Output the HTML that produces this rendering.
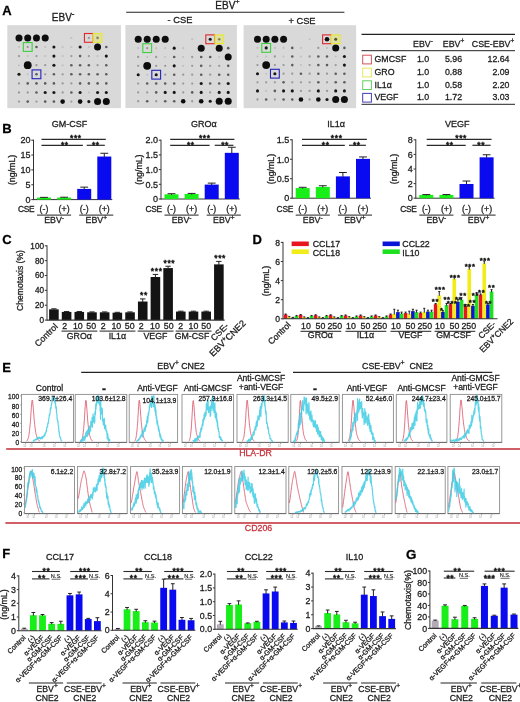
<!DOCTYPE html>
<html><head><meta charset="utf-8"><title>Figure</title>
<style>html,body{margin:0;padding:0;background:#fff;width:520px;height:702px;overflow:hidden}svg{display:block}</style>
</head><body>
<svg width="520" height="702" viewBox="0 0 520 702" style="font-family:'Liberation Sans', Arial, sans-serif" font-size="9" fill="#1c1c1c"><style>text{stroke:#1c1c1c;stroke-width:0.28px}</style><rect width="520" height="702" fill="#ffffff"/><text x="2.3" y="15" font-weight="bold" fill="#000" style="stroke:#000" font-size="13">A</text>
<text x="63.2" y="20.9" text-anchor="middle" font-size="10">EBV<tspan dy="-4.5" font-size="8" font-weight="bold">-</tspan></text>
<text x="227.5" y="8.6" text-anchor="middle" font-size="10">EBV<tspan dy="-4.5" font-size="7.5">+</tspan></text>
<line x1="126.2" y1="12.3" x2="344.4" y2="12.3" stroke="#222" stroke-width="1.1"/>
<text x="180" y="23.2" text-anchor="middle" font-size="9.3">- CSE</text>
<text x="302" y="23.6" text-anchor="middle" font-size="9.3">+ CSE</text>
<defs><filter id="bl" x="-20%" y="-20%" width="140%" height="140%"><feGaussianBlur stdDeviation="0.4"/></filter><filter id="bl2" x="-20%" y="-20%" width="140%" height="140%"><feGaussianBlur stdDeviation="0.35"/></filter></defs>
<rect x="7.3" y="25.2" width="113.6" height="83" fill="#d9d9d9"/>
<g filter="url(#bl)">
<circle cx="19" cy="37.9" r="3.5" fill="#0a0a0a"/>
<circle cx="27.73" cy="37.9" r="3.5" fill="#0a0a0a"/>
<circle cx="36.46" cy="37.9" r="3.5" fill="#0a0a0a"/>
<circle cx="45.19" cy="37.9" r="3.5" fill="#0a0a0a"/>
<circle cx="71.38" cy="37.9" r="1.05" fill="#c0c0c0"/>
<circle cx="88.84" cy="37.9" r="1.15" fill="#999999"/>
<circle cx="97.57" cy="37.9" r="1.3" fill="#5c5c5c"/>
<circle cx="19" cy="47" r="1.05" fill="#c0c0c0"/>
<circle cx="27.73" cy="47" r="1.15" fill="#999999"/>
<circle cx="36.46" cy="47" r="1.3" fill="#5c5c5c"/>
<circle cx="45.19" cy="47" r="1.05" fill="#c0c0c0"/>
<circle cx="53.92" cy="47" r="1.55" fill="#181818"/>
<circle cx="62.65" cy="47" r="1.05" fill="#c0c0c0"/>
<circle cx="71.38" cy="47" r="1.05" fill="#c0c0c0"/>
<circle cx="80.11" cy="47" r="1.55" fill="#181818"/>
<circle cx="88.84" cy="47" r="1.05" fill="#c0c0c0"/>
<circle cx="97.57" cy="47" r="3.5" fill="#0a0a0a"/>
<circle cx="106.3" cy="47" r="1.3" fill="#5c5c5c"/>
<circle cx="19" cy="56.1" r="1.15" fill="#999999"/>
<circle cx="27.73" cy="56.1" r="1.05" fill="#c0c0c0"/>
<circle cx="36.46" cy="56.1" r="1.15" fill="#999999"/>
<circle cx="45.19" cy="56.1" r="1.05" fill="#c0c0c0"/>
<circle cx="53.92" cy="56.1" r="1.55" fill="#181818"/>
<circle cx="62.65" cy="56.1" r="1.05" fill="#c0c0c0"/>
<circle cx="71.38" cy="56.1" r="1.15" fill="#999999"/>
<circle cx="80.11" cy="56.1" r="1.3" fill="#5c5c5c"/>
<circle cx="88.84" cy="56.1" r="1.15" fill="#999999"/>
<circle cx="97.57" cy="56.1" r="1.05" fill="#c0c0c0"/>
<circle cx="106.3" cy="56.1" r="1.55" fill="#181818"/>
<circle cx="19" cy="65.2" r="1.05" fill="#c0c0c0"/>
<circle cx="27.73" cy="65.2" r="3.9" fill="#0a0a0a"/>
<circle cx="36.46" cy="65.2" r="1.15" fill="#999999"/>
<circle cx="45.19" cy="65.2" r="1.15" fill="#999999"/>
<circle cx="53.92" cy="65.2" r="1.55" fill="#181818"/>
<circle cx="62.65" cy="65.2" r="1.05" fill="#c0c0c0"/>
<circle cx="71.38" cy="65.2" r="1.3" fill="#5c5c5c"/>
<circle cx="80.11" cy="65.2" r="1.3" fill="#5c5c5c"/>
<circle cx="88.84" cy="65.2" r="1.3" fill="#5c5c5c"/>
<circle cx="97.57" cy="65.2" r="1.15" fill="#999999"/>
<circle cx="106.3" cy="65.2" r="1.3" fill="#5c5c5c"/>
<circle cx="19" cy="74.3" r="1.55" fill="#181818"/>
<circle cx="27.73" cy="74.3" r="1.05" fill="#c0c0c0"/>
<circle cx="36.46" cy="74.3" r="1.3" fill="#5c5c5c"/>
<circle cx="45.19" cy="74.3" r="1.15" fill="#999999"/>
<circle cx="53.92" cy="74.3" r="1.3" fill="#5c5c5c"/>
<circle cx="62.65" cy="74.3" r="1.15" fill="#999999"/>
<circle cx="71.38" cy="74.3" r="1.3" fill="#5c5c5c"/>
<circle cx="80.11" cy="74.3" r="1.3" fill="#5c5c5c"/>
<circle cx="88.84" cy="74.3" r="1.3" fill="#5c5c5c"/>
<circle cx="97.57" cy="74.3" r="1.3" fill="#5c5c5c"/>
<circle cx="106.3" cy="74.3" r="1.3" fill="#5c5c5c"/>
<circle cx="19" cy="83.4" r="1.15" fill="#999999"/>
<circle cx="27.73" cy="83.4" r="1.3" fill="#5c5c5c"/>
<circle cx="36.46" cy="83.4" r="1.3" fill="#5c5c5c"/>
<circle cx="45.19" cy="83.4" r="1.3" fill="#5c5c5c"/>
<circle cx="53.92" cy="83.4" r="1.3" fill="#5c5c5c"/>
<circle cx="62.65" cy="83.4" r="1.15" fill="#999999"/>
<circle cx="71.38" cy="83.4" r="1.15" fill="#999999"/>
<circle cx="80.11" cy="83.4" r="1.3" fill="#5c5c5c"/>
<circle cx="88.84" cy="83.4" r="1.3" fill="#5c5c5c"/>
<circle cx="97.57" cy="83.4" r="1.3" fill="#5c5c5c"/>
<circle cx="106.3" cy="83.4" r="1.3" fill="#5c5c5c"/>
<circle cx="19" cy="92.5" r="1.15" fill="#999999"/>
<circle cx="27.73" cy="92.5" r="1.15" fill="#999999"/>
<circle cx="36.46" cy="92.5" r="1.3" fill="#5c5c5c"/>
<circle cx="45.19" cy="92.5" r="1.55" fill="#181818"/>
<circle cx="53.92" cy="92.5" r="1.55" fill="#181818"/>
<circle cx="62.65" cy="92.5" r="1.15" fill="#999999"/>
<circle cx="71.38" cy="92.5" r="1.3" fill="#5c5c5c"/>
<circle cx="80.11" cy="92.5" r="1.55" fill="#181818"/>
<circle cx="88.84" cy="92.5" r="1.05" fill="#c0c0c0"/>
<circle cx="97.57" cy="92.5" r="1.55" fill="#181818"/>
<circle cx="106.3" cy="92.5" r="1.55" fill="#181818"/>
<circle cx="19" cy="101.6" r="1.15" fill="#999999"/>
<circle cx="27.73" cy="101.6" r="1.3" fill="#5c5c5c"/>
<circle cx="36.46" cy="101.6" r="1.15" fill="#999999"/>
<circle cx="45.19" cy="101.6" r="1.3" fill="#5c5c5c"/>
<circle cx="53.92" cy="101.6" r="1.3" fill="#5c5c5c"/>
<circle cx="62.65" cy="101.6" r="2.3" fill="#111111"/>
<circle cx="71.38" cy="101.6" r="1.15" fill="#999999"/>
<circle cx="80.11" cy="101.6" r="2.3" fill="#111111"/>
<circle cx="88.84" cy="101.6" r="1.55" fill="#181818"/>
<circle cx="97.57" cy="101.6" r="3.5" fill="#0a0a0a"/>
<circle cx="106.3" cy="101.6" r="3.5" fill="#0a0a0a"/>
</g>
<rect x="84.44" y="33.5" width="8.8" height="8.8" fill="none" stroke="#e0262a" stroke-width="1.1"/>
<rect x="93.27" y="33.6" width="8.6" height="8.6" fill="none" stroke="#e8e830" stroke-width="1.2" fill-opacity="0"/>
<rect x="93.27" y="33.6" width="8.6" height="8.6" fill="#f0f040" opacity="0.3"/>
<rect x="23.33" y="42.6" width="8.8" height="8.8" fill="none" stroke="#3cd03c" stroke-width="1.1"/>
<rect x="32.06" y="69.9" width="8.8" height="8.8" fill="none" stroke="#2222bb" stroke-width="1.1"/>
<rect x="125.4" y="25" width="111.5" height="83" fill="#d9d9d9"/>
<g filter="url(#bl)">
<circle cx="138.2" cy="39.3" r="3.5" fill="#0a0a0a"/>
<circle cx="147.2" cy="39.3" r="3.5" fill="#0a0a0a"/>
<circle cx="156.2" cy="39.3" r="3.5" fill="#0a0a0a"/>
<circle cx="165.2" cy="39.3" r="3.5" fill="#0a0a0a"/>
<circle cx="192.2" cy="39.3" r="1.05" fill="#c0c0c0"/>
<circle cx="210.2" cy="39.3" r="1.55" fill="#181818"/>
<circle cx="219.2" cy="39.3" r="1.3" fill="#5c5c5c"/>
<circle cx="138.2" cy="48.15" r="1.05" fill="#c0c0c0"/>
<circle cx="147.2" cy="48.15" r="1.15" fill="#999999"/>
<circle cx="156.2" cy="48.15" r="1.05" fill="#c0c0c0"/>
<circle cx="165.2" cy="48.15" r="1.05" fill="#c0c0c0"/>
<circle cx="174.2" cy="48.15" r="1.55" fill="#181818"/>
<circle cx="183.2" cy="48.15" r="1.05" fill="#c0c0c0"/>
<circle cx="201.2" cy="48.15" r="3.5" fill="#0a0a0a"/>
<circle cx="219.2" cy="48.15" r="3.5" fill="#0a0a0a"/>
<circle cx="228.2" cy="48.15" r="1.3" fill="#5c5c5c"/>
<circle cx="138.2" cy="57" r="1.15" fill="#999999"/>
<circle cx="147.2" cy="57" r="1.05" fill="#c0c0c0"/>
<circle cx="156.2" cy="57" r="1.15" fill="#999999"/>
<circle cx="165.2" cy="57" r="1.05" fill="#c0c0c0"/>
<circle cx="174.2" cy="57" r="1.3" fill="#5c5c5c"/>
<circle cx="183.2" cy="57" r="1.05" fill="#c0c0c0"/>
<circle cx="192.2" cy="57" r="1.15" fill="#999999"/>
<circle cx="201.2" cy="57" r="1.3" fill="#5c5c5c"/>
<circle cx="210.2" cy="57" r="1.3" fill="#5c5c5c"/>
<circle cx="219.2" cy="57" r="1.05" fill="#c0c0c0"/>
<circle cx="228.2" cy="57" r="3.5" fill="#0a0a0a"/>
<circle cx="138.2" cy="65.85" r="1.15" fill="#999999"/>
<circle cx="147.2" cy="65.85" r="3.9" fill="#0a0a0a"/>
<circle cx="156.2" cy="65.85" r="1.15" fill="#999999"/>
<circle cx="165.2" cy="65.85" r="1.15" fill="#999999"/>
<circle cx="174.2" cy="65.85" r="1.55" fill="#181818"/>
<circle cx="183.2" cy="65.85" r="1.05" fill="#c0c0c0"/>
<circle cx="192.2" cy="65.85" r="1.15" fill="#999999"/>
<circle cx="201.2" cy="65.85" r="1.3" fill="#5c5c5c"/>
<circle cx="210.2" cy="65.85" r="1.15" fill="#999999"/>
<circle cx="219.2" cy="65.85" r="1.15" fill="#999999"/>
<circle cx="228.2" cy="65.85" r="1.3" fill="#5c5c5c"/>
<circle cx="138.2" cy="74.7" r="1.55" fill="#181818"/>
<circle cx="147.2" cy="74.7" r="1.05" fill="#c0c0c0"/>
<circle cx="156.2" cy="74.7" r="1.55" fill="#181818"/>
<circle cx="165.2" cy="74.7" r="1.15" fill="#999999"/>
<circle cx="174.2" cy="74.7" r="1.3" fill="#5c5c5c"/>
<circle cx="183.2" cy="74.7" r="1.15" fill="#999999"/>
<circle cx="192.2" cy="74.7" r="1.15" fill="#999999"/>
<circle cx="201.2" cy="74.7" r="1.3" fill="#5c5c5c"/>
<circle cx="210.2" cy="74.7" r="1.15" fill="#999999"/>
<circle cx="219.2" cy="74.7" r="1.3" fill="#5c5c5c"/>
<circle cx="228.2" cy="74.7" r="1.3" fill="#5c5c5c"/>
<circle cx="138.2" cy="83.55" r="1.15" fill="#999999"/>
<circle cx="147.2" cy="83.55" r="1.3" fill="#5c5c5c"/>
<circle cx="156.2" cy="83.55" r="1.3" fill="#5c5c5c"/>
<circle cx="165.2" cy="83.55" r="1.3" fill="#5c5c5c"/>
<circle cx="174.2" cy="83.55" r="1.3" fill="#5c5c5c"/>
<circle cx="183.2" cy="83.55" r="1.15" fill="#999999"/>
<circle cx="192.2" cy="83.55" r="1.15" fill="#999999"/>
<circle cx="201.2" cy="83.55" r="1.55" fill="#181818"/>
<circle cx="210.2" cy="83.55" r="1.3" fill="#5c5c5c"/>
<circle cx="219.2" cy="83.55" r="1.3" fill="#5c5c5c"/>
<circle cx="228.2" cy="83.55" r="1.55" fill="#181818"/>
<circle cx="138.2" cy="92.4" r="1.15" fill="#999999"/>
<circle cx="147.2" cy="92.4" r="1.15" fill="#999999"/>
<circle cx="156.2" cy="92.4" r="1.3" fill="#5c5c5c"/>
<circle cx="165.2" cy="92.4" r="1.55" fill="#181818"/>
<circle cx="174.2" cy="92.4" r="1.55" fill="#181818"/>
<circle cx="183.2" cy="92.4" r="1.15" fill="#999999"/>
<circle cx="192.2" cy="92.4" r="1.3" fill="#5c5c5c"/>
<circle cx="201.2" cy="92.4" r="1.55" fill="#181818"/>
<circle cx="210.2" cy="92.4" r="1.15" fill="#999999"/>
<circle cx="219.2" cy="92.4" r="1.55" fill="#181818"/>
<circle cx="228.2" cy="92.4" r="1.55" fill="#181818"/>
<circle cx="138.2" cy="101.25" r="1.15" fill="#999999"/>
<circle cx="147.2" cy="101.25" r="1.3" fill="#5c5c5c"/>
<circle cx="156.2" cy="101.25" r="1.15" fill="#999999"/>
<circle cx="165.2" cy="101.25" r="1.3" fill="#5c5c5c"/>
<circle cx="174.2" cy="101.25" r="1.3" fill="#5c5c5c"/>
<circle cx="183.2" cy="101.25" r="2.3" fill="#111111"/>
<circle cx="192.2" cy="101.25" r="1.15" fill="#999999"/>
<circle cx="201.2" cy="101.25" r="2.3" fill="#111111"/>
<circle cx="210.2" cy="101.25" r="1.55" fill="#181818"/>
<circle cx="219.2" cy="101.25" r="3.5" fill="#0a0a0a"/>
<circle cx="228.2" cy="101.25" r="3.5" fill="#0a0a0a"/>
</g>
<rect x="205.8" y="34.9" width="8.8" height="8.8" fill="none" stroke="#e0262a" stroke-width="1.1"/>
<rect x="214.9" y="35" width="8.6" height="8.6" fill="none" stroke="#e8e830" stroke-width="1.2" fill-opacity="0"/>
<rect x="214.9" y="35" width="8.6" height="8.6" fill="#f0f040" opacity="0.3"/>
<rect x="142.8" y="43.75" width="8.8" height="8.8" fill="none" stroke="#3cd03c" stroke-width="1.1"/>
<rect x="151.8" y="70.3" width="8.8" height="8.8" fill="none" stroke="#2222bb" stroke-width="1.1"/>
<rect x="243.6" y="25.2" width="112.5" height="83" fill="#d9d9d9"/>
<g filter="url(#bl)">
<circle cx="257.5" cy="39.3" r="3.5" fill="#0a0a0a"/>
<circle cx="266.19" cy="39.3" r="3.5" fill="#0a0a0a"/>
<circle cx="274.88" cy="39.3" r="3.5" fill="#0a0a0a"/>
<circle cx="283.57" cy="39.3" r="3.5" fill="#0a0a0a"/>
<circle cx="309.64" cy="39.3" r="1.05" fill="#c0c0c0"/>
<circle cx="327.02" cy="39.3" r="2.3" fill="#111111"/>
<circle cx="335.71" cy="39.3" r="1.55" fill="#181818"/>
<circle cx="257.5" cy="47.9" r="1.05" fill="#c0c0c0"/>
<circle cx="266.19" cy="47.9" r="1.55" fill="#181818"/>
<circle cx="274.88" cy="47.9" r="1.05" fill="#c0c0c0"/>
<circle cx="283.57" cy="47.9" r="1.05" fill="#c0c0c0"/>
<circle cx="292.26" cy="47.9" r="1.3" fill="#5c5c5c"/>
<circle cx="300.95" cy="47.9" r="1.05" fill="#c0c0c0"/>
<circle cx="318.33" cy="47.9" r="1.15" fill="#999999"/>
<circle cx="327.02" cy="47.9" r="1.05" fill="#c0c0c0"/>
<circle cx="335.71" cy="47.9" r="3.5" fill="#0a0a0a"/>
<circle cx="344.4" cy="47.9" r="1.3" fill="#5c5c5c"/>
<circle cx="257.5" cy="56.5" r="1.05" fill="#c0c0c0"/>
<circle cx="266.19" cy="56.5" r="1.05" fill="#c0c0c0"/>
<circle cx="274.88" cy="56.5" r="1.15" fill="#999999"/>
<circle cx="283.57" cy="56.5" r="1.05" fill="#c0c0c0"/>
<circle cx="292.26" cy="56.5" r="1.3" fill="#5c5c5c"/>
<circle cx="300.95" cy="56.5" r="1.05" fill="#c0c0c0"/>
<circle cx="309.64" cy="56.5" r="1.15" fill="#999999"/>
<circle cx="318.33" cy="56.5" r="1.3" fill="#5c5c5c"/>
<circle cx="327.02" cy="56.5" r="1.3" fill="#5c5c5c"/>
<circle cx="335.71" cy="56.5" r="1.05" fill="#c0c0c0"/>
<circle cx="344.4" cy="56.5" r="1.55" fill="#181818"/>
<circle cx="257.5" cy="65.1" r="1.15" fill="#999999"/>
<circle cx="266.19" cy="65.1" r="3.9" fill="#0a0a0a"/>
<circle cx="274.88" cy="65.1" r="1.15" fill="#999999"/>
<circle cx="283.57" cy="65.1" r="1.15" fill="#999999"/>
<circle cx="292.26" cy="65.1" r="1.3" fill="#5c5c5c"/>
<circle cx="300.95" cy="65.1" r="1.05" fill="#c0c0c0"/>
<circle cx="309.64" cy="65.1" r="1.15" fill="#999999"/>
<circle cx="318.33" cy="65.1" r="1.3" fill="#5c5c5c"/>
<circle cx="327.02" cy="65.1" r="1.3" fill="#5c5c5c"/>
<circle cx="335.71" cy="65.1" r="1.15" fill="#999999"/>
<circle cx="344.4" cy="65.1" r="1.55" fill="#181818"/>
<circle cx="257.5" cy="73.7" r="1.55" fill="#181818"/>
<circle cx="266.19" cy="73.7" r="1.05" fill="#c0c0c0"/>
<circle cx="274.88" cy="73.7" r="1.55" fill="#181818"/>
<circle cx="283.57" cy="73.7" r="1.15" fill="#999999"/>
<circle cx="292.26" cy="73.7" r="1.15" fill="#999999"/>
<circle cx="300.95" cy="73.7" r="1.3" fill="#5c5c5c"/>
<circle cx="309.64" cy="73.7" r="1.15" fill="#999999"/>
<circle cx="318.33" cy="73.7" r="1.3" fill="#5c5c5c"/>
<circle cx="327.02" cy="73.7" r="1.15" fill="#999999"/>
<circle cx="335.71" cy="73.7" r="1.3" fill="#5c5c5c"/>
<circle cx="344.4" cy="73.7" r="1.3" fill="#5c5c5c"/>
<circle cx="257.5" cy="82.3" r="1.15" fill="#999999"/>
<circle cx="266.19" cy="82.3" r="1.15" fill="#999999"/>
<circle cx="274.88" cy="82.3" r="1.15" fill="#999999"/>
<circle cx="283.57" cy="82.3" r="1.3" fill="#5c5c5c"/>
<circle cx="292.26" cy="82.3" r="1.15" fill="#999999"/>
<circle cx="300.95" cy="82.3" r="1.15" fill="#999999"/>
<circle cx="309.64" cy="82.3" r="1.15" fill="#999999"/>
<circle cx="318.33" cy="82.3" r="1.3" fill="#5c5c5c"/>
<circle cx="327.02" cy="82.3" r="1.15" fill="#999999"/>
<circle cx="335.71" cy="82.3" r="1.3" fill="#5c5c5c"/>
<circle cx="344.4" cy="82.3" r="1.3" fill="#5c5c5c"/>
<circle cx="257.5" cy="90.9" r="1.55" fill="#181818"/>
<circle cx="266.19" cy="90.9" r="1.05" fill="#c0c0c0"/>
<circle cx="274.88" cy="90.9" r="1.3" fill="#5c5c5c"/>
<circle cx="283.57" cy="90.9" r="1.55" fill="#181818"/>
<circle cx="292.26" cy="90.9" r="1.55" fill="#181818"/>
<circle cx="300.95" cy="90.9" r="1.15" fill="#999999"/>
<circle cx="309.64" cy="90.9" r="1.15" fill="#999999"/>
<circle cx="318.33" cy="90.9" r="1.55" fill="#181818"/>
<circle cx="327.02" cy="90.9" r="1.15" fill="#999999"/>
<circle cx="335.71" cy="90.9" r="1.55" fill="#181818"/>
<circle cx="344.4" cy="90.9" r="1.55" fill="#181818"/>
<circle cx="257.5" cy="99.5" r="1.15" fill="#999999"/>
<circle cx="266.19" cy="99.5" r="1.3" fill="#5c5c5c"/>
<circle cx="274.88" cy="99.5" r="1.15" fill="#999999"/>
<circle cx="283.57" cy="99.5" r="1.3" fill="#5c5c5c"/>
<circle cx="292.26" cy="99.5" r="1.3" fill="#5c5c5c"/>
<circle cx="300.95" cy="99.5" r="2.3" fill="#111111"/>
<circle cx="309.64" cy="99.5" r="1.15" fill="#999999"/>
<circle cx="318.33" cy="99.5" r="2.3" fill="#111111"/>
<circle cx="327.02" cy="99.5" r="1.55" fill="#181818"/>
<circle cx="335.71" cy="99.5" r="3.5" fill="#0a0a0a"/>
<circle cx="344.4" cy="99.5" r="3.5" fill="#0a0a0a"/>
</g>
<rect x="322.62" y="34.9" width="8.8" height="8.8" fill="none" stroke="#e0262a" stroke-width="1.1"/>
<rect x="331.41" y="35" width="8.6" height="8.6" fill="none" stroke="#e8e830" stroke-width="1.2" fill-opacity="0"/>
<rect x="331.41" y="35" width="8.6" height="8.6" fill="#f0f040" opacity="0.3"/>
<rect x="261.79" y="43.5" width="8.8" height="8.8" fill="none" stroke="#3cd03c" stroke-width="1.1"/>
<rect x="270.48" y="69.3" width="8.8" height="8.8" fill="none" stroke="#2222bb" stroke-width="1.1"/>
<line x1="361.5" y1="34.4" x2="515" y2="34.4" stroke="#222" stroke-width="1.1"/>
<line x1="361.5" y1="50.7" x2="515" y2="50.7" stroke="#222" stroke-width="1"/>
<line x1="361.5" y1="104.3" x2="515" y2="104.3" stroke="#222" stroke-width="1"/>
<text x="423" y="46.6" text-anchor="middle" font-size="8.8">EBV<tspan dy="-3.5" font-size="6.5">-</tspan></text>
<text x="453.5" y="46.6" text-anchor="middle" font-size="8.8">EBV<tspan dy="-3.5" font-size="6.5">+</tspan></text>
<text x="493" y="46.6" text-anchor="middle" font-size="8.8">CSE-EBV<tspan dy="-3.5" font-size="6.5">+</tspan></text>
<rect x="362.7" y="55.2" width="8.7" height="8.7" fill="none" stroke="#d8505a" stroke-width="1"/>
<text x="374.5" y="62.2" font-size="8.8">GMCSF</text>
<text x="423" y="62.2" text-anchor="middle" font-size="8.8">1.0</text>
<text x="453.5" y="62.2" text-anchor="middle" font-size="8.8">5.96</text>
<text x="509.5" y="62.2" text-anchor="end" font-size="8.8">12.64</text>
<rect x="362.7" y="68.2" width="8.7" height="8.7" fill="none" stroke="#e8e860" stroke-width="1"/>
<text x="374.5" y="75.2" font-size="8.8">GRO</text>
<text x="423" y="75.2" text-anchor="middle" font-size="8.8">1.0</text>
<text x="453.5" y="75.2" text-anchor="middle" font-size="8.8">0.88</text>
<text x="509.5" y="75.2" text-anchor="end" font-size="8.8">2.09</text>
<rect x="362.7" y="80.8" width="8.7" height="8.7" fill="none" stroke="#60d060" stroke-width="1"/>
<text x="374.5" y="87.8" font-size="8.8">IL1&#945;</text>
<text x="423" y="87.8" text-anchor="middle" font-size="8.8">1.0</text>
<text x="453.5" y="87.8" text-anchor="middle" font-size="8.8">0.58</text>
<text x="509.5" y="87.8" text-anchor="end" font-size="8.8">2.20</text>
<rect x="362.7" y="93.4" width="8.7" height="8.7" fill="none" stroke="#4040b0" stroke-width="1"/>
<text x="374.5" y="100.4" font-size="8.8">VEGF</text>
<text x="423" y="100.4" text-anchor="middle" font-size="8.8">1.0</text>
<text x="453.5" y="100.4" text-anchor="middle" font-size="8.8">1.72</text>
<text x="509.5" y="100.4" text-anchor="end" font-size="8.8">3.03</text>
<text x="2.3" y="132.5" font-weight="bold" fill="#000" style="stroke:#000" font-size="13">B</text>
<line x1="33.5" y1="200.1" x2="33.5" y2="139.7" stroke="#333333" stroke-width="1"/>
<line x1="31.3" y1="199.6" x2="33.5" y2="199.6" stroke="#333333" stroke-width="1"/>
<text x="30.5" y="202.84" text-anchor="end">0</text>
<line x1="31.3" y1="184.75" x2="33.5" y2="184.75" stroke="#333333" stroke-width="1"/>
<text x="30.5" y="187.99" text-anchor="end">5</text>
<line x1="31.3" y1="169.9" x2="33.5" y2="169.9" stroke="#333333" stroke-width="1"/>
<text x="30.5" y="173.14" text-anchor="end">10</text>
<line x1="31.3" y1="155.05" x2="33.5" y2="155.05" stroke="#333333" stroke-width="1"/>
<text x="30.5" y="158.29" text-anchor="end">15</text>
<line x1="31.3" y1="140.2" x2="33.5" y2="140.2" stroke="#333333" stroke-width="1"/>
<text x="30.5" y="143.44" text-anchor="end">20</text>
<line x1="33.5" y1="199.6" x2="112.3" y2="199.6" stroke="#333333" stroke-width="1"/>
<rect x="37" y="197.52" width="14" height="2.08" fill="#18ee18"/>
<line x1="44" y1="197.37" x2="44" y2="198.02" stroke="#222" stroke-width="1"/>
<line x1="40.08" y1="197.37" x2="47.92" y2="197.37" stroke="#222" stroke-width="1"/>
<rect x="57.1" y="197.52" width="14" height="2.08" fill="#18ee18"/>
<line x1="64.1" y1="197.22" x2="64.1" y2="198.02" stroke="#222" stroke-width="1"/>
<line x1="60.18" y1="197.22" x2="68.02" y2="197.22" stroke="#222" stroke-width="1"/>
<rect x="77.2" y="188.91" width="14" height="10.69" fill="#0a0af0"/>
<line x1="84.2" y1="187.13" x2="84.2" y2="189.41" stroke="#222" stroke-width="1"/>
<line x1="80.28" y1="187.13" x2="88.12" y2="187.13" stroke="#222" stroke-width="1"/>
<rect x="97.3" y="156.53" width="14" height="43.06" fill="#0a0af0"/>
<line x1="104.3" y1="153.27" x2="104.3" y2="157.03" stroke="#222" stroke-width="1"/>
<line x1="100.38" y1="153.27" x2="108.22" y2="153.27" stroke="#222" stroke-width="1"/>
<text x="69.6" y="127.4" text-anchor="middle">GM-CSF</text>
<line x1="41.5" y1="139.4" x2="105.8" y2="139.4" stroke="#2a2a2a" stroke-width="1.2"/>
<line x1="41.5" y1="145.3" x2="82.9" y2="145.3" stroke="#2a2a2a" stroke-width="1.2"/>
<line x1="86.7" y1="145.3" x2="104.8" y2="145.3" stroke="#2a2a2a" stroke-width="1.2"/>
<text x="75.9" y="141.4" text-anchor="middle" font-size="8.5" letter-spacing="0.6" style="stroke-width:0.5px">***</text>
<text x="64.8" y="147.7" text-anchor="middle" font-size="8.5" letter-spacing="0.6" style="stroke-width:0.5px">**</text>
<text x="95.8" y="147.7" text-anchor="middle" font-size="8.5" letter-spacing="0.6" style="stroke-width:0.5px">**</text>
<text x="17.9" y="211.5" font-size="8.4" letter-spacing="-0.25">CSE</text>
<text x="44" y="211.8" text-anchor="middle" font-size="8.8">(-)</text>
<text x="64.1" y="211.8" text-anchor="middle" font-size="8.8">(+)</text>
<text x="84.2" y="211.8" text-anchor="middle" font-size="8.8">(-)</text>
<text x="104.3" y="211.8" text-anchor="middle" font-size="8.8">(+)</text>
<line x1="37" y1="215.1" x2="71.1" y2="215.1" stroke="#222" stroke-width="1"/>
<line x1="79.2" y1="215.1" x2="113.3" y2="215.1" stroke="#222" stroke-width="1"/>
<text x="54.05" y="222.8" text-anchor="middle" font-size="8.8">EBV<tspan dy="-3.2" font-size="6.5">-</tspan></text>
<text x="96.25" y="222.8" text-anchor="middle" font-size="8.8">EBV<tspan dy="-3.2" font-size="6.5">+</tspan></text>
<text x="15" y="169.9" text-anchor="middle" font-size="8.8" transform="rotate(-90 15 169.9)">(ng/mL)</text>
<line x1="161" y1="199.5" x2="161" y2="139.7" stroke="#333333" stroke-width="1"/>
<line x1="158.8" y1="199" x2="161" y2="199" stroke="#333333" stroke-width="1"/>
<text x="158" y="202.24" text-anchor="end">0</text>
<line x1="158.8" y1="184.3" x2="161" y2="184.3" stroke="#333333" stroke-width="1"/>
<text x="158" y="187.54" text-anchor="end">0.5</text>
<line x1="158.8" y1="169.6" x2="161" y2="169.6" stroke="#333333" stroke-width="1"/>
<text x="158" y="172.84" text-anchor="end">1.0</text>
<line x1="158.8" y1="154.9" x2="161" y2="154.9" stroke="#333333" stroke-width="1"/>
<text x="158" y="158.14" text-anchor="end">1.5</text>
<line x1="158.8" y1="140.2" x2="161" y2="140.2" stroke="#333333" stroke-width="1"/>
<text x="158" y="143.44" text-anchor="end">2.0</text>
<line x1="161" y1="199" x2="239.8" y2="199" stroke="#333333" stroke-width="1"/>
<rect x="164.5" y="194.3" width="14" height="4.7" fill="#18ee18"/>
<line x1="171.5" y1="193.71" x2="171.5" y2="194.8" stroke="#222" stroke-width="1"/>
<line x1="167.58" y1="193.71" x2="175.42" y2="193.71" stroke="#222" stroke-width="1"/>
<rect x="184.6" y="194" width="14" height="5" fill="#18ee18"/>
<line x1="191.6" y1="193.41" x2="191.6" y2="194.5" stroke="#222" stroke-width="1"/>
<line x1="187.68" y1="193.41" x2="195.52" y2="193.41" stroke="#222" stroke-width="1"/>
<rect x="204.7" y="184.59" width="14" height="14.41" fill="#0a0af0"/>
<line x1="211.7" y1="183.12" x2="211.7" y2="185.09" stroke="#222" stroke-width="1"/>
<line x1="207.78" y1="183.12" x2="215.62" y2="183.12" stroke="#222" stroke-width="1"/>
<rect x="224.8" y="152.84" width="14" height="46.16" fill="#0a0af0"/>
<line x1="231.8" y1="147.26" x2="231.8" y2="153.34" stroke="#222" stroke-width="1"/>
<line x1="227.88" y1="147.26" x2="235.72" y2="147.26" stroke="#222" stroke-width="1"/>
<text x="203.9" y="127.4" text-anchor="middle">GRO&#945;</text>
<line x1="170.2" y1="139.4" x2="234.4" y2="139.4" stroke="#2a2a2a" stroke-width="1.2"/>
<line x1="170.2" y1="145.3" x2="209.6" y2="145.3" stroke="#2a2a2a" stroke-width="1.2"/>
<line x1="214.7" y1="145.3" x2="233.4" y2="145.3" stroke="#2a2a2a" stroke-width="1.2"/>
<text x="204.8" y="141.4" text-anchor="middle" font-size="8.5" letter-spacing="0.6" style="stroke-width:0.5px">***</text>
<text x="190.8" y="147.7" text-anchor="middle" font-size="8.5" letter-spacing="0.6" style="stroke-width:0.5px">**</text>
<text x="225.1" y="147.7" text-anchor="middle" font-size="8.5" letter-spacing="0.6" style="stroke-width:0.5px">**</text>
<text x="145.4" y="211.5" font-size="8.4" letter-spacing="-0.25">CSE</text>
<text x="171.5" y="211.8" text-anchor="middle" font-size="8.8">(-)</text>
<text x="191.6" y="211.8" text-anchor="middle" font-size="8.8">(+)</text>
<text x="211.7" y="211.8" text-anchor="middle" font-size="8.8">(-)</text>
<text x="231.8" y="211.8" text-anchor="middle" font-size="8.8">(+)</text>
<line x1="164.5" y1="215.1" x2="198.6" y2="215.1" stroke="#222" stroke-width="1"/>
<line x1="206.7" y1="215.1" x2="240.8" y2="215.1" stroke="#222" stroke-width="1"/>
<text x="181.55" y="222.8" text-anchor="middle" font-size="8.8">EBV<tspan dy="-3.2" font-size="6.5">-</tspan></text>
<text x="223.75" y="222.8" text-anchor="middle" font-size="8.8">EBV<tspan dy="-3.2" font-size="6.5">+</tspan></text>
<text x="142.5" y="169.6" text-anchor="middle" font-size="8.8" transform="rotate(-90 142.5 169.6)">(ng/mL)</text>
<line x1="292.2" y1="198.7" x2="292.2" y2="139.3" stroke="#333333" stroke-width="1"/>
<line x1="290" y1="198.2" x2="292.2" y2="198.2" stroke="#333333" stroke-width="1"/>
<text x="289.2" y="201.44" text-anchor="end">0</text>
<line x1="290" y1="178.73" x2="292.2" y2="178.73" stroke="#333333" stroke-width="1"/>
<text x="289.2" y="181.97" text-anchor="end">0.5</text>
<line x1="290" y1="159.27" x2="292.2" y2="159.27" stroke="#333333" stroke-width="1"/>
<text x="289.2" y="162.51" text-anchor="end">1.0</text>
<line x1="290" y1="139.8" x2="292.2" y2="139.8" stroke="#333333" stroke-width="1"/>
<text x="289.2" y="143.04" text-anchor="end">1.5</text>
<line x1="292.2" y1="198.2" x2="371" y2="198.2" stroke="#333333" stroke-width="1"/>
<rect x="295.7" y="188.08" width="14" height="10.12" fill="#18ee18"/>
<line x1="302.7" y1="187.3" x2="302.7" y2="188.58" stroke="#222" stroke-width="1"/>
<line x1="298.78" y1="187.3" x2="306.62" y2="187.3" stroke="#222" stroke-width="1"/>
<rect x="315.8" y="186.91" width="14" height="11.29" fill="#18ee18"/>
<line x1="322.8" y1="185.74" x2="322.8" y2="187.41" stroke="#222" stroke-width="1"/>
<line x1="318.88" y1="185.74" x2="326.72" y2="185.74" stroke="#222" stroke-width="1"/>
<rect x="335.9" y="176.4" width="14" height="21.8" fill="#0a0af0"/>
<line x1="342.9" y1="172.5" x2="342.9" y2="176.9" stroke="#222" stroke-width="1"/>
<line x1="338.98" y1="172.5" x2="346.82" y2="172.5" stroke="#222" stroke-width="1"/>
<rect x="356" y="158.88" width="14" height="39.32" fill="#0a0af0"/>
<line x1="363" y1="156.93" x2="363" y2="159.38" stroke="#222" stroke-width="1"/>
<line x1="359.08" y1="156.93" x2="366.92" y2="156.93" stroke="#222" stroke-width="1"/>
<text x="336" y="127.4" text-anchor="middle">IL1&#945;</text>
<line x1="302" y1="139.4" x2="366.9" y2="139.4" stroke="#2a2a2a" stroke-width="1.2"/>
<line x1="302" y1="145.3" x2="344.8" y2="145.3" stroke="#2a2a2a" stroke-width="1.2"/>
<line x1="349" y1="145.3" x2="365.9" y2="145.3" stroke="#2a2a2a" stroke-width="1.2"/>
<text x="336.7" y="141.4" text-anchor="middle" font-size="8.5" letter-spacing="0.6" style="stroke-width:0.5px">***</text>
<text x="325.7" y="147.7" text-anchor="middle" font-size="8.5" letter-spacing="0.6" style="stroke-width:0.5px">**</text>
<text x="356.8" y="147.7" text-anchor="middle" font-size="8.5" letter-spacing="0.6" style="stroke-width:0.5px">**</text>
<text x="276.6" y="211.5" font-size="8.4" letter-spacing="-0.25">CSE</text>
<text x="302.7" y="211.8" text-anchor="middle" font-size="8.8">(-)</text>
<text x="322.8" y="211.8" text-anchor="middle" font-size="8.8">(+)</text>
<text x="342.9" y="211.8" text-anchor="middle" font-size="8.8">(-)</text>
<text x="363" y="211.8" text-anchor="middle" font-size="8.8">(+)</text>
<line x1="295.7" y1="215.1" x2="329.8" y2="215.1" stroke="#222" stroke-width="1"/>
<line x1="337.9" y1="215.1" x2="372" y2="215.1" stroke="#222" stroke-width="1"/>
<text x="312.75" y="222.8" text-anchor="middle" font-size="8.8">EBV<tspan dy="-3.2" font-size="6.5">-</tspan></text>
<text x="354.95" y="222.8" text-anchor="middle" font-size="8.8">EBV<tspan dy="-3.2" font-size="6.5">+</tspan></text>
<text x="273.7" y="169" text-anchor="middle" font-size="8.8" transform="rotate(-90 273.7 169)">(ng/mL)</text>
<line x1="415.8" y1="198.7" x2="415.8" y2="139.3" stroke="#333333" stroke-width="1"/>
<line x1="413.6" y1="198.2" x2="415.8" y2="198.2" stroke="#333333" stroke-width="1"/>
<text x="412.8" y="201.44" text-anchor="end">0</text>
<line x1="413.6" y1="183.6" x2="415.8" y2="183.6" stroke="#333333" stroke-width="1"/>
<text x="412.8" y="186.84" text-anchor="end">2</text>
<line x1="413.6" y1="169" x2="415.8" y2="169" stroke="#333333" stroke-width="1"/>
<text x="412.8" y="172.24" text-anchor="end">4</text>
<line x1="413.6" y1="154.4" x2="415.8" y2="154.4" stroke="#333333" stroke-width="1"/>
<text x="412.8" y="157.64" text-anchor="end">6</text>
<line x1="413.6" y1="139.8" x2="415.8" y2="139.8" stroke="#333333" stroke-width="1"/>
<text x="412.8" y="143.04" text-anchor="end">8</text>
<line x1="415.8" y1="198.2" x2="494.6" y2="198.2" stroke="#333333" stroke-width="1"/>
<rect x="419.3" y="194.91" width="14" height="3.28" fill="#18ee18"/>
<line x1="426.3" y1="194.55" x2="426.3" y2="195.41" stroke="#222" stroke-width="1"/>
<line x1="422.38" y1="194.55" x2="430.22" y2="194.55" stroke="#222" stroke-width="1"/>
<rect x="439.4" y="194.91" width="14" height="3.28" fill="#18ee18"/>
<line x1="446.4" y1="194.55" x2="446.4" y2="195.41" stroke="#222" stroke-width="1"/>
<line x1="442.48" y1="194.55" x2="450.32" y2="194.55" stroke="#222" stroke-width="1"/>
<rect x="459.5" y="183.97" width="14" height="14.23" fill="#0a0af0"/>
<line x1="466.5" y1="181.04" x2="466.5" y2="184.47" stroke="#222" stroke-width="1"/>
<line x1="462.58" y1="181.04" x2="470.42" y2="181.04" stroke="#222" stroke-width="1"/>
<rect x="479.6" y="157.32" width="14" height="40.88" fill="#0a0af0"/>
<line x1="486.6" y1="154.77" x2="486.6" y2="157.82" stroke="#222" stroke-width="1"/>
<line x1="482.68" y1="154.77" x2="490.52" y2="154.77" stroke="#222" stroke-width="1"/>
<text x="457.2" y="127.4" text-anchor="middle">VEGF</text>
<line x1="426.7" y1="139.4" x2="491.6" y2="139.4" stroke="#2a2a2a" stroke-width="1.2"/>
<line x1="426.7" y1="145.3" x2="465.7" y2="145.3" stroke="#2a2a2a" stroke-width="1.2"/>
<line x1="472.4" y1="145.3" x2="490.6" y2="145.3" stroke="#2a2a2a" stroke-width="1.2"/>
<text x="461.1" y="141.4" text-anchor="middle" font-size="8.5" letter-spacing="0.6" style="stroke-width:0.5px">***</text>
<text x="449.8" y="147.7" text-anchor="middle" font-size="8.5" letter-spacing="0.6" style="stroke-width:0.5px">**</text>
<text x="481.2" y="147.7" text-anchor="middle" font-size="8.5" letter-spacing="0.6" style="stroke-width:0.5px">**</text>
<text x="400.2" y="211.5" font-size="8.4" letter-spacing="-0.25">CSE</text>
<text x="426.3" y="211.8" text-anchor="middle" font-size="8.8">(-)</text>
<text x="446.4" y="211.8" text-anchor="middle" font-size="8.8">(+)</text>
<text x="466.5" y="211.8" text-anchor="middle" font-size="8.8">(-)</text>
<text x="486.6" y="211.8" text-anchor="middle" font-size="8.8">(+)</text>
<line x1="419.3" y1="215.1" x2="453.4" y2="215.1" stroke="#222" stroke-width="1"/>
<line x1="461.5" y1="215.1" x2="495.6" y2="215.1" stroke="#222" stroke-width="1"/>
<text x="436.35" y="222.8" text-anchor="middle" font-size="8.8">EBV<tspan dy="-3.2" font-size="6.5">-</tspan></text>
<text x="478.55" y="222.8" text-anchor="middle" font-size="8.8">EBV<tspan dy="-3.2" font-size="6.5">+</tspan></text>
<text x="397.3" y="169" text-anchor="middle" font-size="8.8" transform="rotate(-90 397.3 169)">(ng/mL)</text>
<text x="2.3" y="244" font-weight="bold" fill="#000" style="stroke:#000" font-size="13">C</text>
<line x1="47" y1="320.6" x2="47" y2="245.3" stroke="#333333" stroke-width="1"/>
<line x1="44.8" y1="320.1" x2="47" y2="320.1" stroke="#333333" stroke-width="1"/>
<text x="44" y="323.05" text-anchor="end" font-size="8.2">0</text>
<line x1="44.8" y1="305.24" x2="47" y2="305.24" stroke="#333333" stroke-width="1"/>
<text x="44" y="308.19" text-anchor="end" font-size="8.2">20</text>
<line x1="44.8" y1="290.38" x2="47" y2="290.38" stroke="#333333" stroke-width="1"/>
<text x="44" y="293.33" text-anchor="end" font-size="8.2">40</text>
<line x1="44.8" y1="275.52" x2="47" y2="275.52" stroke="#333333" stroke-width="1"/>
<text x="44" y="278.47" text-anchor="end" font-size="8.2">60</text>
<line x1="44.8" y1="260.66" x2="47" y2="260.66" stroke="#333333" stroke-width="1"/>
<text x="44" y="263.61" text-anchor="end" font-size="8.2">80</text>
<line x1="44.8" y1="245.8" x2="47" y2="245.8" stroke="#333333" stroke-width="1"/>
<text x="44" y="248.75" text-anchor="end" font-size="8.2">100</text>
<rect x="49.1" y="309.33" width="9.6" height="10.77" fill="#141414"/>
<line x1="53.9" y1="308.81" x2="53.9" y2="309.83" stroke="#222" stroke-width="1"/>
<line x1="51.21" y1="308.81" x2="56.59" y2="308.81" stroke="#222" stroke-width="1"/>
<rect x="61.79" y="311.93" width="9.6" height="8.17" fill="#141414"/>
<line x1="66.59" y1="311.56" x2="66.59" y2="312.43" stroke="#222" stroke-width="1"/>
<line x1="63.9" y1="311.56" x2="69.28" y2="311.56" stroke="#222" stroke-width="1"/>
<rect x="74.48" y="311.93" width="9.6" height="8.17" fill="#141414"/>
<line x1="79.28" y1="311.56" x2="79.28" y2="312.43" stroke="#222" stroke-width="1"/>
<line x1="76.59" y1="311.56" x2="81.97" y2="311.56" stroke="#222" stroke-width="1"/>
<rect x="87.17" y="312.3" width="9.6" height="7.8" fill="#141414"/>
<line x1="91.97" y1="311.93" x2="91.97" y2="312.8" stroke="#222" stroke-width="1"/>
<line x1="89.28" y1="311.93" x2="94.66" y2="311.93" stroke="#222" stroke-width="1"/>
<rect x="99.86" y="312.3" width="9.6" height="7.8" fill="#141414"/>
<line x1="104.66" y1="311.93" x2="104.66" y2="312.8" stroke="#222" stroke-width="1"/>
<line x1="101.97" y1="311.93" x2="107.35" y2="311.93" stroke="#222" stroke-width="1"/>
<rect x="112.55" y="312.67" width="9.6" height="7.43" fill="#141414"/>
<line x1="117.35" y1="312.3" x2="117.35" y2="313.17" stroke="#222" stroke-width="1"/>
<line x1="114.66" y1="312.3" x2="120.04" y2="312.3" stroke="#222" stroke-width="1"/>
<rect x="125.24" y="312.3" width="9.6" height="7.8" fill="#141414"/>
<line x1="130.04" y1="311.93" x2="130.04" y2="312.8" stroke="#222" stroke-width="1"/>
<line x1="127.35" y1="311.93" x2="132.73" y2="311.93" stroke="#222" stroke-width="1"/>
<rect x="137.93" y="301.53" width="9.6" height="18.57" fill="#141414"/>
<line x1="142.73" y1="298.92" x2="142.73" y2="302.03" stroke="#222" stroke-width="1"/>
<line x1="140.04" y1="298.92" x2="145.42" y2="298.92" stroke="#222" stroke-width="1"/>
<rect x="150.62" y="277.01" width="9.6" height="43.09" fill="#141414"/>
<line x1="155.42" y1="274.41" x2="155.42" y2="277.51" stroke="#222" stroke-width="1"/>
<line x1="152.73" y1="274.41" x2="158.11" y2="274.41" stroke="#222" stroke-width="1"/>
<rect x="163.31" y="268.09" width="9.6" height="52.01" fill="#141414"/>
<line x1="168.11" y1="266.23" x2="168.11" y2="268.59" stroke="#222" stroke-width="1"/>
<line x1="165.42" y1="266.23" x2="170.8" y2="266.23" stroke="#222" stroke-width="1"/>
<rect x="176" y="311.56" width="9.6" height="8.54" fill="#141414"/>
<line x1="180.8" y1="311.18" x2="180.8" y2="312.06" stroke="#222" stroke-width="1"/>
<line x1="178.11" y1="311.18" x2="183.49" y2="311.18" stroke="#222" stroke-width="1"/>
<rect x="188.69" y="311.56" width="9.6" height="8.54" fill="#141414"/>
<line x1="193.49" y1="311.18" x2="193.49" y2="312.06" stroke="#222" stroke-width="1"/>
<line x1="190.8" y1="311.18" x2="196.18" y2="311.18" stroke="#222" stroke-width="1"/>
<rect x="201.38" y="311.56" width="9.6" height="8.54" fill="#141414"/>
<line x1="206.18" y1="311.18" x2="206.18" y2="312.06" stroke="#222" stroke-width="1"/>
<line x1="203.49" y1="311.18" x2="208.87" y2="311.18" stroke="#222" stroke-width="1"/>
<rect x="214.07" y="264.38" width="9.6" height="55.73" fill="#141414"/>
<line x1="218.87" y1="261.4" x2="218.87" y2="264.88" stroke="#222" stroke-width="1"/>
<line x1="216.18" y1="261.4" x2="221.56" y2="261.4" stroke="#222" stroke-width="1"/>
<line x1="47" y1="320.1" x2="224.6" y2="320.1" stroke="#333333" stroke-width="1.1"/>
<text x="144.03" y="298.32" text-anchor="middle" font-size="8.5" letter-spacing="0.6" style="stroke-width:0.5px">**</text>
<text x="156.72" y="273.81" text-anchor="middle" font-size="8.5" letter-spacing="0.6" style="stroke-width:0.5px">***</text>
<text x="169.41" y="265.63" text-anchor="middle" font-size="8.5" letter-spacing="0.6" style="stroke-width:0.5px">***</text>
<text x="220.17" y="260.8" text-anchor="middle" font-size="8.5" letter-spacing="0.6" style="stroke-width:0.5px">***</text>
<text x="22.7" y="280.5" text-anchor="middle" font-size="8.55" transform="rotate(-90 22.7 280.5)">Chemotaxis (%)</text>
<text x="64.59" y="328.9" text-anchor="middle" font-size="8.8">2</text>
<text x="77.78" y="328.9" text-anchor="middle" font-size="8.8">10</text>
<text x="91.17" y="328.9" text-anchor="middle" font-size="8.8">50</text>
<line x1="61.49" y1="331.1" x2="97.37" y2="331.1" stroke="#222" stroke-width="1"/>
<text x="79.28" y="338.6" text-anchor="middle" font-size="8.8">GRO&#945;</text>
<text x="103.16" y="328.9" text-anchor="middle" font-size="8.8">2</text>
<text x="116.35" y="328.9" text-anchor="middle" font-size="8.8">10</text>
<text x="129.74" y="328.9" text-anchor="middle" font-size="8.8">50</text>
<line x1="99.56" y1="331.1" x2="135.44" y2="331.1" stroke="#222" stroke-width="1"/>
<text x="117.35" y="338.6" text-anchor="middle" font-size="8.8">IL1&#945;</text>
<text x="141.23" y="328.9" text-anchor="middle" font-size="8.8">2</text>
<text x="155.02" y="328.9" text-anchor="middle" font-size="8.8">10</text>
<text x="168.71" y="328.9" text-anchor="middle" font-size="8.8">50</text>
<line x1="137.63" y1="331.1" x2="173.51" y2="331.1" stroke="#222" stroke-width="1"/>
<text x="155.42" y="338.6" text-anchor="middle" font-size="8.8">VEGF</text>
<text x="180.8" y="328.9" text-anchor="middle" font-size="8.8">2</text>
<text x="193.49" y="328.9" text-anchor="middle" font-size="8.8">10</text>
<text x="206.18" y="328.9" text-anchor="middle" font-size="8.8">50</text>
<line x1="175.7" y1="331.1" x2="211.58" y2="331.1" stroke="#222" stroke-width="1"/>
<text x="191.99" y="338.6" text-anchor="middle" font-size="8.8">GM-CSF</text>
<text x="58.3" y="327.2" text-anchor="end" font-size="8.8" transform="rotate(-45 58.3 327.2)">Control</text>
<text x="229.2" y="326.6" text-anchor="end" font-size="8.8" transform="rotate(-45 229.2 326.6)">CSE-</text>
<text x="246.3" y="323.8" text-anchor="end" font-size="9.2" transform="rotate(-45 246.3 323.8)">EBV<tspan dy="-3" font-size="7">+</tspan><tspan dy="3">CNE2</tspan></text>
<text x="252.6" y="244" font-weight="bold" fill="#000" style="stroke:#000" font-size="13">D</text>
<line x1="283" y1="319.3" x2="283" y2="241.9" stroke="#333333" stroke-width="1"/>
<line x1="280.8" y1="318.8" x2="283" y2="318.8" stroke="#333333" stroke-width="1"/>
<text x="280" y="321.9" text-anchor="end" font-size="8.6">0</text>
<line x1="280.8" y1="299.7" x2="283" y2="299.7" stroke="#333333" stroke-width="1"/>
<text x="280" y="302.8" text-anchor="end" font-size="8.6">2</text>
<line x1="280.8" y1="280.6" x2="283" y2="280.6" stroke="#333333" stroke-width="1"/>
<text x="280" y="283.7" text-anchor="end" font-size="8.6">4</text>
<line x1="280.8" y1="261.5" x2="283" y2="261.5" stroke="#333333" stroke-width="1"/>
<text x="280" y="264.6" text-anchor="end" font-size="8.6">6</text>
<line x1="280.8" y1="242.4" x2="283" y2="242.4" stroke="#333333" stroke-width="1"/>
<text x="280" y="245.5" text-anchor="end" font-size="8.6">8</text>
<text x="269" y="281" text-anchor="middle" font-size="8.8" transform="rotate(-90 269 281)">(ng/mL)</text>
<rect x="283.8" y="314.5" width="3.65" height="4.3" fill="#e8141e"/>
<line x1="285.62" y1="314.03" x2="285.62" y2="315" stroke="#222" stroke-width="1"/>
<line x1="284.6" y1="314.03" x2="286.65" y2="314.03" stroke="#222" stroke-width="1"/>
<rect x="287.45" y="316.89" width="3.65" height="1.91" fill="#f2ec1a"/>
<line x1="289.27" y1="316.41" x2="289.27" y2="317.39" stroke="#222" stroke-width="1"/>
<line x1="288.25" y1="316.41" x2="290.3" y2="316.41" stroke="#222" stroke-width="1"/>
<rect x="291.1" y="317.65" width="3.65" height="1.15" fill="#0a14d8"/>
<line x1="292.93" y1="317.37" x2="292.93" y2="318.15" stroke="#222" stroke-width="1"/>
<line x1="291.9" y1="317.37" x2="293.95" y2="317.37" stroke="#222" stroke-width="1"/>
<rect x="294.75" y="315.94" width="3.65" height="2.87" fill="#1fe01f"/>
<line x1="296.57" y1="315.46" x2="296.57" y2="316.44" stroke="#222" stroke-width="1"/>
<line x1="295.55" y1="315.46" x2="297.6" y2="315.46" stroke="#222" stroke-width="1"/>
<rect x="298.8" y="314.98" width="3.65" height="3.82" fill="#e8141e"/>
<line x1="300.62" y1="314.5" x2="300.62" y2="315.48" stroke="#222" stroke-width="1"/>
<line x1="299.6" y1="314.5" x2="301.65" y2="314.5" stroke="#222" stroke-width="1"/>
<rect x="302.45" y="317.08" width="3.65" height="1.72" fill="#f2ec1a"/>
<line x1="304.27" y1="316.89" x2="304.27" y2="317.58" stroke="#222" stroke-width="1"/>
<line x1="303.25" y1="316.89" x2="305.3" y2="316.89" stroke="#222" stroke-width="1"/>
<rect x="306.1" y="317.85" width="3.65" height="0.95" fill="#0a14d8"/>
<line x1="307.93" y1="317.65" x2="307.93" y2="318.35" stroke="#222" stroke-width="1"/>
<line x1="306.9" y1="317.65" x2="308.95" y2="317.65" stroke="#222" stroke-width="1"/>
<rect x="309.75" y="315.94" width="3.65" height="2.87" fill="#1fe01f"/>
<line x1="311.57" y1="315.46" x2="311.57" y2="316.44" stroke="#222" stroke-width="1"/>
<line x1="310.55" y1="315.46" x2="312.6" y2="315.46" stroke="#222" stroke-width="1"/>
<rect x="313.8" y="315.17" width="3.65" height="3.63" fill="#e8141e"/>
<line x1="315.62" y1="314.79" x2="315.62" y2="315.67" stroke="#222" stroke-width="1"/>
<line x1="314.6" y1="314.79" x2="316.65" y2="314.79" stroke="#222" stroke-width="1"/>
<rect x="317.45" y="317.08" width="3.65" height="1.72" fill="#f2ec1a"/>
<line x1="319.27" y1="316.89" x2="319.27" y2="317.58" stroke="#222" stroke-width="1"/>
<line x1="318.25" y1="316.89" x2="320.3" y2="316.89" stroke="#222" stroke-width="1"/>
<rect x="321.1" y="317.85" width="3.65" height="0.95" fill="#0a14d8"/>
<line x1="322.93" y1="317.65" x2="322.93" y2="318.35" stroke="#222" stroke-width="1"/>
<line x1="321.9" y1="317.65" x2="323.95" y2="317.65" stroke="#222" stroke-width="1"/>
<rect x="324.75" y="315.94" width="3.65" height="2.87" fill="#1fe01f"/>
<line x1="326.57" y1="315.46" x2="326.57" y2="316.44" stroke="#222" stroke-width="1"/>
<line x1="325.55" y1="315.46" x2="327.6" y2="315.46" stroke="#222" stroke-width="1"/>
<rect x="328.8" y="315.17" width="3.65" height="3.63" fill="#e8141e"/>
<line x1="330.62" y1="314.79" x2="330.62" y2="315.67" stroke="#222" stroke-width="1"/>
<line x1="329.6" y1="314.79" x2="331.65" y2="314.79" stroke="#222" stroke-width="1"/>
<rect x="332.45" y="317.08" width="3.65" height="1.72" fill="#f2ec1a"/>
<line x1="334.27" y1="316.89" x2="334.27" y2="317.58" stroke="#222" stroke-width="1"/>
<line x1="333.25" y1="316.89" x2="335.3" y2="316.89" stroke="#222" stroke-width="1"/>
<rect x="336.1" y="317.85" width="3.65" height="0.95" fill="#0a14d8"/>
<line x1="337.93" y1="317.65" x2="337.93" y2="318.35" stroke="#222" stroke-width="1"/>
<line x1="336.9" y1="317.65" x2="338.95" y2="317.65" stroke="#222" stroke-width="1"/>
<rect x="339.75" y="315.94" width="3.65" height="2.87" fill="#1fe01f"/>
<line x1="341.57" y1="315.46" x2="341.57" y2="316.44" stroke="#222" stroke-width="1"/>
<line x1="340.55" y1="315.46" x2="342.6" y2="315.46" stroke="#222" stroke-width="1"/>
<rect x="343.8" y="315.46" width="3.65" height="3.34" fill="#e8141e"/>
<line x1="345.62" y1="314.98" x2="345.62" y2="315.96" stroke="#222" stroke-width="1"/>
<line x1="344.6" y1="314.98" x2="346.65" y2="314.98" stroke="#222" stroke-width="1"/>
<rect x="347.45" y="316.89" width="3.65" height="1.91" fill="#f2ec1a"/>
<line x1="349.27" y1="316.7" x2="349.27" y2="317.39" stroke="#222" stroke-width="1"/>
<line x1="348.25" y1="316.7" x2="350.3" y2="316.7" stroke="#222" stroke-width="1"/>
<rect x="351.1" y="317.85" width="3.65" height="0.95" fill="#0a14d8"/>
<line x1="352.93" y1="317.65" x2="352.93" y2="318.35" stroke="#222" stroke-width="1"/>
<line x1="351.9" y1="317.65" x2="353.95" y2="317.65" stroke="#222" stroke-width="1"/>
<rect x="354.75" y="316.41" width="3.65" height="2.39" fill="#1fe01f"/>
<line x1="356.57" y1="315.94" x2="356.57" y2="316.91" stroke="#222" stroke-width="1"/>
<line x1="355.55" y1="315.94" x2="357.6" y2="315.94" stroke="#222" stroke-width="1"/>
<rect x="358.8" y="315.46" width="3.65" height="3.34" fill="#e8141e"/>
<line x1="360.62" y1="314.98" x2="360.62" y2="315.96" stroke="#222" stroke-width="1"/>
<line x1="359.6" y1="314.98" x2="361.65" y2="314.98" stroke="#222" stroke-width="1"/>
<rect x="362.45" y="316.89" width="3.65" height="1.91" fill="#f2ec1a"/>
<line x1="364.27" y1="316.7" x2="364.27" y2="317.39" stroke="#222" stroke-width="1"/>
<line x1="363.25" y1="316.7" x2="365.3" y2="316.7" stroke="#222" stroke-width="1"/>
<rect x="366.1" y="317.85" width="3.65" height="0.95" fill="#0a14d8"/>
<line x1="367.93" y1="317.65" x2="367.93" y2="318.35" stroke="#222" stroke-width="1"/>
<line x1="366.9" y1="317.65" x2="368.95" y2="317.65" stroke="#222" stroke-width="1"/>
<rect x="369.75" y="316.41" width="3.65" height="2.39" fill="#1fe01f"/>
<line x1="371.57" y1="315.94" x2="371.57" y2="316.91" stroke="#222" stroke-width="1"/>
<line x1="370.55" y1="315.94" x2="372.6" y2="315.94" stroke="#222" stroke-width="1"/>
<rect x="373.8" y="315.46" width="3.65" height="3.34" fill="#e8141e"/>
<line x1="375.62" y1="314.98" x2="375.62" y2="315.96" stroke="#222" stroke-width="1"/>
<line x1="374.6" y1="314.98" x2="376.65" y2="314.98" stroke="#222" stroke-width="1"/>
<rect x="377.45" y="316.89" width="3.65" height="1.91" fill="#f2ec1a"/>
<line x1="379.27" y1="316.7" x2="379.27" y2="317.39" stroke="#222" stroke-width="1"/>
<line x1="378.25" y1="316.7" x2="380.3" y2="316.7" stroke="#222" stroke-width="1"/>
<rect x="381.1" y="317.85" width="3.65" height="0.95" fill="#0a14d8"/>
<line x1="382.93" y1="317.65" x2="382.93" y2="318.35" stroke="#222" stroke-width="1"/>
<line x1="381.9" y1="317.65" x2="383.95" y2="317.65" stroke="#222" stroke-width="1"/>
<rect x="384.75" y="316.41" width="3.65" height="2.39" fill="#1fe01f"/>
<line x1="386.57" y1="315.94" x2="386.57" y2="316.91" stroke="#222" stroke-width="1"/>
<line x1="385.55" y1="315.94" x2="387.6" y2="315.94" stroke="#222" stroke-width="1"/>
<rect x="388.8" y="314.5" width="3.65" height="4.3" fill="#e8141e"/>
<line x1="390.62" y1="314.03" x2="390.62" y2="315" stroke="#222" stroke-width="1"/>
<line x1="389.6" y1="314.03" x2="391.65" y2="314.03" stroke="#222" stroke-width="1"/>
<rect x="392.45" y="314.03" width="3.65" height="4.77" fill="#f2ec1a"/>
<line x1="394.27" y1="309.25" x2="394.27" y2="314.53" stroke="#222" stroke-width="1"/>
<line x1="393.25" y1="309.25" x2="395.3" y2="309.25" stroke="#222" stroke-width="1"/>
<rect x="396.1" y="312.12" width="3.65" height="6.69" fill="#0a14d8"/>
<line x1="397.93" y1="310.2" x2="397.93" y2="312.62" stroke="#222" stroke-width="1"/>
<line x1="396.9" y1="310.2" x2="398.95" y2="310.2" stroke="#222" stroke-width="1"/>
<rect x="399.75" y="313.55" width="3.65" height="5.25" fill="#1fe01f"/>
<line x1="401.57" y1="312.12" x2="401.57" y2="314.05" stroke="#222" stroke-width="1"/>
<line x1="400.55" y1="312.12" x2="402.6" y2="312.12" stroke="#222" stroke-width="1"/>
<rect x="403.8" y="313.07" width="3.65" height="5.73" fill="#e8141e"/>
<line x1="405.62" y1="312.12" x2="405.62" y2="313.57" stroke="#222" stroke-width="1"/>
<line x1="404.6" y1="312.12" x2="406.65" y2="312.12" stroke="#222" stroke-width="1"/>
<rect x="407.45" y="314.03" width="3.65" height="4.77" fill="#f2ec1a"/>
<line x1="409.27" y1="311.16" x2="409.27" y2="314.53" stroke="#222" stroke-width="1"/>
<line x1="408.25" y1="311.16" x2="410.3" y2="311.16" stroke="#222" stroke-width="1"/>
<rect x="411.1" y="311.16" width="3.65" height="7.64" fill="#0a14d8"/>
<line x1="412.93" y1="309.25" x2="412.93" y2="311.66" stroke="#222" stroke-width="1"/>
<line x1="411.9" y1="309.25" x2="413.95" y2="309.25" stroke="#222" stroke-width="1"/>
<rect x="414.75" y="312.12" width="3.65" height="6.69" fill="#1fe01f"/>
<line x1="416.57" y1="310.2" x2="416.57" y2="312.62" stroke="#222" stroke-width="1"/>
<line x1="415.55" y1="310.2" x2="417.6" y2="310.2" stroke="#222" stroke-width="1"/>
<rect x="418.8" y="313.07" width="3.65" height="5.73" fill="#e8141e"/>
<line x1="420.62" y1="312.12" x2="420.62" y2="313.57" stroke="#222" stroke-width="1"/>
<line x1="419.6" y1="312.12" x2="421.65" y2="312.12" stroke="#222" stroke-width="1"/>
<rect x="422.45" y="312.12" width="3.65" height="6.69" fill="#f2ec1a"/>
<line x1="424.27" y1="308.3" x2="424.27" y2="312.62" stroke="#222" stroke-width="1"/>
<line x1="423.25" y1="308.3" x2="425.3" y2="308.3" stroke="#222" stroke-width="1"/>
<rect x="426.1" y="311.64" width="3.65" height="7.16" fill="#0a14d8"/>
<line x1="427.93" y1="310.2" x2="427.93" y2="312.14" stroke="#222" stroke-width="1"/>
<line x1="426.9" y1="310.2" x2="428.95" y2="310.2" stroke="#222" stroke-width="1"/>
<rect x="429.75" y="311.64" width="3.65" height="7.16" fill="#1fe01f"/>
<line x1="431.57" y1="310.2" x2="431.57" y2="312.14" stroke="#222" stroke-width="1"/>
<line x1="430.55" y1="310.2" x2="432.6" y2="310.2" stroke="#222" stroke-width="1"/>
<rect x="433.8" y="304.19" width="3.65" height="14.61" fill="#e8141e"/>
<line x1="435.62" y1="303.52" x2="435.62" y2="304.69" stroke="#222" stroke-width="1"/>
<line x1="434.6" y1="303.52" x2="436.65" y2="303.52" stroke="#222" stroke-width="1"/>
<rect x="437.45" y="295.31" width="3.65" height="23.49" fill="#f2ec1a"/>
<line x1="439.27" y1="291.58" x2="439.27" y2="295.81" stroke="#222" stroke-width="1"/>
<line x1="438.25" y1="291.58" x2="440.3" y2="291.58" stroke="#222" stroke-width="1"/>
<rect x="441.1" y="311.92" width="3.65" height="6.88" fill="#0a14d8"/>
<line x1="442.93" y1="310.68" x2="442.93" y2="312.42" stroke="#222" stroke-width="1"/>
<line x1="441.9" y1="310.68" x2="443.95" y2="310.68" stroke="#222" stroke-width="1"/>
<rect x="444.75" y="305.05" width="3.65" height="13.75" fill="#1fe01f"/>
<line x1="446.57" y1="303.52" x2="446.57" y2="305.55" stroke="#222" stroke-width="1"/>
<line x1="445.55" y1="303.52" x2="447.6" y2="303.52" stroke="#222" stroke-width="1"/>
<rect x="448.8" y="304.19" width="3.65" height="14.61" fill="#e8141e"/>
<line x1="450.62" y1="303.52" x2="450.62" y2="304.69" stroke="#222" stroke-width="1"/>
<line x1="449.6" y1="303.52" x2="451.65" y2="303.52" stroke="#222" stroke-width="1"/>
<rect x="452.45" y="278.79" width="3.65" height="40.01" fill="#f2ec1a"/>
<line x1="454.27" y1="276.78" x2="454.27" y2="279.29" stroke="#222" stroke-width="1"/>
<line x1="453.25" y1="276.78" x2="455.3" y2="276.78" stroke="#222" stroke-width="1"/>
<rect x="456.1" y="301.9" width="3.65" height="16.9" fill="#0a14d8"/>
<line x1="457.93" y1="299.7" x2="457.93" y2="302.4" stroke="#222" stroke-width="1"/>
<line x1="456.9" y1="299.7" x2="458.95" y2="299.7" stroke="#222" stroke-width="1"/>
<rect x="459.75" y="299.7" width="3.65" height="19.1" fill="#1fe01f"/>
<line x1="461.57" y1="297.79" x2="461.57" y2="300.2" stroke="#222" stroke-width="1"/>
<line x1="460.55" y1="297.79" x2="462.6" y2="297.79" stroke="#222" stroke-width="1"/>
<rect x="463.8" y="305.81" width="3.65" height="12.99" fill="#e8141e"/>
<line x1="465.62" y1="304.48" x2="465.62" y2="306.31" stroke="#222" stroke-width="1"/>
<line x1="464.6" y1="304.48" x2="466.65" y2="304.48" stroke="#222" stroke-width="1"/>
<rect x="467.45" y="269.14" width="3.65" height="49.66" fill="#f2ec1a"/>
<line x1="469.27" y1="266.75" x2="469.27" y2="269.64" stroke="#222" stroke-width="1"/>
<line x1="468.25" y1="266.75" x2="470.3" y2="266.75" stroke="#222" stroke-width="1"/>
<rect x="471.1" y="305.81" width="3.65" height="12.99" fill="#0a14d8"/>
<line x1="472.93" y1="304.48" x2="472.93" y2="306.31" stroke="#222" stroke-width="1"/>
<line x1="471.9" y1="304.48" x2="473.95" y2="304.48" stroke="#222" stroke-width="1"/>
<rect x="474.75" y="294.93" width="3.65" height="23.88" fill="#1fe01f"/>
<line x1="476.57" y1="292.54" x2="476.57" y2="295.43" stroke="#222" stroke-width="1"/>
<line x1="475.55" y1="292.54" x2="477.6" y2="292.54" stroke="#222" stroke-width="1"/>
<rect x="478.8" y="294.73" width="3.65" height="24.07" fill="#e8141e"/>
<line x1="480.62" y1="293.97" x2="480.62" y2="295.23" stroke="#222" stroke-width="1"/>
<line x1="479.6" y1="293.97" x2="481.65" y2="293.97" stroke="#222" stroke-width="1"/>
<rect x="482.45" y="263.41" width="3.65" height="55.39" fill="#f2ec1a"/>
<line x1="484.27" y1="261.02" x2="484.27" y2="263.91" stroke="#222" stroke-width="1"/>
<line x1="483.25" y1="261.02" x2="485.3" y2="261.02" stroke="#222" stroke-width="1"/>
<rect x="486.1" y="304.48" width="3.65" height="14.32" fill="#0a14d8"/>
<line x1="487.93" y1="303.52" x2="487.93" y2="304.98" stroke="#222" stroke-width="1"/>
<line x1="486.9" y1="303.52" x2="488.95" y2="303.52" stroke="#222" stroke-width="1"/>
<rect x="489.75" y="291.58" width="3.65" height="27.22" fill="#1fe01f"/>
<line x1="491.57" y1="289.67" x2="491.57" y2="292.08" stroke="#222" stroke-width="1"/>
<line x1="490.55" y1="289.67" x2="492.6" y2="289.67" stroke="#222" stroke-width="1"/>
<line x1="283" y1="318.8" x2="497.5" y2="318.8" stroke="#333333" stroke-width="1.1"/>
<text x="435.5" y="303.6" text-anchor="middle" font-size="7.8" letter-spacing="0.6" style="stroke-width:0.5px">**</text>
<text x="440.1" y="292.4" text-anchor="middle" font-size="7.8" letter-spacing="0.6" style="stroke-width:0.5px">***</text>
<text x="441.7" y="313" text-anchor="middle" font-size="7.8" letter-spacing="0.6" style="stroke-width:0.5px">*</text>
<text x="447.1" y="301.5" text-anchor="middle" font-size="7.8" letter-spacing="0.6" style="stroke-width:0.5px">**</text>
<text x="452.3" y="306" text-anchor="middle" font-size="7.8" letter-spacing="0.6" style="stroke-width:0.5px">***</text>
<text x="455.2" y="279.5" text-anchor="middle" font-size="7.8" letter-spacing="0.6" style="stroke-width:0.5px">***</text>
<text x="458.6" y="301.5" text-anchor="middle" font-size="7.8" letter-spacing="0.6" style="stroke-width:0.5px">**</text>
<text x="463.2" y="297.5" text-anchor="middle" font-size="7.8" letter-spacing="0.6" style="stroke-width:0.5px">**</text>
<text x="467.1" y="308.5" text-anchor="middle" font-size="7.8" letter-spacing="0.6" style="stroke-width:0.5px">**</text>
<text x="470.1" y="269.3" text-anchor="middle" font-size="7.8" letter-spacing="0.6" style="stroke-width:0.5px">***</text>
<text x="472.5" y="305" text-anchor="middle" font-size="7.8" letter-spacing="0.6" style="stroke-width:0.5px">**</text>
<text x="475.5" y="297.5" text-anchor="middle" font-size="7.8" letter-spacing="0.6" style="stroke-width:0.5px">**</text>
<text x="481.7" y="294.8" text-anchor="middle" font-size="7.8" letter-spacing="0.6" style="stroke-width:0.5px">**</text>
<text x="485.2" y="262.6" text-anchor="middle" font-size="7.8" letter-spacing="0.6" style="stroke-width:0.5px">***</text>
<text x="488.6" y="306" text-anchor="middle" font-size="7.8" letter-spacing="0.6" style="stroke-width:0.5px">**</text>
<text x="491.7" y="290.3" text-anchor="middle" font-size="7.8" letter-spacing="0.6" style="stroke-width:0.5px">**</text>
<rect x="291.6" y="241.5" width="17.2" height="4.6" fill="#e8141e"/>
<rect x="291.6" y="249.4" width="17.2" height="4.6" fill="#f2ec1a"/>
<rect x="382.6" y="241.5" width="17.2" height="4.6" fill="#0a14d8"/>
<rect x="382.6" y="249.4" width="17.2" height="4.6" fill="#1fe01f"/>
<text x="312.7" y="246.6" font-size="8.8">CCL17</text>
<text x="312.7" y="255.8" font-size="8.8">CCL18</text>
<text x="402.3" y="246.6" font-size="8.8">CCL22</text>
<text x="402.3" y="255.8" font-size="8.8">IL10</text>
<text x="306" y="328.8" text-anchor="middle" font-size="8.8">10</text>
<text x="320.4" y="328.8" text-anchor="middle" font-size="8.8">50</text>
<text x="334.8" y="328.8" text-anchor="middle" font-size="8.8">250</text>
<line x1="300.5" y1="331.3" x2="341.3" y2="331.3" stroke="#222" stroke-width="1"/>
<text x="320.4" y="338.3" text-anchor="middle" font-size="8.8">GRO&#945;</text>
<text x="351" y="328.8" text-anchor="middle" font-size="8.8">10</text>
<text x="365.4" y="328.8" text-anchor="middle" font-size="8.8">50</text>
<text x="379.8" y="328.8" text-anchor="middle" font-size="8.8">250</text>
<line x1="345.5" y1="331.3" x2="386.3" y2="331.3" stroke="#222" stroke-width="1"/>
<text x="365.4" y="338.3" text-anchor="middle" font-size="8.8">IL1&#945;</text>
<text x="396" y="328.8" text-anchor="middle" font-size="8.8">10</text>
<text x="410.4" y="328.8" text-anchor="middle" font-size="8.8">50</text>
<text x="424.8" y="328.8" text-anchor="middle" font-size="8.8">250</text>
<line x1="390.5" y1="331.3" x2="431.3" y2="331.3" stroke="#222" stroke-width="1"/>
<text x="410.4" y="338.3" text-anchor="middle" font-size="8.8">VEGF</text>
<text x="440" y="328.8" text-anchor="middle" font-size="8.8">10</text>
<text x="454.4" y="328.8" text-anchor="middle" font-size="8.8">50</text>
<text x="468.8" y="328.8" text-anchor="middle" font-size="8.8">250</text>
<line x1="434.5" y1="331.3" x2="475.3" y2="331.3" stroke="#222" stroke-width="1"/>
<text x="453.6" y="338.3" text-anchor="middle" font-size="8.8">GM-CSF</text>
<text x="291.2" y="325.5" text-anchor="end" font-size="8.6" transform="rotate(-45 291.2 325.5)">Control</text>
<text x="496.3" y="324.6" text-anchor="end" font-size="8.6" transform="rotate(-45 496.3 324.6)">CSE-</text>
<text x="514" y="322" text-anchor="end" font-size="8.6" transform="rotate(-45 514 322)">EBV<tspan dy="-3" font-size="6.5">+</tspan><tspan dy="3">CNE2</tspan></text>
<text x="2.3" y="372" font-weight="bold" fill="#000" style="stroke:#000" font-size="13">E</text>
<line x1="81.2" y1="372.4" x2="280.8" y2="372.4" stroke="#222" stroke-width="1.1"/>
<line x1="293" y1="372.4" x2="492.3" y2="372.4" stroke="#222" stroke-width="1.1"/>
<text x="181" y="368.5" text-anchor="middle" font-size="8.8">EBV<tspan dy="-3.5" font-size="6.5">+</tspan><tspan dy="3.5"> CNE2</tspan></text>
<text x="397.5" y="368.5" text-anchor="middle" font-size="8.8" xml:space="preserve">CSE-EBV<tspan dy="-3.5" font-size="6.5">+</tspan><tspan dy="3.5">  CNE2</tspan></text>
<text x="49.5" y="391.2" text-anchor="middle" font-size="8.5">Control</text>
<text x="103.9" y="393" text-anchor="middle" font-weight="bold" font-size="12">-</text>
<text x="157.5" y="391.2" text-anchor="middle" font-size="8.5">Anti-VEGF</text>
<text x="207.8" y="391.2" text-anchor="middle" font-size="8.5">Anti-GMCSF</text>
<text x="261" y="380.6" text-anchor="middle" font-size="8.5">Anti-GMCSF</text>
<text x="261" y="389.8" text-anchor="middle" font-size="8.5">+anti-VEGF</text>
<text x="315" y="393" text-anchor="middle" font-weight="bold" font-size="12">-</text>
<text x="367" y="391.2" text-anchor="middle" font-size="8.5">Anti-VEGF</text>
<text x="421.5" y="391.2" text-anchor="middle" font-size="8.5">Anti-GMCSF</text>
<text x="475.5" y="380.6" text-anchor="middle" font-size="8.5">Anti-GMCSF</text>
<text x="475.5" y="389.8" text-anchor="middle" font-size="8.5">+anti-VEGF</text>
<rect x="21.5" y="394.4" width="52" height="48" fill="#fff" stroke="#8c8c8c" stroke-width="0.9"/>
<line x1="21.5" y1="442.4" x2="73.5" y2="442.4" stroke="#6a6a6a" stroke-width="1"/>
<line x1="25.66" y1="442.4" x2="25.66" y2="444" stroke="#888" stroke-width="0.7"/>
<text x="24.66" y="447" font-size="2.6" fill="#999" style="stroke:none" text-anchor="middle">10</text>
<line x1="31.9" y1="442.4" x2="31.9" y2="444" stroke="#888" stroke-width="0.7"/>
<text x="30.9" y="447" font-size="2.6" fill="#999" style="stroke:none" text-anchor="middle">10</text>
<line x1="44.9" y1="442.4" x2="44.9" y2="444" stroke="#888" stroke-width="0.7"/>
<text x="43.9" y="447" font-size="2.6" fill="#999" style="stroke:none" text-anchor="middle">10</text>
<line x1="55.3" y1="442.4" x2="55.3" y2="444" stroke="#888" stroke-width="0.7"/>
<text x="54.3" y="447" font-size="2.6" fill="#999" style="stroke:none" text-anchor="middle">10</text>
<line x1="65.7" y1="442.4" x2="65.7" y2="444" stroke="#888" stroke-width="0.7"/>
<text x="64.7" y="447" font-size="2.6" fill="#999" style="stroke:none" text-anchor="middle">10</text>
<path d="M26.8 441.2L27.0 440.9L27.2 440.5L27.4 440.1L27.6 439.7L27.7 439.3L27.9 438.9L28.1 438.5L28.3 438.0L28.5 437.4L28.7 436.6L28.8 435.6L29.0 434.4L29.2 433.0L29.4 431.6L29.6 430.1L29.7 428.5L29.9 426.8L30.1 424.9L30.3 422.8L30.5 420.5L30.7 417.9L30.8 415.2L31.0 412.5L31.2 409.9L31.4 407.4L31.6 405.1L31.8 403.1L31.9 401.4L32.1 400.3L32.3 400.0L32.5 400.4L32.7 401.6L32.8 403.2L33.0 405.1L33.2 407.2L33.4 409.5L33.6 411.9L33.8 414.2L33.9 416.5L34.1 418.8L34.3 420.8L34.5 422.6L34.7 424.3L34.8 425.9L35.0 427.3L35.2 428.8L35.4 430.1L35.6 431.4L35.8 432.5L35.9 433.5L36.1 434.3L36.3 434.9L36.5 435.5L36.7 436.1L36.8 436.6L37.0 437.1L37.2 437.6L37.4 438.1L37.6 438.6L37.8 439.0L37.9 439.3L38.1 439.6L38.3 439.8L38.5 440.0L38.7 440.2L38.9 440.3L39.0 440.5L39.2 440.7L39.4 440.8L39.6 441.0L39.8 441.1L39.9 441.3" fill="none" stroke="#d8445c" stroke-width="0.9" opacity="0.85"/>
<path d="M33.0 441.5L33.2 440.8L33.4 441.2L33.6 440.9L33.8 440.2L33.9 440.9L34.1 440.7L34.3 440.0L34.5 440.7L34.7 440.4L34.8 440.0L35.0 439.9L35.2 439.7L35.4 439.6L35.6 439.1L35.8 439.1L35.9 439.1L36.1 439.6L36.3 439.4L36.5 439.9L36.7 438.5L36.8 439.6L37.0 438.1L37.2 437.5L37.4 438.9L37.6 438.5L37.8 438.3L37.9 437.5L38.1 438.4L38.3 437.9L38.5 438.1L38.7 437.9L38.9 437.1L39.0 438.4L39.2 437.8L39.4 437.7L39.6 437.5L39.8 438.7L39.9 437.4L40.1 437.9L40.3 437.7L40.5 438.2L40.7 439.1L40.9 438.6L41.0 437.8L41.2 438.2L41.4 438.2L41.6 437.2L41.8 436.8L41.9 437.9L42.1 436.6L42.3 438.7L42.5 438.6L42.7 436.7L42.9 437.2L43.0 436.5L43.2 436.3L43.4 436.5L43.6 435.8L43.8 436.0L43.9 437.0L44.1 435.6L44.3 435.4L44.5 434.0L44.7 435.9L44.9 434.9L45.0 434.9L45.2 434.3L45.4 432.5L45.6 433.0L45.8 433.1L46.0 431.9L46.1 430.7L46.3 431.6L46.5 430.1L46.7 427.5L46.9 427.4L47.0 427.5L47.2 427.2L47.4 426.1L47.6 426.9L47.8 423.2L48.0 423.1L48.1 422.4L48.3 423.4L48.5 421.7L48.7 419.2L48.9 418.5L49.0 418.5L49.2 416.0L49.4 414.3L49.6 415.6L49.8 414.3L50.0 413.8L50.1 413.1L50.3 409.0L50.5 408.3L50.7 407.5L50.9 409.0L51.1 407.8L51.2 405.1L51.4 404.8L51.6 403.0L51.8 403.7L52.0 400.6L52.1 397.8L52.3 397.6L52.5 396.9L52.7 399.2L52.9 397.1L53.1 399.1L53.2 396.3L53.4 398.5L53.6 398.6L53.8 399.0L54.0 396.7L54.1 397.9L54.3 398.5L54.5 401.4L54.7 399.6L54.9 403.1L55.1 398.5L55.2 402.2L55.4 402.5L55.6 404.1L55.8 407.8L56.0 408.7L56.1 407.8L56.3 406.8L56.5 412.6L56.7 413.5L56.9 414.1L57.1 418.1L57.2 419.6L57.4 419.3L57.6 420.4L57.8 422.3L58.0 421.4L58.2 424.9L58.3 425.6L58.5 425.7L58.7 427.0L58.9 431.6L59.1 431.7L59.2 431.6L59.4 434.8L59.6 435.4L59.8 436.6L60.0 437.3L60.2 437.9L60.3 437.7L60.5 437.7L60.7 438.2L60.9 439.4L61.1 440.6L61.2 440.3L61.4 440.7L61.6 440.9L61.8 441.2" fill="none" stroke="#40cce4" stroke-width="1.2" opacity="0.85" stroke-linejoin="round"/>
<text x="72.3" y="401.4" text-anchor="end" font-size="6.8">369.7&#177;26.4</text>
<text x="19.1" y="445.2" text-anchor="end" font-size="6.6">0</text>
<line x1="20.1" y1="441.7" x2="21.5" y2="441.7" stroke="#888" stroke-width="0.7"/>
<text x="19.1" y="436.04" text-anchor="end" font-size="6.6">20</text>
<line x1="20.1" y1="432.54" x2="21.5" y2="432.54" stroke="#888" stroke-width="0.7"/>
<text x="19.1" y="426.88" text-anchor="end" font-size="6.6">40</text>
<line x1="20.1" y1="423.38" x2="21.5" y2="423.38" stroke="#888" stroke-width="0.7"/>
<text x="19.1" y="417.72" text-anchor="end" font-size="6.6">60</text>
<line x1="20.1" y1="414.22" x2="21.5" y2="414.22" stroke="#888" stroke-width="0.7"/>
<text x="19.1" y="408.56" text-anchor="end" font-size="6.6">80</text>
<line x1="20.1" y1="405.06" x2="21.5" y2="405.06" stroke="#888" stroke-width="0.7"/>
<text x="19.1" y="399.4" text-anchor="end" font-size="6.6">100</text>
<line x1="20.1" y1="395.9" x2="21.5" y2="395.9" stroke="#888" stroke-width="0.7"/>
<rect x="75.2" y="394.4" width="51.6" height="48" fill="#fff" stroke="#8c8c8c" stroke-width="0.9"/>
<line x1="75.2" y1="442.4" x2="126.8" y2="442.4" stroke="#6a6a6a" stroke-width="1"/>
<line x1="79.33" y1="442.4" x2="79.33" y2="444" stroke="#888" stroke-width="0.7"/>
<text x="78.33" y="447" font-size="2.6" fill="#999" style="stroke:none" text-anchor="middle">10</text>
<line x1="85.52" y1="442.4" x2="85.52" y2="444" stroke="#888" stroke-width="0.7"/>
<text x="84.52" y="447" font-size="2.6" fill="#999" style="stroke:none" text-anchor="middle">10</text>
<line x1="98.42" y1="442.4" x2="98.42" y2="444" stroke="#888" stroke-width="0.7"/>
<text x="97.42" y="447" font-size="2.6" fill="#999" style="stroke:none" text-anchor="middle">10</text>
<line x1="108.74" y1="442.4" x2="108.74" y2="444" stroke="#888" stroke-width="0.7"/>
<text x="107.74" y="447" font-size="2.6" fill="#999" style="stroke:none" text-anchor="middle">10</text>
<line x1="119.06" y1="442.4" x2="119.06" y2="444" stroke="#888" stroke-width="0.7"/>
<text x="118.06" y="447" font-size="2.6" fill="#999" style="stroke:none" text-anchor="middle">10</text>
<path d="M81.0 441.2L81.2 440.9L81.4 440.5L81.6 440.1L81.8 439.7L81.9 439.2L82.1 438.7L82.3 438.2L82.5 437.5L82.7 436.7L82.8 435.6L83.0 434.3L83.2 432.8L83.4 431.1L83.6 429.4L83.7 427.6L83.9 425.5L84.1 423.2L84.3 420.6L84.5 417.8L84.7 414.8L84.8 411.9L85.0 409.0L85.2 406.3L85.4 403.9L85.6 402.0L85.7 400.7L85.9 400.3L86.1 400.8L86.3 402.0L86.5 403.8L86.6 406.0L86.8 408.3L87.0 410.8L87.2 413.4L87.4 415.9L87.5 418.3L87.7 420.6L87.9 422.6L88.1 424.4L88.3 426.1L88.4 427.7L88.6 429.3L88.8 430.7L89.0 432.0L89.2 433.1L89.3 434.0L89.5 434.8L89.7 435.5L89.9 436.1L90.1 436.6L90.3 437.2L90.4 437.8L90.6 438.3L90.8 438.8L91.0 439.2L91.2 439.5L91.3 439.8L91.5 440.0L91.7 440.2L91.9 440.3L92.1 440.5L92.2 440.7L92.4 440.9L92.6 441.0L92.8 441.2" fill="none" stroke="#d8445c" stroke-width="0.9" opacity="0.85"/>
<path d="M80.1 441.7L80.3 440.8L80.5 441.5L80.7 440.8L80.9 440.4L81.0 439.8L81.2 440.6L81.4 440.5L81.6 440.3L81.8 441.6L81.9 440.5L82.1 440.6L82.3 440.6L82.5 439.1L82.7 439.5L82.8 437.2L83.0 437.1L83.2 440.8L83.4 438.3L83.6 439.5L83.7 437.4L83.9 437.7L84.1 436.4L84.3 437.0L84.5 436.1L84.7 437.4L84.8 440.4L85.0 438.3L85.2 437.6L85.4 436.8L85.6 437.4L85.7 432.8L85.9 435.5L86.1 432.8L86.3 435.3L86.5 431.6L86.6 436.4L86.8 432.9L87.0 436.2L87.2 432.7L87.4 430.2L87.5 436.2L87.7 434.4L87.9 431.9L88.1 432.5L88.3 434.7L88.4 429.1L88.6 431.1L88.8 428.1L89.0 429.8L89.2 432.8L89.3 431.0L89.5 426.4L89.7 432.5L89.9 430.0L90.1 427.1L90.3 425.7L90.4 425.7L90.6 431.0L90.8 421.4L91.0 426.5L91.2 425.4L91.3 424.6L91.5 424.5L91.7 425.7L91.9 423.0L92.1 417.3L92.2 424.6L92.4 427.3L92.6 417.6L92.8 418.0L93.0 416.7L93.1 413.8L93.3 421.8L93.5 419.4L93.7 418.7L93.9 416.5L94.0 417.0L94.2 422.2L94.4 423.2L94.6 418.7L94.8 422.0L94.9 411.5L95.1 415.3L95.3 413.9L95.5 414.5L95.7 404.2L95.9 407.5L96.0 409.0L96.2 403.8L96.4 405.5L96.6 401.7L96.8 397.6L96.9 403.2L97.1 399.0L97.3 398.3L97.5 395.9L97.7 396.3L97.8 398.3L98.0 401.0L98.2 396.8L98.4 402.8L98.6 395.9L98.7 398.7L98.9 397.1L99.1 402.2L99.3 404.0L99.5 405.0L99.6 397.1L99.8 403.3L100.0 404.1L100.2 411.1L100.4 404.8L100.5 419.2L100.7 400.8L100.9 407.9L101.1 407.7L101.3 414.0L101.5 413.5L101.6 408.0L101.8 411.8L102.0 410.3L102.2 408.1L102.4 411.2L102.5 420.9L102.7 418.5L102.9 419.8L103.1 419.8L103.3 424.4L103.4 425.0L103.6 421.6L103.8 421.9L104.0 419.3L104.2 422.7L104.3 418.4L104.5 428.5L104.7 428.0L104.9 424.3L105.1 426.5L105.2 429.2L105.4 425.5L105.6 425.6L105.8 425.9L106.0 430.7L106.1 430.5L106.3 430.7L106.5 431.8L106.7 430.5L106.9 434.2L107.1 433.2L107.2 438.5L107.4 434.0L107.6 433.3L107.8 436.6L108.0 435.7L108.1 439.9L108.3 438.7L108.5 440.5L108.7 438.9L108.9 439.2L109.0 441.2L109.2 441.0L109.4 441.0L109.6 439.4L109.8 441.1L109.9 441.2" fill="none" stroke="#40cce4" stroke-width="1.2" opacity="0.85" stroke-linejoin="round"/>
<text x="125.6" y="401.4" text-anchor="end" font-size="6.8">103.6&#177;12.8</text>
<rect x="129.2" y="394.4" width="48.4" height="48" fill="#fff" stroke="#8c8c8c" stroke-width="0.9"/>
<line x1="129.2" y1="442.4" x2="177.6" y2="442.4" stroke="#6a6a6a" stroke-width="1"/>
<line x1="133.07" y1="442.4" x2="133.07" y2="444" stroke="#888" stroke-width="0.7"/>
<text x="132.07" y="447" font-size="2.6" fill="#999" style="stroke:none" text-anchor="middle">10</text>
<line x1="138.88" y1="442.4" x2="138.88" y2="444" stroke="#888" stroke-width="0.7"/>
<text x="137.88" y="447" font-size="2.6" fill="#999" style="stroke:none" text-anchor="middle">10</text>
<line x1="150.98" y1="442.4" x2="150.98" y2="444" stroke="#888" stroke-width="0.7"/>
<text x="149.98" y="447" font-size="2.6" fill="#999" style="stroke:none" text-anchor="middle">10</text>
<line x1="160.66" y1="442.4" x2="160.66" y2="444" stroke="#888" stroke-width="0.7"/>
<text x="159.66" y="447" font-size="2.6" fill="#999" style="stroke:none" text-anchor="middle">10</text>
<line x1="170.34" y1="442.4" x2="170.34" y2="444" stroke="#888" stroke-width="0.7"/>
<text x="169.34" y="447" font-size="2.6" fill="#999" style="stroke:none" text-anchor="middle">10</text>
<path d="M134.7 441.2L134.9 440.9L135.0 440.5L135.2 440.1L135.4 439.7L135.6 439.2L135.7 438.7L135.9 438.2L136.1 437.5L136.2 436.7L136.4 435.6L136.6 434.3L136.7 432.8L136.9 431.1L137.1 429.4L137.2 427.6L137.4 425.5L137.6 423.2L137.8 420.6L137.9 417.8L138.1 414.8L138.3 411.9L138.4 409.0L138.6 406.3L138.8 403.9L138.9 402.0L139.1 400.7L139.3 400.2L139.4 400.5L139.6 401.6L139.8 403.2L140.0 405.1L140.1 407.2L140.3 409.5L140.5 411.9L140.6 414.2L140.8 416.5L141.0 418.8L141.1 420.8L141.3 422.6L141.5 424.3L141.6 425.9L141.8 427.3L142.0 428.8L142.1 430.1L142.3 431.4L142.5 432.5L142.7 433.5L142.8 434.3L143.0 434.9L143.2 435.5L143.3 436.1L143.5 436.6L143.7 437.1L143.8 437.6L144.0 438.1L144.2 438.6L144.3 439.0L144.5 439.3L144.7 439.6L144.9 439.8L145.0 440.0L145.2 440.2L145.4 440.3L145.5 440.5L145.7 440.7L145.9 440.8L146.0 441.0L146.2 441.1L146.4 441.3" fill="none" stroke="#d8445c" stroke-width="0.9" opacity="0.85"/>
<path d="M136.6 441.4L136.7 441.0L136.9 441.4L137.1 440.9L137.2 440.6L137.4 440.8L137.6 440.6L137.8 440.0L137.9 439.9L138.1 440.1L138.3 439.8L138.4 440.0L138.6 439.1L138.8 439.4L138.9 440.3L139.1 439.2L139.3 438.3L139.4 438.4L139.6 439.2L139.8 437.7L140.0 437.5L140.1 437.3L140.3 436.2L140.5 437.7L140.6 436.4L140.8 437.0L141.0 435.4L141.1 434.8L141.3 435.2L141.5 434.6L141.6 436.1L141.8 434.0L142.0 436.0L142.1 431.3L142.3 432.3L142.5 435.6L142.7 436.8L142.8 431.0L143.0 433.7L143.2 431.4L143.3 433.8L143.5 431.4L143.7 432.2L143.8 430.0L144.0 431.1L144.2 427.9L144.3 431.1L144.5 427.5L144.7 429.3L144.9 428.0L145.0 431.2L145.2 431.1L145.4 425.7L145.5 429.2L145.7 427.1L145.9 426.4L146.0 426.9L146.2 424.1L146.4 426.7L146.5 425.6L146.7 420.6L146.9 423.5L147.1 419.6L147.2 419.0L147.4 416.4L147.6 418.0L147.7 422.5L147.9 419.1L148.1 417.8L148.2 413.0L148.4 414.3L148.6 415.4L148.7 412.2L148.9 413.3L149.1 410.0L149.3 410.0L149.4 406.4L149.6 407.5L149.8 404.7L149.9 406.6L150.1 403.6L150.3 405.2L150.4 402.1L150.6 402.6L150.8 402.9L150.9 403.2L151.1 402.2L151.3 399.5L151.5 407.4L151.6 396.2L151.8 406.9L152.0 399.9L152.1 400.0L152.3 396.6L152.5 398.1L152.6 399.0L152.8 398.8L153.0 396.4L153.1 395.9L153.3 398.9L153.5 406.8L153.7 402.3L153.8 400.3L154.0 395.9L154.2 405.0L154.3 404.6L154.5 402.8L154.7 404.4L154.8 410.0L155.0 404.7L155.2 412.1L155.3 410.3L155.5 407.2L155.7 415.3L155.9 413.9L156.0 410.0L156.2 415.9L156.4 418.9L156.5 418.8L156.7 416.5L156.9 422.9L157.0 421.8L157.2 424.5L157.4 424.7L157.5 420.5L157.7 424.2L157.9 425.8L158.1 425.0L158.2 428.0L158.4 429.7L158.6 426.4L158.7 427.8L158.9 431.5L159.1 429.8L159.2 429.5L159.4 431.8L159.6 432.5L159.7 435.5L159.9 434.6L160.1 437.3L160.3 434.2L160.4 436.2L160.6 435.1L160.8 437.8L160.9 436.6L161.1 439.4L161.3 438.8L161.4 438.4L161.6 439.0L161.8 439.7L161.9 441.0L162.1 439.5L162.3 440.1L162.5 440.1L162.6 440.3L162.8 441.1L163.0 440.9L163.1 440.3L163.3 441.6" fill="none" stroke="#40cce4" stroke-width="1.2" opacity="0.85" stroke-linejoin="round"/>
<text x="176.4" y="403.4" text-anchor="end" font-size="6.8">104.1&#177;13.9</text>
<rect x="182" y="394.4" width="51.6" height="48" fill="#fff" stroke="#8c8c8c" stroke-width="0.9"/>
<line x1="182" y1="442.4" x2="233.6" y2="442.4" stroke="#6a6a6a" stroke-width="1"/>
<line x1="186.13" y1="442.4" x2="186.13" y2="444" stroke="#888" stroke-width="0.7"/>
<text x="185.13" y="447" font-size="2.6" fill="#999" style="stroke:none" text-anchor="middle">10</text>
<line x1="192.32" y1="442.4" x2="192.32" y2="444" stroke="#888" stroke-width="0.7"/>
<text x="191.32" y="447" font-size="2.6" fill="#999" style="stroke:none" text-anchor="middle">10</text>
<line x1="205.22" y1="442.4" x2="205.22" y2="444" stroke="#888" stroke-width="0.7"/>
<text x="204.22" y="447" font-size="2.6" fill="#999" style="stroke:none" text-anchor="middle">10</text>
<line x1="215.54" y1="442.4" x2="215.54" y2="444" stroke="#888" stroke-width="0.7"/>
<text x="214.54" y="447" font-size="2.6" fill="#999" style="stroke:none" text-anchor="middle">10</text>
<line x1="225.86" y1="442.4" x2="225.86" y2="444" stroke="#888" stroke-width="0.7"/>
<text x="224.86" y="447" font-size="2.6" fill="#999" style="stroke:none" text-anchor="middle">10</text>
<path d="M188.9 441.2L189.1 440.9L189.3 440.5L189.5 440.0L189.6 439.5L189.8 438.9L190.0 438.3L190.2 437.5L190.4 436.5L190.5 435.3L190.7 433.8L190.9 432.0L191.1 430.1L191.3 428.0L191.5 425.7L191.6 423.1L191.8 420.1L192.0 416.9L192.2 413.6L192.4 410.3L192.5 407.2L192.7 404.5L192.9 402.4L193.1 401.0L193.3 400.6L193.4 401.1L193.6 402.4L193.8 404.3L194.0 406.5L194.2 408.9L194.3 411.4L194.5 413.9L194.7 416.4L194.9 418.8L195.1 421.0L195.2 423.0L195.4 424.8L195.6 426.5L195.8 428.1L196.0 429.6L196.1 431.0L196.3 432.3L196.5 433.3L196.7 434.2L196.9 434.9L197.1 435.6L197.2 436.2L197.4 436.8L197.6 437.3L197.8 437.9L198.0 438.4L198.1 438.9L198.3 439.2L198.5 439.6L198.7 439.8L198.9 440.0L199.0 440.2L199.2 440.4L199.4 440.6L199.6 440.7L199.8 440.9L199.9 441.1L200.1 441.2" fill="none" stroke="#d8445c" stroke-width="0.9" opacity="0.85"/>
<path d="M192.9 441.2L193.1 440.5L193.3 441.2L193.4 441.0L193.6 440.6L193.8 441.2L194.0 440.9L194.2 440.0L194.3 440.4L194.5 441.2L194.7 441.6L194.9 438.7L195.1 439.9L195.2 441.3L195.4 439.9L195.6 439.4L195.8 439.7L196.0 441.2L196.1 438.0L196.3 438.9L196.5 439.4L196.7 438.5L196.9 439.2L197.1 439.2L197.2 437.8L197.4 440.6L197.6 437.4L197.8 437.8L198.0 437.3L198.1 437.0L198.3 436.0L198.5 436.0L198.7 436.4L198.9 437.7L199.0 436.0L199.2 437.1L199.4 437.4L199.6 434.9L199.8 434.4L199.9 432.5L200.1 437.2L200.3 432.0L200.5 431.2L200.7 431.4L200.8 428.2L201.0 432.0L201.2 428.9L201.4 429.7L201.6 428.2L201.7 429.6L201.9 427.2L202.1 424.6L202.3 425.2L202.5 424.0L202.7 426.0L202.8 419.6L203.0 424.6L203.2 422.1L203.4 420.0L203.6 421.3L203.7 418.2L203.9 419.0L204.1 414.2L204.3 416.6L204.5 416.3L204.6 419.1L204.8 414.7L205.0 412.3L205.2 413.2L205.4 416.5L205.5 414.6L205.7 412.9L205.9 411.3L206.1 415.1L206.3 403.9L206.4 409.7L206.6 408.4L206.8 409.7L207.0 407.8L207.2 400.7L207.3 409.9L207.5 408.1L207.7 409.5L207.9 407.6L208.1 400.3L208.3 407.9L208.4 407.5L208.6 412.5L208.8 408.2L209.0 406.9L209.2 410.0L209.3 410.5L209.5 407.4L209.7 409.0L209.9 411.5L210.1 414.0L210.2 416.3L210.4 406.0L210.6 415.8L210.8 408.0L211.0 409.8L211.1 410.5L211.3 403.9L211.5 408.2L211.7 400.2L211.9 407.2L212.0 401.0L212.2 397.5L212.4 405.3L212.6 395.9L212.8 398.8L212.9 410.2L213.1 397.8L213.3 396.6L213.5 404.9L213.7 405.3L213.9 404.1L214.0 412.6L214.2 406.3L214.4 404.5L214.6 410.2L214.8 405.5L214.9 402.9L215.1 417.0L215.3 417.3L215.5 414.6L215.7 411.3L215.8 413.0L216.0 417.8L216.2 419.3L216.4 419.1L216.6 413.4L216.7 421.8L216.9 421.9L217.1 419.1L217.3 423.4L217.5 426.3L217.6 421.8L217.8 425.6L218.0 429.0L218.2 429.4L218.4 427.9L218.5 431.5L218.7 431.4L218.9 431.3L219.1 432.1L219.3 437.4L219.5 436.1L219.6 436.6L219.8 436.7L220.0 436.5L220.2 436.6L220.4 438.8L220.5 439.7L220.7 438.7L220.9 439.7L221.1 437.9L221.3 439.4L221.4 439.8L221.6 439.4L221.8 440.7L222.0 440.7L222.2 440.8L222.3 440.6L222.5 440.5L222.7 441.0L222.9 441.2" fill="none" stroke="#40cce4" stroke-width="1.2" opacity="0.85" stroke-linejoin="round"/>
<text x="232.4" y="401.4" text-anchor="end" font-size="6.8">257.3&#177;16.8</text>
<rect x="237" y="394.4" width="51.2" height="48" fill="#fff" stroke="#8c8c8c" stroke-width="0.9"/>
<line x1="237" y1="442.4" x2="288.2" y2="442.4" stroke="#6a6a6a" stroke-width="1"/>
<line x1="241.1" y1="442.4" x2="241.1" y2="444" stroke="#888" stroke-width="0.7"/>
<text x="240.1" y="447" font-size="2.6" fill="#999" style="stroke:none" text-anchor="middle">10</text>
<line x1="247.24" y1="442.4" x2="247.24" y2="444" stroke="#888" stroke-width="0.7"/>
<text x="246.24" y="447" font-size="2.6" fill="#999" style="stroke:none" text-anchor="middle">10</text>
<line x1="260.04" y1="442.4" x2="260.04" y2="444" stroke="#888" stroke-width="0.7"/>
<text x="259.04" y="447" font-size="2.6" fill="#999" style="stroke:none" text-anchor="middle">10</text>
<line x1="270.28" y1="442.4" x2="270.28" y2="444" stroke="#888" stroke-width="0.7"/>
<text x="269.28" y="447" font-size="2.6" fill="#999" style="stroke:none" text-anchor="middle">10</text>
<line x1="280.52" y1="442.4" x2="280.52" y2="444" stroke="#888" stroke-width="0.7"/>
<text x="279.52" y="447" font-size="2.6" fill="#999" style="stroke:none" text-anchor="middle">10</text>
<path d="M242.3 441.3L242.4 441.0L242.6 440.6L242.8 440.2L243.0 439.8L243.2 439.3L243.3 438.8L243.5 438.3L243.7 437.7L243.9 436.9L244.1 435.8L244.2 434.6L244.4 433.1L244.6 431.5L244.8 429.8L244.9 428.0L245.1 426.0L245.3 423.7L245.5 421.2L245.7 418.4L245.8 415.5L246.0 412.5L246.2 409.6L246.4 406.8L246.6 404.3L246.7 402.3L246.9 400.8L247.1 400.1L247.3 400.3L247.5 401.3L247.6 402.8L247.8 404.7L248.0 406.8L248.2 409.0L248.4 411.4L248.5 413.7L248.7 416.1L248.9 418.3L249.1 420.4L249.2 422.3L249.4 424.0L249.6 425.5L249.8 427.0L250.0 428.5L250.1 429.9L250.3 431.2L250.5 432.3L250.7 433.3L250.9 434.1L251.0 434.8L251.2 435.4L251.4 435.9L251.6 436.5L251.8 437.0L251.9 437.5L252.1 438.0L252.3 438.5L252.5 438.9L252.7 439.3L252.8 439.6L253.0 439.8L253.2 440.0L253.4 440.1L253.5 440.3L253.7 440.5L253.9 440.6L254.1 440.8L254.3 441.0L254.4 441.1L254.6 441.3" fill="none" stroke="#d8445c" stroke-width="0.9" opacity="0.85"/>
<path d="M246.9 441.5L247.1 441.1L247.3 441.6L247.5 441.0L247.6 440.9L247.8 440.8L248.0 440.8L248.2 440.2L248.4 440.2L248.5 441.2L248.7 439.4L248.9 439.9L249.1 439.9L249.2 440.2L249.4 440.0L249.6 441.4L249.8 439.7L250.0 439.0L250.1 438.8L250.3 439.6L250.5 440.8L250.7 439.6L250.9 438.7L251.0 437.0L251.2 439.4L251.4 437.6L251.6 436.7L251.8 436.3L251.9 436.7L252.1 439.4L252.3 435.3L252.5 435.5L252.7 434.7L252.8 436.2L253.0 435.3L253.2 432.4L253.4 434.1L253.5 433.6L253.7 434.2L253.9 431.0L254.1 434.8L254.3 432.7L254.4 430.7L254.6 430.9L254.8 428.8L255.0 428.9L255.2 426.5L255.3 428.8L255.5 428.0L255.7 426.7L255.9 429.9L256.1 423.2L256.2 427.1L256.4 422.4L256.6 421.2L256.8 421.4L257.0 422.4L257.1 423.6L257.3 426.2L257.5 419.7L257.7 420.9L257.9 415.9L258.0 419.8L258.2 417.0L258.4 418.8L258.6 416.2L258.7 417.5L258.9 416.4L259.1 420.0L259.3 416.6L259.5 414.5L259.6 410.2L259.8 412.0L260.0 415.2L260.2 406.9L260.4 409.3L260.5 406.3L260.7 410.9L260.9 416.7L261.1 408.7L261.3 408.4L261.4 403.7L261.6 408.1L261.8 405.2L262.0 405.8L262.2 400.4L262.3 403.0L262.5 395.9L262.7 396.7L262.9 396.3L263.0 399.5L263.2 398.1L263.4 396.3L263.6 401.9L263.8 395.9L263.9 400.1L264.1 396.4L264.3 395.9L264.5 396.8L264.7 405.8L264.8 400.0L265.0 405.8L265.2 407.5L265.4 408.4L265.6 412.5L265.7 410.3L265.9 414.4L266.1 411.3L266.3 414.8L266.5 423.3L266.6 420.8L266.8 422.3L267.0 422.8L267.2 424.0L267.3 423.5L267.5 425.5L267.7 428.4L267.9 426.8L268.1 427.2L268.2 429.8L268.4 429.0L268.6 431.2L268.8 433.5L269.0 434.1L269.1 434.3L269.3 434.3L269.5 435.4L269.7 435.1L269.9 435.6L270.0 438.4L270.2 439.0L270.4 438.5L270.6 438.5L270.8 438.6L270.9 439.2L271.1 439.5L271.3 440.7L271.5 440.2L271.7 440.9L271.8 440.6L272.0 440.6L272.2 441.4L272.4 441.4L272.5 440.8L272.7 441.7" fill="none" stroke="#40cce4" stroke-width="1.2" opacity="0.85" stroke-linejoin="round"/>
<text x="287" y="401.4" text-anchor="end" font-size="6.8">263.3&#177;14.5</text>
<rect x="290.8" y="394.4" width="48.4" height="48" fill="#fff" stroke="#8c8c8c" stroke-width="0.9"/>
<line x1="290.8" y1="442.4" x2="339.2" y2="442.4" stroke="#6a6a6a" stroke-width="1"/>
<line x1="294.67" y1="442.4" x2="294.67" y2="444" stroke="#888" stroke-width="0.7"/>
<text x="293.67" y="447" font-size="2.6" fill="#999" style="stroke:none" text-anchor="middle">10</text>
<line x1="300.48" y1="442.4" x2="300.48" y2="444" stroke="#888" stroke-width="0.7"/>
<text x="299.48" y="447" font-size="2.6" fill="#999" style="stroke:none" text-anchor="middle">10</text>
<line x1="312.58" y1="442.4" x2="312.58" y2="444" stroke="#888" stroke-width="0.7"/>
<text x="311.58" y="447" font-size="2.6" fill="#999" style="stroke:none" text-anchor="middle">10</text>
<line x1="322.26" y1="442.4" x2="322.26" y2="444" stroke="#888" stroke-width="0.7"/>
<text x="321.26" y="447" font-size="2.6" fill="#999" style="stroke:none" text-anchor="middle">10</text>
<line x1="331.94" y1="442.4" x2="331.94" y2="444" stroke="#888" stroke-width="0.7"/>
<text x="330.94" y="447" font-size="2.6" fill="#999" style="stroke:none" text-anchor="middle">10</text>
<path d="M296.3 441.3L296.5 441.0L296.6 440.6L296.8 440.2L297.0 439.7L297.2 439.2L297.3 438.6L297.5 437.9L297.7 437.0L297.8 435.9L298.0 434.5L298.2 432.8L298.3 430.9L298.5 428.9L298.7 426.7L298.8 424.2L299.0 421.4L299.2 418.3L299.4 415.0L299.5 411.7L299.7 408.5L299.9 405.6L300.0 403.1L300.2 401.4L300.4 400.5L300.5 400.7L300.7 401.7L300.9 403.4L301.0 405.5L301.2 407.8L301.4 410.3L301.6 412.9L301.7 415.4L301.9 417.8L302.1 420.1L302.2 422.2L302.4 424.1L302.6 425.8L302.7 427.4L302.9 429.0L303.1 430.4L303.2 431.8L303.4 432.9L303.6 433.9L303.7 434.7L303.9 435.3L304.1 435.9L304.3 436.5L304.4 437.1L304.6 437.6L304.8 438.2L304.9 438.7L305.1 439.1L305.3 439.4L305.4 439.7L305.6 439.9L305.8 440.1L305.9 440.3L306.1 440.5L306.3 440.7L306.5 440.8L306.6 441.0L306.8 441.2" fill="none" stroke="#d8445c" stroke-width="0.9" opacity="0.85"/>
<path d="M293.4 441.4L293.6 441.0L293.8 441.1L293.9 441.7L294.1 441.7L294.3 441.6L294.4 440.8L294.6 439.9L294.8 441.5L295.0 440.8L295.1 437.9L295.3 440.1L295.5 439.9L295.6 440.0L295.8 436.0L296.0 436.7L296.1 436.0L296.3 434.2L296.5 434.6L296.6 433.2L296.8 434.3L297.0 432.5L297.2 432.3L297.3 431.3L297.5 435.0L297.7 432.0L297.8 431.6L298.0 431.7L298.2 429.3L298.3 423.3L298.5 424.8L298.7 426.4L298.8 424.7L299.0 420.4L299.2 427.8L299.4 421.6L299.5 416.3L299.7 414.7L299.9 416.8L300.0 417.0L300.2 424.8L300.4 419.8L300.5 416.3L300.7 413.7L300.9 412.6L301.0 422.6L301.2 414.6L301.4 410.3L301.6 413.8L301.7 410.6L301.9 406.5L302.1 406.6L302.2 406.3L302.4 403.0L302.6 400.6L302.7 406.5L302.9 409.6L303.1 407.6L303.2 406.4L303.4 404.1L303.6 410.8L303.7 407.2L303.9 404.7L304.1 397.0L304.3 400.8L304.4 403.9L304.6 398.9L304.8 402.1L304.9 401.8L305.1 397.8L305.3 401.3L305.4 402.3L305.6 399.8L305.8 406.0L305.9 403.6L306.1 414.0L306.3 406.6L306.5 398.1L306.6 407.3L306.8 406.2L307.0 408.6L307.1 411.8L307.3 405.6L307.5 408.3L307.6 404.0L307.8 413.1L308.0 409.6L308.1 411.7L308.3 413.2L308.5 406.7L308.7 414.7L308.8 415.1L309.0 402.3L309.2 413.4L309.3 414.4L309.5 412.2L309.7 418.5L309.8 413.6L310.0 420.0L310.2 417.7L310.3 418.5L310.5 411.7L310.7 414.9L310.9 410.8L311.0 411.9L311.2 421.0L311.4 417.0L311.5 420.8L311.7 421.8L311.9 415.6L312.0 415.1L312.2 420.0L312.4 419.6L312.5 420.0L312.7 420.2L312.9 420.4L313.1 425.3L313.2 420.1L313.4 424.8L313.6 426.7L313.7 423.5L313.9 422.5L314.1 420.9L314.2 422.7L314.4 423.3L314.6 426.6L314.7 423.5L314.9 424.4L315.1 424.4L315.3 427.8L315.4 420.7L315.6 423.8L315.8 424.3L315.9 426.3L316.1 427.7L316.3 424.5L316.4 431.2L316.6 429.0L316.8 428.7L316.9 426.6L317.1 429.3L317.3 424.8L317.5 433.7L317.6 425.0L317.8 428.7L318.0 427.3L318.1 431.4L318.3 427.7L318.5 431.5L318.6 430.4L318.8 435.0L319.0 430.4L319.1 431.7L319.3 436.7L319.5 433.0L319.7 433.8L319.8 431.6L320.0 435.2L320.2 433.7L320.3 431.8L320.5 436.6L320.7 431.5L320.8 435.1L321.0 436.3L321.2 438.6L321.3 439.6L321.5 435.3L321.7 437.9L321.9 438.5L322.0 436.2L322.2 437.1L322.4 438.2L322.5 440.6L322.7 441.4L322.9 438.0L323.0 439.5L323.2 440.0L323.4 438.1L323.5 440.6L323.7 440.2L323.9 439.1L324.1 440.6L324.2 441.5L324.4 441.7L324.6 441.0L324.7 441.7" fill="none" stroke="#40cce4" stroke-width="1.2" opacity="0.85" stroke-linejoin="round"/>
<text x="338" y="401.4" text-anchor="end" font-size="6.8">49.5&#177;2.9</text>
<rect x="342.4" y="394.4" width="51" height="48" fill="#fff" stroke="#8c8c8c" stroke-width="0.9"/>
<line x1="342.4" y1="442.4" x2="393.4" y2="442.4" stroke="#6a6a6a" stroke-width="1"/>
<line x1="346.48" y1="442.4" x2="346.48" y2="444" stroke="#888" stroke-width="0.7"/>
<text x="345.48" y="447" font-size="2.6" fill="#999" style="stroke:none" text-anchor="middle">10</text>
<line x1="352.6" y1="442.4" x2="352.6" y2="444" stroke="#888" stroke-width="0.7"/>
<text x="351.6" y="447" font-size="2.6" fill="#999" style="stroke:none" text-anchor="middle">10</text>
<line x1="365.35" y1="442.4" x2="365.35" y2="444" stroke="#888" stroke-width="0.7"/>
<text x="364.35" y="447" font-size="2.6" fill="#999" style="stroke:none" text-anchor="middle">10</text>
<line x1="375.55" y1="442.4" x2="375.55" y2="444" stroke="#888" stroke-width="0.7"/>
<text x="374.55" y="447" font-size="2.6" fill="#999" style="stroke:none" text-anchor="middle">10</text>
<line x1="385.75" y1="442.4" x2="385.75" y2="444" stroke="#888" stroke-width="0.7"/>
<text x="384.75" y="447" font-size="2.6" fill="#999" style="stroke:none" text-anchor="middle">10</text>
<path d="M348.2 441.2L348.4 440.9L348.5 440.5L348.7 440.1L348.9 439.7L349.1 439.2L349.2 438.7L349.4 438.2L349.6 437.5L349.8 436.7L350.0 435.6L350.1 434.3L350.3 432.8L350.5 431.1L350.7 429.4L350.9 427.6L351.0 425.5L351.2 423.2L351.4 420.6L351.6 417.8L351.7 414.8L351.9 411.9L352.1 409.0L352.3 406.3L352.5 403.9L352.6 402.0L352.8 400.7L353.0 400.2L353.2 400.5L353.4 401.6L353.5 403.2L353.7 405.1L353.9 407.2L354.1 409.5L354.2 411.9L354.4 414.2L354.6 416.5L354.8 418.8L355.0 420.8L355.1 422.6L355.3 424.3L355.5 425.9L355.7 427.3L355.9 428.8L356.0 430.1L356.2 431.4L356.4 432.5L356.6 433.5L356.7 434.3L356.9 434.9L357.1 435.5L357.3 436.1L357.5 436.6L357.6 437.1L357.8 437.6L358.0 438.1L358.2 438.6L358.4 439.0L358.5 439.3L358.7 439.6L358.9 439.8L359.1 440.0L359.2 440.2L359.4 440.3L359.6 440.5L359.8 440.7L360.0 440.8L360.1 441.0L360.3 441.1L360.5 441.3" fill="none" stroke="#d8445c" stroke-width="0.9" opacity="0.85"/>
<path d="M349.6 441.7L349.8 439.2L350.0 440.1L350.1 438.7L350.3 437.4L350.5 436.2L350.7 438.6L350.9 432.7L351.0 434.0L351.2 433.8L351.4 436.2L351.6 429.3L351.7 431.4L351.9 429.5L352.1 432.1L352.3 425.7L352.5 425.8L352.6 429.1L352.8 422.4L353.0 430.2L353.2 423.6L353.4 423.4L353.5 422.3L353.7 425.9L353.9 423.9L354.1 418.6L354.2 417.3L354.4 420.4L354.6 420.3L354.8 420.4L355.0 412.8L355.1 417.6L355.3 418.3L355.5 423.0L355.7 421.9L355.9 418.6L356.0 421.7L356.2 414.4L356.4 413.3L356.6 415.6L356.7 412.5L356.9 410.4L357.1 417.0L357.3 405.5L357.5 420.3L357.6 398.6L357.8 413.5L358.0 406.2L358.2 407.5L358.4 403.8L358.5 408.6L358.7 402.3L358.9 411.9L359.1 400.7L359.2 405.4L359.4 402.1L359.6 399.0L359.8 409.5L360.0 406.9L360.1 407.9L360.3 405.3L360.5 404.6L360.7 402.7L360.8 405.7L361.0 408.2L361.2 405.8L361.4 404.4L361.6 405.5L361.7 401.4L361.9 413.7L362.1 410.7L362.3 417.9L362.5 415.6L362.6 410.7L362.8 408.5L363.0 416.0L363.2 412.4L363.3 414.2L363.5 412.8L363.7 414.2L363.9 417.2L364.1 424.4L364.2 421.7L364.4 414.6L364.6 416.6L364.8 408.5L365.0 416.6L365.1 413.6L365.3 421.7L365.5 422.8L365.7 417.0L365.8 411.8L366.0 416.8L366.2 419.7L366.4 417.3L366.6 416.8L366.7 417.7L366.9 419.5L367.1 423.6L367.3 424.2L367.5 422.2L367.6 421.1L367.8 425.5L368.0 415.7L368.2 419.4L368.3 423.6L368.5 419.5L368.7 414.2L368.9 421.9L369.1 422.3L369.2 420.1L369.4 428.3L369.6 426.2L369.8 427.4L370.0 423.2L370.1 431.3L370.3 425.9L370.5 428.9L370.7 429.0L370.8 430.4L371.0 425.7L371.2 432.5L371.4 434.0L371.6 430.9L371.7 433.7L371.9 431.8L372.1 433.7L372.3 434.2L372.5 434.7L372.6 438.6L372.8 439.6L373.0 433.0L373.2 438.9L373.3 436.7L373.5 439.6L373.7 438.6L373.9 439.3L374.1 437.7L374.2 440.1L374.4 441.7L374.6 441.7L374.8 440.8L375.0 440.8L375.1 440.6L375.3 440.9L375.5 441.7" fill="none" stroke="#40cce4" stroke-width="1.2" opacity="0.85" stroke-linejoin="round"/>
<text x="392.2" y="401.4" text-anchor="end" font-size="6.8">52.4&#177;6.0</text>
<rect x="396.3" y="394.4" width="50.6" height="48" fill="#fff" stroke="#8c8c8c" stroke-width="0.9"/>
<line x1="396.3" y1="442.4" x2="446.9" y2="442.4" stroke="#6a6a6a" stroke-width="1"/>
<line x1="400.35" y1="442.4" x2="400.35" y2="444" stroke="#888" stroke-width="0.7"/>
<text x="399.35" y="447" font-size="2.6" fill="#999" style="stroke:none" text-anchor="middle">10</text>
<line x1="406.42" y1="442.4" x2="406.42" y2="444" stroke="#888" stroke-width="0.7"/>
<text x="405.42" y="447" font-size="2.6" fill="#999" style="stroke:none" text-anchor="middle">10</text>
<line x1="419.07" y1="442.4" x2="419.07" y2="444" stroke="#888" stroke-width="0.7"/>
<text x="418.07" y="447" font-size="2.6" fill="#999" style="stroke:none" text-anchor="middle">10</text>
<line x1="429.19" y1="442.4" x2="429.19" y2="444" stroke="#888" stroke-width="0.7"/>
<text x="428.19" y="447" font-size="2.6" fill="#999" style="stroke:none" text-anchor="middle">10</text>
<line x1="439.31" y1="442.4" x2="439.31" y2="444" stroke="#888" stroke-width="0.7"/>
<text x="438.31" y="447" font-size="2.6" fill="#999" style="stroke:none" text-anchor="middle">10</text>
<path d="M402.0 441.3L402.2 441.0L402.4 440.6L402.6 440.2L402.7 439.7L402.9 439.2L403.1 438.6L403.3 437.9L403.5 437.0L403.6 435.9L403.8 434.5L404.0 432.8L404.2 430.9L404.3 428.9L404.5 426.7L404.7 424.2L404.9 421.4L405.0 418.3L405.2 415.0L405.4 411.7L405.6 408.5L405.8 405.6L405.9 403.1L406.1 401.4L406.3 400.5L406.5 400.7L406.6 401.7L406.8 403.4L407.0 405.5L407.2 407.8L407.3 410.3L407.5 412.9L407.7 415.4L407.9 417.8L408.1 420.1L408.2 422.2L408.4 424.1L408.6 425.8L408.8 427.4L408.9 429.0L409.1 430.4L409.3 431.8L409.5 432.9L409.6 433.9L409.8 434.7L410.0 435.3L410.2 435.9L410.4 436.5L410.5 437.1L410.7 437.6L410.9 438.2L411.1 438.7L411.2 439.1L411.4 439.4L411.6 439.7L411.8 439.9L412.0 440.1L412.1 440.3L412.3 440.5L412.5 440.7L412.7 440.8L412.8 441.0L413.0 441.2" fill="none" stroke="#d8445c" stroke-width="0.9" opacity="0.85"/>
<path d="M404.0 441.7L404.2 440.8L404.3 440.2L404.5 440.2L404.7 441.2L404.9 441.1L405.0 440.4L405.2 440.3L405.4 439.5L405.6 440.1L405.8 438.9L405.9 440.0L406.1 438.6L406.3 440.5L406.5 439.6L406.6 438.8L406.8 437.8L407.0 437.9L407.2 439.0L407.3 439.3L407.5 437.5L407.7 437.3L407.9 437.4L408.1 436.6L408.2 438.0L408.4 435.2L408.6 434.2L408.8 436.5L408.9 436.2L409.1 432.7L409.3 432.6L409.5 435.1L409.6 434.7L409.8 436.1L410.0 432.0L410.2 432.1L410.4 432.0L410.5 427.6L410.7 431.6L410.9 431.0L411.1 429.8L411.2 430.2L411.4 427.2L411.6 429.3L411.8 428.2L412.0 423.3L412.1 428.8L412.3 429.7L412.5 426.3L412.7 427.6L412.8 427.2L413.0 424.8L413.2 422.9L413.4 428.0L413.5 424.4L413.7 428.5L413.9 420.8L414.1 425.1L414.3 420.5L414.4 417.0L414.6 417.6L414.8 419.4L415.0 425.2L415.1 414.4L415.3 420.0L415.5 416.0L415.7 419.0L415.8 417.7L416.0 411.8L416.2 420.6L416.4 418.8L416.6 415.4L416.7 410.8L416.9 420.9L417.1 408.9L417.3 413.4L417.4 409.3L417.6 402.6L417.8 408.6L418.0 406.1L418.1 404.6L418.3 409.4L418.5 407.4L418.7 407.8L418.9 405.9L419.0 407.1L419.2 407.2L419.4 407.0L419.6 401.7L419.7 408.4L419.9 402.8L420.1 397.7L420.3 407.0L420.4 407.8L420.6 398.5L420.8 403.3L421.0 402.6L421.2 397.1L421.3 398.0L421.5 401.5L421.7 400.1L421.9 404.4L422.0 401.3L422.2 399.6L422.4 397.6L422.6 397.9L422.8 395.9L422.9 401.2L423.1 397.8L423.3 401.0L423.5 406.1L423.6 402.2L423.8 402.9L424.0 402.7L424.2 404.3L424.3 406.6L424.5 411.0L424.7 410.1L424.9 409.3L425.1 409.3L425.2 409.9L425.4 412.4L425.6 412.6L425.8 411.4L425.9 416.1L426.1 419.2L426.3 422.7L426.5 419.8L426.6 419.3L426.8 422.9L427.0 419.2L427.2 425.9L427.4 425.6L427.5 425.7L427.7 429.2L427.9 425.2L428.1 429.7L428.2 431.4L428.4 433.4L428.6 428.9L428.8 429.1L428.9 434.1L429.1 435.5L429.3 434.6L429.5 434.7L429.7 436.1L429.8 435.4L430.0 438.0L430.2 434.6L430.4 437.2L430.5 436.9L430.7 438.8L430.9 437.8L431.1 437.6L431.2 440.1L431.4 439.7L431.6 439.4L431.8 440.1L432.0 441.2L432.1 441.2L432.3 440.9L432.5 441.2" fill="none" stroke="#40cce4" stroke-width="1.2" opacity="0.85" stroke-linejoin="round"/>
<text x="445.7" y="401.4" text-anchor="end" font-size="6.8">244.7&#177;23.4</text>
<rect x="450.2" y="394.4" width="51.6" height="48" fill="#fff" stroke="#8c8c8c" stroke-width="0.9"/>
<line x1="450.2" y1="442.4" x2="501.8" y2="442.4" stroke="#6a6a6a" stroke-width="1"/>
<line x1="454.33" y1="442.4" x2="454.33" y2="444" stroke="#888" stroke-width="0.7"/>
<text x="453.33" y="447" font-size="2.6" fill="#999" style="stroke:none" text-anchor="middle">10</text>
<line x1="460.52" y1="442.4" x2="460.52" y2="444" stroke="#888" stroke-width="0.7"/>
<text x="459.52" y="447" font-size="2.6" fill="#999" style="stroke:none" text-anchor="middle">10</text>
<line x1="473.42" y1="442.4" x2="473.42" y2="444" stroke="#888" stroke-width="0.7"/>
<text x="472.42" y="447" font-size="2.6" fill="#999" style="stroke:none" text-anchor="middle">10</text>
<line x1="483.74" y1="442.4" x2="483.74" y2="444" stroke="#888" stroke-width="0.7"/>
<text x="482.74" y="447" font-size="2.6" fill="#999" style="stroke:none" text-anchor="middle">10</text>
<line x1="494.06" y1="442.4" x2="494.06" y2="444" stroke="#888" stroke-width="0.7"/>
<text x="493.06" y="447" font-size="2.6" fill="#999" style="stroke:none" text-anchor="middle">10</text>
<path d="M456.0 441.2L456.2 440.9L456.4 440.5L456.6 440.1L456.8 439.7L456.9 439.2L457.1 438.7L457.3 438.2L457.5 437.5L457.7 436.7L457.8 435.6L458.0 434.3L458.2 432.8L458.4 431.1L458.6 429.4L458.7 427.6L458.9 425.5L459.1 423.2L459.3 420.6L459.5 417.8L459.7 414.8L459.8 411.9L460.0 409.0L460.2 406.3L460.4 403.9L460.6 401.9L460.7 400.5L460.9 399.9L461.1 400.1L461.3 400.9L461.5 402.2L461.6 403.8L461.8 405.6L462.0 407.4L462.2 409.4L462.4 411.4L462.5 413.5L462.7 415.5L462.9 417.5L463.1 419.4L463.3 421.1L463.4 422.7L463.6 424.1L463.8 425.4L464.0 426.7L464.2 427.9L464.3 429.1L464.5 430.3L464.7 431.5L464.9 432.5L465.1 433.3L465.3 434.0L465.4 434.6L465.6 435.1L465.8 435.6L466.0 436.0L466.2 436.5L466.3 436.9L466.5 437.4L466.7 437.8L466.9 438.3L467.1 438.7L467.2 439.0L467.4 439.3L467.6 439.6L467.8 439.8L468.0 439.9L468.1 440.1L468.3 440.2L468.5 440.3L468.7 440.5L468.9 440.6L469.0 440.8L469.2 440.9L469.4 441.0L469.6 441.2" fill="none" stroke="#d8445c" stroke-width="0.9" opacity="0.85"/>
<path d="M450.8 441.7L451.0 439.9L451.2 440.7L451.3 440.9L451.5 440.5L451.7 440.8L451.9 441.0L452.1 440.3L452.2 440.6L452.4 441.0L452.6 440.3L452.8 440.4L453.0 440.4L453.1 440.7L453.3 440.0L453.5 441.0L453.7 440.1L453.9 439.7L454.1 441.0L454.2 440.3L454.4 441.4L454.6 440.4L454.8 441.3L455.0 441.1L455.1 440.3L455.3 439.8L455.5 440.1L455.7 440.4L455.9 440.7L456.0 440.2L456.2 438.8L456.4 439.3L456.6 440.9L456.8 440.5L456.9 440.9L457.1 439.6L457.3 440.1L457.5 440.9L457.7 439.9L457.8 440.1L458.0 440.4L458.2 439.9L458.4 439.0L458.6 440.2L458.7 439.8L458.9 440.5L459.1 439.7L459.3 438.4L459.5 438.9L459.7 439.8L459.8 439.7L460.0 438.2L460.2 439.2L460.4 439.5L460.6 438.1L460.7 439.3L460.9 439.4L461.1 438.4L461.3 439.7L461.5 438.9L461.6 439.1L461.8 438.2L462.0 438.3L462.2 436.5L462.4 437.4L462.5 437.9L462.7 437.2L462.9 437.9L463.1 437.3L463.3 436.8L463.4 436.8L463.6 435.7L463.8 436.4L464.0 437.5L464.2 436.3L464.3 437.6L464.5 433.9L464.7 438.0L464.9 435.8L465.1 434.8L465.3 436.3L465.4 435.5L465.6 433.4L465.8 436.0L466.0 433.0L466.2 434.3L466.3 434.2L466.5 430.8L466.7 432.2L466.9 432.4L467.1 433.1L467.2 432.2L467.4 432.5L467.6 429.3L467.8 431.4L468.0 432.6L468.1 432.0L468.3 430.3L468.5 432.4L468.7 431.5L468.9 432.6L469.0 433.4L469.2 425.3L469.4 429.0L469.6 425.0L469.8 426.6L469.9 426.5L470.1 428.5L470.3 426.0L470.5 425.1L470.7 426.6L470.9 422.9L471.0 421.3L471.2 422.2L471.4 422.1L471.6 425.6L471.8 415.4L471.9 419.0L472.1 422.6L472.3 421.8L472.5 420.0L472.7 420.0L472.8 416.8L473.0 418.2L473.2 415.0L473.4 415.6L473.6 414.3L473.7 415.8L473.9 411.5L474.1 410.4L474.3 412.5L474.5 413.9L474.6 408.4L474.8 412.7L475.0 409.1L475.2 404.7L475.4 401.5L475.5 405.1L475.7 402.4L475.9 398.7L476.1 404.9L476.3 402.2L476.5 399.4L476.6 395.9L476.8 403.1L477.0 403.0L477.2 396.4L477.4 396.0L477.5 402.3L477.7 400.9L477.9 399.1L478.1 403.7L478.3 409.8L478.4 404.9L478.6 404.3L478.8 412.0L479.0 406.7L479.2 412.8L479.3 418.3L479.5 415.2L479.7 421.2L479.9 416.4L480.1 420.3L480.2 419.6L480.4 428.5L480.6 426.8L480.8 426.4L481.0 428.8L481.1 431.4L481.3 433.3L481.5 434.3L481.7 435.0L481.9 435.2L482.1 439.5L482.2 439.3L482.4 439.4L482.6 439.3L482.8 439.6L483.0 440.4L483.1 440.6L483.3 440.5L483.5 440.7L483.7 441.6" fill="none" stroke="#40cce4" stroke-width="1.2" opacity="0.85" stroke-linejoin="round"/>
<text x="500.6" y="401.4" text-anchor="end" font-size="6.8">245.0&#177;15.7</text>
<line x1="6.2" y1="448.9" x2="520" y2="448.9" stroke="#d06068" stroke-width="2"/>
<text x="255.5" y="456.3" text-anchor="middle" fill="#c8323c" style="stroke:#c8323c" font-size="8.8">HLA-DR</text>
<rect x="24.6" y="466.5" width="49.9" height="47.1" fill="#fff" stroke="#8c8c8c" stroke-width="0.9"/>
<line x1="24.6" y1="513.6" x2="74.5" y2="513.6" stroke="#6a6a6a" stroke-width="1"/>
<line x1="28.59" y1="513.6" x2="28.59" y2="515.2" stroke="#888" stroke-width="0.7"/>
<text x="27.59" y="518.2" font-size="2.6" fill="#999" style="stroke:none" text-anchor="middle">10</text>
<line x1="34.58" y1="513.6" x2="34.58" y2="515.2" stroke="#888" stroke-width="0.7"/>
<text x="33.58" y="518.2" font-size="2.6" fill="#999" style="stroke:none" text-anchor="middle">10</text>
<line x1="47.05" y1="513.6" x2="47.05" y2="515.2" stroke="#888" stroke-width="0.7"/>
<text x="46.05" y="518.2" font-size="2.6" fill="#999" style="stroke:none" text-anchor="middle">10</text>
<line x1="57.04" y1="513.6" x2="57.04" y2="515.2" stroke="#888" stroke-width="0.7"/>
<text x="56.04" y="518.2" font-size="2.6" fill="#999" style="stroke:none" text-anchor="middle">10</text>
<line x1="67.02" y1="513.6" x2="67.02" y2="515.2" stroke="#888" stroke-width="0.7"/>
<text x="66.02" y="518.2" font-size="2.6" fill="#999" style="stroke:none" text-anchor="middle">10</text>
<path d="M25.2 505.3L25.4 504.6L25.5 503.7L25.7 502.7L25.9 501.6L26.1 500.5L26.2 499.4L26.4 498.3L26.6 497.2L26.8 496.0L26.9 494.9L27.1 493.8L27.3 492.6L27.5 491.5L27.6 490.3L27.8 489.0L28.0 487.8L28.2 486.5L28.3 485.2L28.5 483.9L28.7 482.7L28.9 481.4L29.0 480.1L29.2 478.8L29.4 477.5L29.6 476.3L29.7 475.1L29.9 474.1L30.1 473.2L30.3 472.6L30.4 472.1L30.6 471.7L30.8 471.4L31.0 471.2L31.1 471.0L31.3 471.0L31.5 471.3L31.7 471.7L31.8 472.5L32.0 473.4L32.2 474.5L32.4 475.6L32.5 476.7L32.7 477.8L32.9 479.0L33.1 480.1L33.2 481.2L33.4 482.3L33.6 483.5L33.8 484.6L33.9 485.7L34.1 486.8L34.3 487.9L34.5 488.9L34.6 490.0L34.8 491.1L35.0 492.2L35.1 493.2L35.3 494.3L35.5 495.4L35.7 496.5L35.8 497.5L36.0 498.6L36.2 499.7L36.4 500.7L36.5 501.7L36.7 502.7L36.9 503.6L37.1 504.4L37.2 505.2L37.4 505.9L37.6 506.5L37.8 507.2L37.9 507.8L38.1 508.5L38.3 509.1L38.5 509.7L38.6 510.4L38.8 511.0L39.0 511.6L39.2 512.0L39.3 512.4" fill="none" stroke="#d8445c" stroke-width="0.9" opacity="0.85"/>
<path d="M25.2 506.8L25.4 507.4L25.5 506.6L25.7 504.4L25.9 503.5L26.1 500.4L26.2 500.7L26.4 500.4L26.6 500.4L26.8 496.9L26.9 496.8L27.1 496.7L27.3 489.1L27.5 494.5L27.6 486.7L27.8 482.7L28.0 487.0L28.2 486.8L28.3 483.4L28.5 485.5L28.7 482.1L28.9 479.8L29.0 483.0L29.2 475.8L29.4 478.0L29.6 476.4L29.7 473.0L29.9 478.2L30.1 476.9L30.3 472.3L30.4 471.2L30.6 471.9L30.8 471.1L31.0 471.2L31.1 472.9L31.3 474.1L31.5 473.2L31.7 471.8L31.8 471.8L32.0 476.7L32.2 470.4L32.4 469.7L32.5 475.3L32.7 478.1L32.9 477.0L33.1 475.0L33.2 477.2L33.4 472.9L33.6 478.0L33.8 475.5L33.9 477.0L34.1 473.5L34.3 478.2L34.5 478.8L34.6 482.5L34.8 482.1L35.0 485.2L35.1 476.7L35.3 484.2L35.5 485.6L35.7 486.1L35.8 486.3L36.0 487.0L36.2 492.2L36.4 487.6L36.5 490.7L36.7 491.8L36.9 489.6L37.1 493.1L37.2 495.7L37.4 496.7L37.6 495.0L37.8 497.0L37.9 497.8L38.1 500.7L38.3 499.6L38.5 501.6L38.6 502.6L38.8 500.8L39.0 503.0L39.2 504.4L39.3 503.9L39.5 503.8L39.7 507.8L39.9 506.1L40.0 507.3L40.2 508.1L40.4 507.3L40.6 508.2L40.7 509.5L40.9 508.6L41.1 510.0L41.3 510.2L41.4 511.3L41.6 510.8L41.8 510.8L42.0 511.6L42.1 511.7L42.3 511.5L42.5 512.3L42.7 512.6L42.8 512.2L43.0 512.8" fill="none" stroke="#40cce4" stroke-width="1.2" opacity="0.85" stroke-linejoin="round"/>
<text x="73.3" y="473.5" text-anchor="end" font-size="6.8">6.1&#177;2.2</text>
<text x="22.2" y="516.4" text-anchor="end" font-size="6.6">0</text>
<line x1="23.2" y1="512.9" x2="24.6" y2="512.9" stroke="#888" stroke-width="0.7"/>
<text x="22.2" y="507.42" text-anchor="end" font-size="6.6">20</text>
<line x1="23.2" y1="503.92" x2="24.6" y2="503.92" stroke="#888" stroke-width="0.7"/>
<text x="22.2" y="498.44" text-anchor="end" font-size="6.6">40</text>
<line x1="23.2" y1="494.94" x2="24.6" y2="494.94" stroke="#888" stroke-width="0.7"/>
<text x="22.2" y="489.46" text-anchor="end" font-size="6.6">60</text>
<line x1="23.2" y1="485.96" x2="24.6" y2="485.96" stroke="#888" stroke-width="0.7"/>
<text x="22.2" y="480.48" text-anchor="end" font-size="6.6">80</text>
<line x1="23.2" y1="476.98" x2="24.6" y2="476.98" stroke="#888" stroke-width="0.7"/>
<text x="22.2" y="471.5" text-anchor="end" font-size="6.6">100</text>
<line x1="23.2" y1="468" x2="24.6" y2="468" stroke="#888" stroke-width="0.7"/>
<rect x="77.6" y="466.5" width="49.6" height="47.1" fill="#fff" stroke="#8c8c8c" stroke-width="0.9"/>
<line x1="77.6" y1="513.6" x2="127.2" y2="513.6" stroke="#6a6a6a" stroke-width="1"/>
<line x1="81.57" y1="513.6" x2="81.57" y2="515.2" stroke="#888" stroke-width="0.7"/>
<text x="80.57" y="518.2" font-size="2.6" fill="#999" style="stroke:none" text-anchor="middle">10</text>
<line x1="87.52" y1="513.6" x2="87.52" y2="515.2" stroke="#888" stroke-width="0.7"/>
<text x="86.52" y="518.2" font-size="2.6" fill="#999" style="stroke:none" text-anchor="middle">10</text>
<line x1="99.92" y1="513.6" x2="99.92" y2="515.2" stroke="#888" stroke-width="0.7"/>
<text x="98.92" y="518.2" font-size="2.6" fill="#999" style="stroke:none" text-anchor="middle">10</text>
<line x1="109.84" y1="513.6" x2="109.84" y2="515.2" stroke="#888" stroke-width="0.7"/>
<text x="108.84" y="518.2" font-size="2.6" fill="#999" style="stroke:none" text-anchor="middle">10</text>
<line x1="119.76" y1="513.6" x2="119.76" y2="515.2" stroke="#888" stroke-width="0.7"/>
<text x="118.76" y="518.2" font-size="2.6" fill="#999" style="stroke:none" text-anchor="middle">10</text>
<path d="M78.2 498.6L78.4 498.0L78.5 497.1L78.7 496.2L78.9 495.1L79.1 494.1L79.2 493.0L79.4 491.9L79.6 490.8L79.8 489.8L79.9 488.7L80.1 487.6L80.3 486.6L80.5 485.5L80.6 484.4L80.8 483.4L81.0 482.4L81.1 481.5L81.3 480.7L81.5 479.9L81.7 479.2L81.8 478.5L82.0 477.8L82.2 477.1L82.4 476.4L82.5 475.7L82.7 475.0L82.9 474.3L83.1 473.6L83.2 472.9L83.4 472.3L83.6 471.7L83.8 471.2L83.9 470.9L84.1 470.9L84.3 471.1L84.4 471.6L84.6 472.1L84.8 472.7L85.0 473.4L85.1 474.0L85.3 474.7L85.5 475.3L85.7 476.1L85.8 476.9L86.0 477.9L86.2 479.0L86.4 480.2L86.5 481.5L86.7 482.8L86.9 484.2L87.0 485.5L87.2 486.9L87.4 488.2L87.6 489.5L87.7 490.9L87.9 492.2L88.1 493.6L88.3 494.9L88.4 496.2L88.6 497.4L88.8 498.5L89.0 499.5L89.1 500.4L89.3 501.2L89.5 501.9L89.6 502.6L89.8 503.3L90.0 504.0L90.2 504.7L90.3 505.4L90.5 506.1L90.7 506.8L90.9 507.4L91.0 508.1L91.2 508.8L91.4 509.5L91.6 510.2L91.7 510.9L91.9 511.5L92.1 512.0L92.3 512.4" fill="none" stroke="#d8445c" stroke-width="0.9" opacity="0.85"/>
<path d="M78.4 512.6L78.5 511.8L78.7 511.7L78.9 511.4L79.1 511.8L79.2 511.4L79.4 511.7L79.6 510.0L79.8 511.4L79.9 511.8L80.1 510.9L80.3 509.6L80.5 510.6L80.6 509.9L80.8 511.0L81.0 510.2L81.1 510.6L81.3 510.2L81.5 509.3L81.7 508.3L81.8 506.8L82.0 507.9L82.2 509.3L82.4 509.2L82.5 509.4L82.7 507.8L82.9 508.5L83.1 507.5L83.2 508.3L83.4 505.0L83.6 507.0L83.8 505.5L83.9 506.6L84.1 503.2L84.3 507.6L84.4 504.9L84.6 503.6L84.8 505.2L85.0 503.6L85.1 504.8L85.3 502.9L85.5 504.3L85.7 501.6L85.8 506.0L86.0 502.5L86.2 504.1L86.4 503.7L86.5 502.0L86.7 503.6L86.9 503.4L87.0 501.2L87.2 503.6L87.4 502.0L87.6 499.7L87.7 502.5L87.9 498.9L88.1 502.4L88.3 500.0L88.4 500.0L88.6 502.3L88.8 498.3L89.0 501.9L89.1 496.8L89.3 496.2L89.5 499.8L89.6 498.3L89.8 498.6L90.0 500.6L90.2 499.3L90.3 497.6L90.5 497.3L90.7 494.6L90.9 497.6L91.0 497.6L91.2 494.9L91.4 494.5L91.6 496.2L91.7 495.0L91.9 496.4L92.1 495.2L92.3 498.9L92.4 498.0L92.6 492.3L92.8 495.1L92.9 495.7L93.1 492.0L93.3 488.4L93.5 490.2L93.6 491.2L93.8 491.8L94.0 487.4L94.2 487.3L94.3 490.2L94.5 491.2L94.7 489.8L94.9 488.5L95.0 489.7L95.2 490.3L95.4 490.2L95.5 491.9L95.7 488.8L95.9 487.2L96.1 490.7L96.2 489.3L96.4 484.6L96.6 488.6L96.8 485.3L96.9 488.6L97.1 490.3L97.3 484.2L97.5 483.1L97.6 483.6L97.8 483.9L98.0 479.5L98.1 483.6L98.3 484.4L98.5 481.1L98.7 478.5L98.8 479.9L99.0 477.5L99.2 475.6L99.4 481.4L99.5 479.2L99.7 479.0L99.9 476.2L100.1 481.8L100.2 474.1L100.4 480.3L100.6 474.8L100.8 476.4L100.9 476.3L101.1 473.0L101.3 477.8L101.4 472.1L101.6 474.4L101.8 477.1L102.0 469.7L102.1 476.0L102.3 470.2L102.5 472.9L102.7 472.6L102.8 468.0L103.0 470.4L103.2 472.1L103.4 469.1L103.5 473.6L103.7 468.3L103.9 475.7L104.0 473.4L104.2 477.7L104.4 475.3L104.6 480.9L104.7 480.0L104.9 479.0L105.1 485.5L105.3 483.8L105.4 483.5L105.6 486.8L105.8 487.6L106.0 486.2L106.1 486.9L106.3 493.5L106.5 493.0L106.7 497.8L106.8 493.4L107.0 493.1L107.2 497.1L107.3 498.8L107.5 496.7L107.7 499.5L107.9 496.0L108.0 498.0L108.2 504.4L108.4 501.2L108.6 502.0L108.7 502.7L108.9 504.5L109.1 507.1L109.3 505.7L109.4 507.1L109.6 505.2L109.8 507.2L109.9 507.2L110.1 510.1L110.3 509.8L110.5 510.6L110.6 511.5L110.8 511.7L111.0 512.6L111.2 512.2L111.3 512.8" fill="none" stroke="#40cce4" stroke-width="1.2" opacity="0.85" stroke-linejoin="round"/>
<text x="126" y="473.5" text-anchor="end" font-size="6.8">32.8&#177;7.2</text>
<rect x="130.6" y="466.5" width="49" height="47.1" fill="#fff" stroke="#8c8c8c" stroke-width="0.9"/>
<line x1="130.6" y1="513.6" x2="179.6" y2="513.6" stroke="#6a6a6a" stroke-width="1"/>
<line x1="134.52" y1="513.6" x2="134.52" y2="515.2" stroke="#888" stroke-width="0.7"/>
<text x="133.52" y="518.2" font-size="2.6" fill="#999" style="stroke:none" text-anchor="middle">10</text>
<line x1="140.4" y1="513.6" x2="140.4" y2="515.2" stroke="#888" stroke-width="0.7"/>
<text x="139.4" y="518.2" font-size="2.6" fill="#999" style="stroke:none" text-anchor="middle">10</text>
<line x1="152.65" y1="513.6" x2="152.65" y2="515.2" stroke="#888" stroke-width="0.7"/>
<text x="151.65" y="518.2" font-size="2.6" fill="#999" style="stroke:none" text-anchor="middle">10</text>
<line x1="162.45" y1="513.6" x2="162.45" y2="515.2" stroke="#888" stroke-width="0.7"/>
<text x="161.45" y="518.2" font-size="2.6" fill="#999" style="stroke:none" text-anchor="middle">10</text>
<line x1="172.25" y1="513.6" x2="172.25" y2="515.2" stroke="#888" stroke-width="0.7"/>
<text x="171.25" y="518.2" font-size="2.6" fill="#999" style="stroke:none" text-anchor="middle">10</text>
<path d="M131.2 503.1L131.4 502.4L131.5 501.6L131.7 500.6L131.9 499.6L132.1 498.6L132.2 497.5L132.4 496.4L132.6 495.3L132.7 494.3L132.9 493.2L133.1 492.1L133.3 491.0L133.4 490.0L133.6 488.9L133.8 487.8L133.9 486.8L134.1 485.8L134.3 484.8L134.5 483.8L134.6 482.8L134.8 481.8L135.0 480.9L135.1 479.9L135.3 478.9L135.5 478.0L135.7 477.0L135.8 476.1L136.0 475.1L136.2 474.1L136.3 473.2L136.5 472.4L136.7 471.8L136.9 471.6L137.0 471.7L137.2 472.3L137.4 473.2L137.5 474.3L137.7 475.5L137.9 476.7L138.1 477.9L138.2 479.2L138.4 480.4L138.6 481.6L138.7 482.7L138.9 483.7L139.1 484.7L139.3 485.6L139.4 486.4L139.6 487.2L139.8 488.0L139.9 488.9L140.1 489.7L140.3 490.5L140.5 491.4L140.6 492.3L140.8 493.3L141.0 494.2L141.1 495.1L141.3 496.1L141.5 497.0L141.7 498.0L141.8 498.9L142.0 499.8L142.2 500.8L142.3 501.7L142.5 502.6L142.7 503.5L142.9 504.4L143.0 505.2L143.2 505.9L143.4 506.5L143.5 507.0L143.7 507.5L143.9 507.9L144.0 508.3L144.2 508.7L144.4 509.1L144.6 509.5L144.7 509.9L144.9 510.3L145.1 510.7L145.2 511.1L145.4 511.5L145.6 511.9L145.8 512.2L145.9 512.5" fill="none" stroke="#d8445c" stroke-width="0.9" opacity="0.85"/>
<path d="M131.2 509.6L131.4 510.0L131.5 509.5L131.7 508.9L131.9 508.2L132.1 508.1L132.2 508.5L132.4 509.6L132.6 507.2L132.7 507.0L132.9 506.8L133.1 506.8L133.3 507.5L133.4 503.8L133.6 506.1L133.8 504.8L133.9 505.0L134.1 506.0L134.3 502.3L134.5 505.8L134.6 502.7L134.8 503.1L135.0 501.9L135.1 503.4L135.3 499.1L135.5 498.1L135.7 498.9L135.8 500.9L136.0 502.3L136.2 494.8L136.3 502.9L136.5 500.9L136.7 497.0L136.9 496.2L137.0 499.5L137.2 495.2L137.4 499.0L137.5 493.4L137.7 493.6L137.9 494.0L138.1 490.6L138.2 491.9L138.4 498.1L138.6 489.4L138.7 490.1L138.9 487.7L139.1 490.3L139.3 486.9L139.4 489.4L139.6 486.6L139.8 484.6L139.9 488.2L140.1 487.9L140.3 485.4L140.5 482.7L140.6 483.6L140.8 484.0L141.0 482.3L141.1 483.1L141.3 487.4L141.5 480.3L141.7 480.6L141.8 481.4L142.0 489.8L142.2 481.2L142.3 488.3L142.5 485.2L142.7 485.8L142.9 480.5L143.0 482.5L143.2 485.4L143.4 483.8L143.5 486.9L143.7 488.1L143.9 482.7L144.0 482.1L144.2 484.0L144.4 479.1L144.6 478.1L144.7 484.6L144.9 482.2L145.1 481.2L145.2 488.3L145.4 478.6L145.6 478.8L145.8 480.3L145.9 481.4L146.1 482.2L146.3 476.4L146.4 482.4L146.6 478.9L146.8 480.2L147.0 475.5L147.1 474.6L147.3 478.6L147.5 478.7L147.6 482.5L147.8 481.7L148.0 476.8L148.2 476.2L148.3 477.3L148.5 481.1L148.7 480.1L148.8 486.3L149.0 477.0L149.2 484.8L149.4 482.6L149.5 479.3L149.7 472.4L149.9 479.7L150.0 473.4L150.2 468.9L150.4 473.2L150.6 473.8L150.7 480.2L150.9 477.5L151.1 482.4L151.2 475.1L151.4 475.8L151.6 473.4L151.8 478.4L151.9 478.1L152.1 482.6L152.3 479.1L152.4 477.3L152.6 480.5L152.8 480.4L153.0 483.5L153.1 483.3L153.3 485.3L153.5 489.1L153.6 487.8L153.8 486.4L154.0 488.5L154.2 490.6L154.3 493.3L154.5 490.5L154.7 493.9L154.8 493.8L155.0 492.5L155.2 492.1L155.4 496.7L155.5 497.0L155.7 495.1L155.9 498.1L156.0 494.5L156.2 496.8L156.4 499.3L156.6 502.4L156.7 499.3L156.9 501.2L157.1 504.9L157.2 504.4L157.4 503.7L157.6 502.9L157.8 507.8L157.9 505.3L158.1 505.4L158.3 502.8L158.4 506.2L158.6 506.7L158.8 507.5L159.0 507.5L159.1 507.7L159.3 509.1L159.5 508.8L159.6 507.9L159.8 510.4L160.0 510.1L160.2 509.6L160.3 512.0L160.5 511.8L160.7 512.5L160.8 512.0L161.0 512.2L161.2 512.6" fill="none" stroke="#40cce4" stroke-width="1.2" opacity="0.85" stroke-linejoin="round"/>
<text x="178.4" y="473.5" text-anchor="end" font-size="6.8">35.2&#177;3.9</text>
<rect x="182.4" y="466.5" width="49.4" height="47.1" fill="#fff" stroke="#8c8c8c" stroke-width="0.9"/>
<line x1="182.4" y1="513.6" x2="231.8" y2="513.6" stroke="#6a6a6a" stroke-width="1"/>
<line x1="186.35" y1="513.6" x2="186.35" y2="515.2" stroke="#888" stroke-width="0.7"/>
<text x="185.35" y="518.2" font-size="2.6" fill="#999" style="stroke:none" text-anchor="middle">10</text>
<line x1="192.28" y1="513.6" x2="192.28" y2="515.2" stroke="#888" stroke-width="0.7"/>
<text x="191.28" y="518.2" font-size="2.6" fill="#999" style="stroke:none" text-anchor="middle">10</text>
<line x1="204.63" y1="513.6" x2="204.63" y2="515.2" stroke="#888" stroke-width="0.7"/>
<text x="203.63" y="518.2" font-size="2.6" fill="#999" style="stroke:none" text-anchor="middle">10</text>
<line x1="214.51" y1="513.6" x2="214.51" y2="515.2" stroke="#888" stroke-width="0.7"/>
<text x="213.51" y="518.2" font-size="2.6" fill="#999" style="stroke:none" text-anchor="middle">10</text>
<line x1="224.39" y1="513.6" x2="224.39" y2="515.2" stroke="#888" stroke-width="0.7"/>
<text x="223.39" y="518.2" font-size="2.6" fill="#999" style="stroke:none" text-anchor="middle">10</text>
<path d="M183.0 502.9L183.2 502.1L183.3 501.0L183.5 499.8L183.7 498.5L183.9 497.2L184.0 495.9L184.2 494.5L184.4 493.2L184.6 491.9L184.7 490.5L184.9 489.2L185.1 487.8L185.2 486.5L185.4 485.2L185.6 483.9L185.8 482.7L185.9 481.6L186.1 480.6L186.3 479.6L186.5 478.8L186.6 477.9L186.8 477.1L187.0 476.2L187.1 475.4L187.3 474.6L187.5 473.7L187.7 472.9L187.8 472.2L188.0 471.7L188.2 471.5L188.4 471.7L188.5 472.4L188.7 473.4L188.9 474.7L189.0 476.1L189.2 477.5L189.4 478.9L189.6 480.4L189.7 481.8L189.9 483.2L190.1 484.6L190.3 485.9L190.4 487.2L190.6 488.4L190.8 489.6L190.9 490.7L191.1 491.9L191.3 493.0L191.5 494.2L191.6 495.3L191.8 496.5L192.0 497.6L192.2 498.8L192.3 499.9L192.5 501.1L192.7 502.2L192.8 503.4L193.0 504.5L193.2 505.6L193.4 506.6L193.5 507.5L193.7 508.3L193.9 508.9L194.1 509.4L194.2 509.8L194.4 510.3L194.6 510.7L194.7 511.1L194.9 511.5L195.1 511.8L195.3 512.2L195.4 512.5" fill="none" stroke="#d8445c" stroke-width="0.9" opacity="0.85"/>
<path d="M183.0 508.1L183.2 507.6L183.3 508.0L183.5 507.1L183.7 503.3L183.9 508.7L184.0 501.7L184.2 500.2L184.4 499.5L184.6 500.3L184.7 502.2L184.9 498.5L185.1 495.8L185.2 493.0L185.4 495.4L185.6 500.2L185.8 496.0L185.9 496.3L186.1 490.3L186.3 490.3L186.5 490.3L186.6 490.7L186.8 495.0L187.0 489.5L187.1 484.4L187.3 490.6L187.5 489.5L187.7 490.6L187.8 486.7L188.0 483.4L188.2 490.4L188.4 481.8L188.5 486.1L188.7 473.6L188.9 482.4L189.0 479.0L189.2 486.4L189.4 475.5L189.6 478.2L189.7 479.6L189.9 471.8L190.1 477.6L190.3 478.4L190.4 470.8L190.6 478.1L190.8 473.5L190.9 478.4L191.1 480.1L191.3 469.6L191.5 474.5L191.6 472.3L191.8 473.3L192.0 477.6L192.2 477.1L192.3 482.0L192.5 483.3L192.7 481.5L192.8 491.5L193.0 485.8L193.2 490.3L193.4 488.3L193.5 492.9L193.7 486.6L193.9 489.6L194.1 494.5L194.2 491.5L194.4 499.8L194.6 499.2L194.7 494.4L194.9 492.3L195.1 497.6L195.3 496.4L195.4 498.6L195.6 496.0L195.8 501.9L196.0 505.0L196.1 503.9L196.3 502.9L196.5 502.7L196.6 505.9L196.8 503.5L197.0 508.8L197.2 506.7L197.3 509.3L197.5 509.0L197.7 509.8L197.9 508.3L198.0 508.3L198.2 512.7L198.4 511.1L198.5 510.6L198.7 511.9L198.9 511.3L199.1 511.4L199.2 510.8L199.4 512.1L199.6 511.0L199.8 511.9L199.9 511.8L200.1 512.3L200.3 512.1L200.4 512.1L200.6 510.8L200.8 511.8L201.0 512.2L201.1 512.4L201.3 512.9L201.5 512.3L201.7 512.9" fill="none" stroke="#40cce4" stroke-width="1.2" opacity="0.85" stroke-linejoin="round"/>
<text x="230.6" y="473.5" text-anchor="end" font-size="6.8">12.0&#177;1.9</text>
<rect x="234.8" y="466.5" width="51.2" height="47.1" fill="#fff" stroke="#8c8c8c" stroke-width="0.9"/>
<line x1="234.8" y1="513.6" x2="286" y2="513.6" stroke="#6a6a6a" stroke-width="1"/>
<line x1="238.9" y1="513.6" x2="238.9" y2="515.2" stroke="#888" stroke-width="0.7"/>
<text x="237.9" y="518.2" font-size="2.6" fill="#999" style="stroke:none" text-anchor="middle">10</text>
<line x1="245.04" y1="513.6" x2="245.04" y2="515.2" stroke="#888" stroke-width="0.7"/>
<text x="244.04" y="518.2" font-size="2.6" fill="#999" style="stroke:none" text-anchor="middle">10</text>
<line x1="257.84" y1="513.6" x2="257.84" y2="515.2" stroke="#888" stroke-width="0.7"/>
<text x="256.84" y="518.2" font-size="2.6" fill="#999" style="stroke:none" text-anchor="middle">10</text>
<line x1="268.08" y1="513.6" x2="268.08" y2="515.2" stroke="#888" stroke-width="0.7"/>
<text x="267.08" y="518.2" font-size="2.6" fill="#999" style="stroke:none" text-anchor="middle">10</text>
<line x1="278.32" y1="513.6" x2="278.32" y2="515.2" stroke="#888" stroke-width="0.7"/>
<text x="277.32" y="518.2" font-size="2.6" fill="#999" style="stroke:none" text-anchor="middle">10</text>
<path d="M235.4 502.9L235.6 502.1L235.8 501.0L235.9 499.8L236.1 498.5L236.3 497.2L236.5 495.9L236.7 494.5L236.8 493.2L237.0 491.9L237.2 490.5L237.4 489.2L237.6 487.8L237.7 486.5L237.9 485.2L238.1 483.9L238.3 482.8L238.4 481.7L238.6 480.8L238.8 480.0L239.0 479.2L239.2 478.5L239.3 477.8L239.5 477.1L239.7 476.4L239.9 475.7L240.1 475.0L240.2 474.3L240.4 473.6L240.6 472.9L240.8 472.3L241.0 471.7L241.1 471.4L241.3 471.3L241.5 471.6L241.7 472.3L241.9 473.3L242.0 474.5L242.2 475.8L242.4 477.1L242.6 478.4L242.7 479.7L242.9 481.0L243.1 482.4L243.3 483.7L243.5 485.0L243.6 486.3L243.8 487.6L244.0 488.8L244.2 490.1L244.4 491.3L244.5 492.5L244.7 493.7L244.9 494.9L245.1 496.1L245.3 497.3L245.4 498.5L245.6 499.6L245.8 500.6L246.0 501.4L246.2 502.1L246.3 502.7L246.5 503.2L246.7 503.7L246.9 504.2L247.0 504.6L247.2 505.1L247.4 505.5L247.6 506.0L247.8 506.5L247.9 506.9L248.1 507.4L248.3 507.8L248.5 508.3L248.7 508.8L248.8 509.2L249.0 509.6L249.2 510.0L249.4 510.4L249.6 510.7L249.7 511.0L249.9 511.2L250.1 511.4L250.3 511.6L250.5 511.8L250.6 512.0L250.8 512.2L251.0 512.4" fill="none" stroke="#d8445c" stroke-width="0.9" opacity="0.85"/>
<path d="M235.4 507.9L235.6 501.2L235.8 504.5L235.9 501.9L236.1 507.2L236.3 497.7L236.5 499.8L236.7 498.8L236.8 499.1L237.0 493.8L237.2 503.7L237.4 495.5L237.6 496.6L237.7 493.4L237.9 487.5L238.1 493.9L238.3 490.6L238.4 493.0L238.6 485.5L238.8 487.3L239.0 482.1L239.2 478.9L239.3 492.3L239.5 490.4L239.7 485.2L239.9 481.5L240.1 484.2L240.2 477.9L240.4 479.7L240.6 484.0L240.8 478.0L241.0 481.0L241.1 481.5L241.3 476.5L241.5 476.3L241.7 471.7L241.9 480.3L242.0 480.7L242.2 471.1L242.4 474.8L242.6 474.3L242.7 474.8L242.9 480.5L243.1 479.4L243.3 473.2L243.5 474.3L243.6 476.0L243.8 472.3L244.0 470.0L244.2 477.1L244.4 474.6L244.5 473.8L244.7 479.0L244.9 480.0L245.1 484.4L245.3 476.8L245.4 480.0L245.6 481.8L245.8 485.2L246.0 479.6L246.2 489.5L246.3 481.7L246.5 480.5L246.7 485.1L246.9 488.6L247.0 488.9L247.2 482.7L247.4 486.3L247.6 483.5L247.8 488.7L247.9 490.5L248.1 477.2L248.3 490.1L248.5 484.5L248.7 483.6L248.8 487.5L249.0 486.7L249.2 486.6L249.4 482.3L249.6 488.4L249.7 486.7L249.9 483.2L250.1 492.1L250.3 493.0L250.5 489.0L250.6 490.2L250.8 486.8L251.0 487.4L251.2 490.3L251.3 488.3L251.5 491.4L251.7 483.3L251.9 487.8L252.1 491.9L252.2 484.2L252.4 491.6L252.6 489.9L252.8 495.3L253.0 496.4L253.1 488.8L253.3 495.1L253.5 497.1L253.7 496.9L253.9 493.0L254.0 497.0L254.2 498.7L254.4 503.3L254.6 499.2L254.8 497.0L254.9 499.2L255.1 500.0L255.3 493.8L255.5 497.9L255.7 501.0L255.8 499.1L256.0 503.0L256.2 500.1L256.4 498.6L256.5 503.0L256.7 500.4L256.9 504.5L257.1 506.7L257.3 505.3L257.4 505.6L257.6 504.3L257.8 506.2L258.0 508.0L258.2 508.1L258.3 507.9L258.5 507.7L258.7 510.2L258.9 510.1L259.1 509.9L259.2 511.2L259.4 509.5L259.6 511.0L259.8 512.3L260.0 512.3L260.1 511.3L260.3 512.5" fill="none" stroke="#40cce4" stroke-width="1.2" opacity="0.85" stroke-linejoin="round"/>
<text x="284.8" y="473.5" text-anchor="end" font-size="6.8">12.3&#177;1.4</text>
<rect x="288.8" y="466.5" width="49.8" height="47.1" fill="#fff" stroke="#8c8c8c" stroke-width="0.9"/>
<line x1="288.8" y1="513.6" x2="338.6" y2="513.6" stroke="#6a6a6a" stroke-width="1"/>
<line x1="292.78" y1="513.6" x2="292.78" y2="515.2" stroke="#888" stroke-width="0.7"/>
<text x="291.78" y="518.2" font-size="2.6" fill="#999" style="stroke:none" text-anchor="middle">10</text>
<line x1="298.76" y1="513.6" x2="298.76" y2="515.2" stroke="#888" stroke-width="0.7"/>
<text x="297.76" y="518.2" font-size="2.6" fill="#999" style="stroke:none" text-anchor="middle">10</text>
<line x1="311.21" y1="513.6" x2="311.21" y2="515.2" stroke="#888" stroke-width="0.7"/>
<text x="310.21" y="518.2" font-size="2.6" fill="#999" style="stroke:none" text-anchor="middle">10</text>
<line x1="321.17" y1="513.6" x2="321.17" y2="515.2" stroke="#888" stroke-width="0.7"/>
<text x="320.17" y="518.2" font-size="2.6" fill="#999" style="stroke:none" text-anchor="middle">10</text>
<line x1="331.13" y1="513.6" x2="331.13" y2="515.2" stroke="#888" stroke-width="0.7"/>
<text x="330.13" y="518.2" font-size="2.6" fill="#999" style="stroke:none" text-anchor="middle">10</text>
<path d="M289.4 502.9L289.6 502.1L289.7 501.0L289.9 499.8L290.1 498.5L290.3 497.2L290.4 495.9L290.6 494.5L290.8 493.2L291.0 491.9L291.1 490.5L291.3 489.2L291.5 487.8L291.7 486.5L291.8 485.2L292.0 483.9L292.2 482.7L292.4 481.6L292.5 480.6L292.7 479.6L292.9 478.8L293.1 477.9L293.2 477.1L293.4 476.2L293.6 475.4L293.8 474.6L293.9 473.7L294.1 472.9L294.3 472.2L294.5 471.7L294.6 471.4L294.8 471.5L295.0 471.9L295.1 472.7L295.3 473.7L295.5 474.8L295.7 476.0L295.8 477.1L296.0 478.3L296.2 479.4L296.4 480.6L296.5 481.7L296.7 482.9L296.9 484.0L297.1 485.0L297.2 486.0L297.4 486.9L297.6 487.8L297.8 488.7L297.9 489.5L298.1 490.3L298.3 491.1L298.5 491.9L298.6 492.7L298.8 493.5L299.0 494.3L299.2 495.1L299.3 495.9L299.5 496.7L299.7 497.5L299.9 498.3L300.0 499.1L300.2 499.8L300.4 500.5L300.5 501.2L300.7 501.9L300.9 502.6L301.1 503.3L301.2 504.0L301.4 504.7L301.6 505.4L301.8 506.1L301.9 506.8L302.1 507.4L302.3 508.1L302.5 508.8L302.6 509.5L302.8 510.2L303.0 510.9L303.2 511.5L303.3 512.0L303.5 512.4" fill="none" stroke="#d8445c" stroke-width="0.9" opacity="0.85"/>
<path d="M295.3 512.8L295.5 512.3L295.7 512.7L295.8 512.5L296.0 512.6L296.2 512.4L296.4 512.2L296.5 512.0L296.7 512.6L296.9 512.0L297.1 512.4L297.2 511.8L297.4 512.5L297.6 512.3L297.8 512.1L297.9 511.7L298.1 512.0L298.3 511.6L298.5 511.8L298.6 511.6L298.8 511.8L299.0 511.8L299.2 511.6L299.3 511.6L299.5 511.7L299.7 511.6L299.9 512.2L300.0 512.0L300.2 511.7L300.4 511.5L300.5 511.7L300.7 510.3L300.9 511.5L301.1 510.9L301.2 510.6L301.4 511.3L301.6 510.6L301.8 510.8L301.9 511.1L302.1 510.1L302.3 509.8L302.5 508.8L302.6 509.5L302.8 510.5L303.0 509.1L303.2 510.6L303.3 509.7L303.5 510.8L303.7 508.7L303.9 509.0L304.0 507.7L304.2 508.1L304.4 508.8L304.6 507.9L304.7 507.6L304.9 508.6L305.1 508.3L305.3 507.5L305.4 508.9L305.6 508.7L305.8 506.7L305.9 506.7L306.1 506.6L306.3 503.8L306.5 505.3L306.6 504.0L306.8 504.5L307.0 504.4L307.2 504.5L307.3 505.2L307.5 503.4L307.7 503.5L307.9 501.8L308.0 503.0L308.2 502.6L308.4 501.2L308.6 502.6L308.7 501.2L308.9 499.7L309.1 499.4L309.3 498.8L309.4 497.7L309.6 496.9L309.8 493.3L310.0 496.1L310.1 496.4L310.3 493.3L310.5 493.5L310.7 493.7L310.8 490.5L311.0 494.7L311.2 491.0L311.3 491.5L311.5 489.8L311.7 489.1L311.9 488.5L312.0 487.2L312.2 488.9L312.4 488.0L312.6 484.7L312.7 485.6L312.9 485.5L313.1 485.8L313.3 483.3L313.4 484.5L313.6 478.8L313.8 475.8L314.0 478.7L314.1 480.4L314.3 476.1L314.5 480.2L314.7 475.1L314.8 475.9L315.0 472.9L315.2 475.2L315.4 473.1L315.5 470.8L315.7 473.1L315.9 469.5L316.1 473.1L316.2 472.7L316.4 469.4L316.6 473.5L316.7 473.0L316.9 474.7L317.1 475.4L317.3 471.5L317.4 474.0L317.6 477.5L317.8 477.2L318.0 477.1L318.1 476.3L318.3 478.0L318.5 479.4L318.7 483.5L318.8 479.0L319.0 484.7L319.2 484.8L319.4 486.7L319.5 485.3L319.7 488.1L319.9 488.7L320.1 491.0L320.2 492.5L320.4 492.9L320.6 493.5L320.8 494.3L320.9 495.5L321.1 496.5L321.3 501.1L321.5 499.4L321.6 500.0L321.8 500.4L322.0 503.1L322.1 504.7L322.3 505.8L322.5 506.1L322.7 507.5L322.8 507.3L323.0 507.4L323.2 509.6L323.4 510.2L323.5 510.9L323.7 511.7L323.9 511.4L324.1 512.5L324.2 512.3L324.4 512.7" fill="none" stroke="#40cce4" stroke-width="1.2" opacity="0.85" stroke-linejoin="round"/>
<text x="337.4" y="473.5" text-anchor="end" font-size="6.8">120.2&#177;5.6</text>
<rect x="342" y="466.5" width="50" height="47.1" fill="#fff" stroke="#8c8c8c" stroke-width="0.9"/>
<line x1="342" y1="513.6" x2="392" y2="513.6" stroke="#6a6a6a" stroke-width="1"/>
<line x1="346" y1="513.6" x2="346" y2="515.2" stroke="#888" stroke-width="0.7"/>
<text x="345" y="518.2" font-size="2.6" fill="#999" style="stroke:none" text-anchor="middle">10</text>
<line x1="352" y1="513.6" x2="352" y2="515.2" stroke="#888" stroke-width="0.7"/>
<text x="351" y="518.2" font-size="2.6" fill="#999" style="stroke:none" text-anchor="middle">10</text>
<line x1="364.5" y1="513.6" x2="364.5" y2="515.2" stroke="#888" stroke-width="0.7"/>
<text x="363.5" y="518.2" font-size="2.6" fill="#999" style="stroke:none" text-anchor="middle">10</text>
<line x1="374.5" y1="513.6" x2="374.5" y2="515.2" stroke="#888" stroke-width="0.7"/>
<text x="373.5" y="518.2" font-size="2.6" fill="#999" style="stroke:none" text-anchor="middle">10</text>
<line x1="384.5" y1="513.6" x2="384.5" y2="515.2" stroke="#888" stroke-width="0.7"/>
<text x="383.5" y="518.2" font-size="2.6" fill="#999" style="stroke:none" text-anchor="middle">10</text>
<path d="M342.6 507.4L342.8 506.6L342.9 505.5L343.1 504.3L343.3 503.0L343.5 501.7L343.6 500.4L343.8 499.0L344.0 497.7L344.2 496.3L344.3 495.0L344.5 493.7L344.7 492.3L344.9 491.0L345.0 489.6L345.2 488.3L345.4 487.0L345.6 485.8L345.7 484.6L345.9 483.4L346.1 482.2L346.3 481.0L346.4 479.9L346.6 478.7L346.8 477.5L347.0 476.4L347.1 475.2L347.3 474.1L347.5 473.1L347.7 472.3L347.8 471.8L348.0 471.7L348.2 472.2L348.4 472.9L348.5 474.0L348.7 475.1L348.9 476.4L349.1 477.6L349.2 478.8L349.4 480.0L349.6 481.3L349.8 482.5L349.9 483.8L350.1 485.0L350.3 486.2L350.5 487.4L350.6 488.6L350.8 489.7L351.0 490.8L351.2 491.8L351.3 492.8L351.5 493.7L351.7 494.7L351.9 495.6L352.0 496.5L352.2 497.4L352.4 498.3L352.6 499.3L352.7 500.2L352.9 501.1L353.1 502.0L353.3 502.9L353.4 503.8L353.6 504.8L353.8 505.7L354.0 506.5L354.1 507.3L354.3 508.0L354.5 508.6L354.7 509.2L354.8 509.6L355.0 510.0L355.2 510.4L355.4 510.8L355.5 511.2L355.7 511.6L355.9 512.0L356.1 512.3L356.2 512.6" fill="none" stroke="#d8445c" stroke-width="0.9" opacity="0.85"/>
<path d="M345.0 512.8L345.2 512.2L345.4 511.5L345.6 512.1L345.7 511.6L345.9 511.4L346.1 511.5L346.3 511.6L346.4 511.4L346.6 510.5L346.8 510.9L347.0 510.9L347.1 511.0L347.3 510.7L347.5 509.9L347.7 509.8L347.8 510.2L348.0 510.1L348.2 509.3L348.4 509.1L348.5 509.6L348.7 510.3L348.9 511.2L349.1 510.4L349.2 509.6L349.4 509.1L349.6 509.5L349.8 509.6L349.9 508.3L350.1 509.0L350.3 509.4L350.5 509.5L350.6 507.9L350.8 508.7L351.0 507.8L351.2 507.7L351.3 507.6L351.5 507.5L351.7 506.9L351.9 508.1L352.0 506.3L352.2 506.9L352.4 506.8L352.6 506.1L352.7 506.2L352.9 505.4L353.1 505.9L353.3 502.8L353.4 506.4L353.6 504.4L353.8 505.0L354.0 505.6L354.1 503.5L354.3 502.0L354.5 504.0L354.7 501.6L354.8 504.6L355.0 502.5L355.2 503.6L355.4 503.8L355.5 502.9L355.7 502.7L355.9 501.1L356.1 499.1L356.2 499.9L356.4 498.6L356.6 500.6L356.8 501.0L356.9 497.9L357.1 497.5L357.3 500.3L357.5 499.1L357.6 497.6L357.8 498.2L358.0 499.5L358.2 496.8L358.3 499.7L358.5 493.2L358.7 495.7L358.9 497.7L359.0 494.0L359.2 493.1L359.4 492.9L359.6 494.2L359.7 496.2L359.9 495.2L360.1 490.5L360.3 493.5L360.4 494.1L360.6 493.1L360.8 494.8L361.0 492.5L361.1 490.9L361.3 492.0L361.5 487.5L361.7 491.9L361.8 487.7L362.0 488.6L362.2 486.1L362.4 488.0L362.5 491.8L362.7 490.1L362.9 487.0L363.1 488.6L363.2 484.1L363.4 489.2L363.6 483.9L363.8 485.7L363.9 483.5L364.1 482.1L364.3 487.5L364.5 484.2L364.6 481.6L364.8 481.7L365.0 484.3L365.2 482.1L365.3 480.7L365.5 480.8L365.7 478.2L365.9 475.4L366.0 477.2L366.2 480.8L366.4 479.6L366.6 475.5L366.7 474.3L366.9 477.7L367.1 476.9L367.3 480.4L367.4 471.9L367.6 474.5L367.8 475.1L368.0 471.8L368.1 472.0L368.3 469.4L368.5 474.4L368.7 471.4L368.8 474.1L369.0 471.5L369.2 472.7L369.4 475.1L369.5 474.4L369.7 471.3L369.9 475.1L370.1 474.4L370.2 480.6L370.4 475.6L370.6 483.0L370.8 479.7L370.9 479.5L371.1 476.3L371.3 481.6L371.5 485.2L371.6 485.7L371.8 485.4L372.0 486.6L372.2 489.5L372.3 488.7L372.5 490.7L372.7 494.7L372.9 494.7L373.0 495.7L373.2 499.9L373.4 500.8L373.6 500.7L373.7 502.6L373.9 502.6L374.1 504.0L374.3 506.1L374.4 505.6L374.6 507.4L374.8 507.7L375.0 507.0L375.1 510.3L375.3 511.4L375.5 510.6L375.7 511.9L375.8 512.3L376.0 512.1L376.2 512.7" fill="none" stroke="#40cce4" stroke-width="1.2" opacity="0.85" stroke-linejoin="round"/>
<text x="390.8" y="473.5" text-anchor="end" font-size="6.8">122.2&#177;3.9</text>
<rect x="395.2" y="466.5" width="50" height="47.1" fill="#fff" stroke="#8c8c8c" stroke-width="0.9"/>
<line x1="395.2" y1="513.6" x2="445.2" y2="513.6" stroke="#6a6a6a" stroke-width="1"/>
<line x1="399.2" y1="513.6" x2="399.2" y2="515.2" stroke="#888" stroke-width="0.7"/>
<text x="398.2" y="518.2" font-size="2.6" fill="#999" style="stroke:none" text-anchor="middle">10</text>
<line x1="405.2" y1="513.6" x2="405.2" y2="515.2" stroke="#888" stroke-width="0.7"/>
<text x="404.2" y="518.2" font-size="2.6" fill="#999" style="stroke:none" text-anchor="middle">10</text>
<line x1="417.7" y1="513.6" x2="417.7" y2="515.2" stroke="#888" stroke-width="0.7"/>
<text x="416.7" y="518.2" font-size="2.6" fill="#999" style="stroke:none" text-anchor="middle">10</text>
<line x1="427.7" y1="513.6" x2="427.7" y2="515.2" stroke="#888" stroke-width="0.7"/>
<text x="426.7" y="518.2" font-size="2.6" fill="#999" style="stroke:none" text-anchor="middle">10</text>
<line x1="437.7" y1="513.6" x2="437.7" y2="515.2" stroke="#888" stroke-width="0.7"/>
<text x="436.7" y="518.2" font-size="2.6" fill="#999" style="stroke:none" text-anchor="middle">10</text>
<path d="M395.8 502.7L396.0 501.7L396.1 500.5L396.3 499.0L396.5 497.5L396.7 495.9L396.8 494.3L397.0 492.7L397.2 491.1L397.4 489.5L397.5 487.9L397.7 486.4L397.9 485.0L398.1 483.7L398.2 482.3L398.4 481.0L398.6 479.7L398.8 478.4L398.9 477.2L399.1 475.9L399.3 474.6L399.5 473.5L399.6 472.6L399.8 472.2L400.0 472.2L400.2 472.8L400.3 473.9L400.5 475.4L400.7 476.9L400.9 478.5L401.0 480.2L401.2 481.8L401.4 483.3L401.6 484.8L401.7 486.1L401.9 487.2L402.1 488.3L402.3 489.3L402.4 490.3L402.6 491.3L402.8 492.3L403.0 493.2L403.1 494.2L403.3 495.2L403.5 496.1L403.7 497.1L403.8 498.0L404.0 498.9L404.2 499.8L404.4 500.7L404.5 501.5L404.7 502.3L404.9 503.1L405.1 503.9L405.2 504.7L405.4 505.5L405.6 506.3L405.8 507.1L405.9 507.9L406.1 508.7L406.3 509.5L406.5 510.3L406.6 511.0L406.8 511.7L407.0 512.2L407.2 512.5" fill="none" stroke="#d8445c" stroke-width="0.9" opacity="0.85"/>
<path d="M395.8 499.1L396.0 495.5L396.1 499.6L396.3 494.7L396.5 495.5L396.7 493.6L396.8 496.3L397.0 491.1L397.2 488.0L397.4 488.0L397.5 492.1L397.7 482.3L397.9 483.1L398.1 482.0L398.2 479.3L398.4 482.1L398.6 475.7L398.8 476.6L398.9 477.6L399.1 475.5L399.3 471.1L399.5 468.0L399.6 474.2L399.8 481.6L400.0 470.0L400.2 474.0L400.3 471.9L400.5 472.9L400.7 469.4L400.9 471.3L401.0 475.1L401.2 473.8L401.4 475.8L401.6 474.5L401.7 474.6L401.9 471.6L402.1 480.0L402.3 471.3L402.4 479.9L402.6 475.1L402.8 469.0L403.0 478.5L403.1 474.3L403.3 478.4L403.5 481.5L403.7 476.4L403.8 485.9L404.0 480.0L404.2 483.3L404.4 480.7L404.5 481.1L404.7 483.0L404.9 485.2L405.1 482.4L405.2 489.7L405.4 483.8L405.6 483.6L405.8 489.0L405.9 487.2L406.1 486.9L406.3 484.9L406.5 488.5L406.6 490.0L406.8 490.8L407.0 492.7L407.2 495.4L407.3 487.4L407.5 488.3L407.7 489.6L407.9 493.2L408.0 489.9L408.2 489.5L408.4 493.4L408.6 492.5L408.7 497.1L408.9 493.6L409.1 490.7L409.3 492.4L409.4 493.0L409.6 494.3L409.8 497.3L410.0 498.8L410.1 498.4L410.3 497.4L410.5 498.2L410.7 496.3L410.8 501.1L411.0 497.2L411.2 502.1L411.4 499.7L411.5 500.3L411.7 498.6L411.9 501.5L412.1 501.7L412.2 501.4L412.4 503.6L412.6 500.9L412.8 504.1L412.9 504.1L413.1 502.9L413.3 504.8L413.5 505.9L413.6 504.7L413.8 505.7L414.0 507.5L414.2 505.5L414.3 508.6L414.5 506.5L414.7 507.3L414.9 508.7L415.0 509.3L415.2 508.5L415.4 511.5L415.6 511.0L415.7 508.5L415.9 510.6L416.1 509.6L416.3 509.6L416.4 511.3L416.6 509.8L416.8 512.0L417.0 511.1L417.1 511.4L417.3 512.8L417.5 510.8L417.7 512.7L417.8 512.6L418.0 511.8L418.2 512.9" fill="none" stroke="#40cce4" stroke-width="1.2" opacity="0.85" stroke-linejoin="round"/>
<text x="444" y="473.5" text-anchor="end" font-size="6.8">22.1&#177;3.3</text>
<rect x="447.9" y="466.5" width="51.7" height="47.1" fill="#fff" stroke="#8c8c8c" stroke-width="0.9"/>
<line x1="447.9" y1="513.6" x2="499.6" y2="513.6" stroke="#6a6a6a" stroke-width="1"/>
<line x1="452.04" y1="513.6" x2="452.04" y2="515.2" stroke="#888" stroke-width="0.7"/>
<text x="451.04" y="518.2" font-size="2.6" fill="#999" style="stroke:none" text-anchor="middle">10</text>
<line x1="458.24" y1="513.6" x2="458.24" y2="515.2" stroke="#888" stroke-width="0.7"/>
<text x="457.24" y="518.2" font-size="2.6" fill="#999" style="stroke:none" text-anchor="middle">10</text>
<line x1="471.17" y1="513.6" x2="471.17" y2="515.2" stroke="#888" stroke-width="0.7"/>
<text x="470.17" y="518.2" font-size="2.6" fill="#999" style="stroke:none" text-anchor="middle">10</text>
<line x1="481.5" y1="513.6" x2="481.5" y2="515.2" stroke="#888" stroke-width="0.7"/>
<text x="480.5" y="518.2" font-size="2.6" fill="#999" style="stroke:none" text-anchor="middle">10</text>
<line x1="491.85" y1="513.6" x2="491.85" y2="515.2" stroke="#888" stroke-width="0.7"/>
<text x="490.85" y="518.2" font-size="2.6" fill="#999" style="stroke:none" text-anchor="middle">10</text>
<path d="M448.5 507.4L448.7 506.6L448.9 505.5L449.0 504.3L449.2 503.0L449.4 501.7L449.6 500.4L449.8 499.0L449.9 497.7L450.1 496.3L450.3 495.0L450.5 493.7L450.7 492.3L450.9 491.0L451.0 489.7L451.2 488.3L451.4 487.1L451.6 485.8L451.8 484.6L451.9 483.4L452.1 482.3L452.3 481.2L452.5 480.0L452.7 478.9L452.8 477.8L453.0 476.7L453.2 475.5L453.4 474.5L453.6 473.5L453.7 472.6L453.9 472.1L454.1 472.0L454.3 472.3L454.5 472.9L454.7 473.8L454.8 474.7L455.0 475.7L455.2 476.8L455.4 477.8L455.6 478.8L455.7 479.9L455.9 480.9L456.1 481.9L456.3 483.0L456.5 484.0L456.6 485.0L456.8 486.1L457.0 487.1L457.2 488.2L457.4 489.2L457.6 490.2L457.7 491.3L457.9 492.4L458.1 493.4L458.3 494.5L458.5 495.6L458.6 496.7L458.8 497.7L459.0 498.8L459.2 499.9L459.4 500.9L459.5 502.0L459.7 503.1L459.9 504.2L460.1 505.2L460.3 506.2L460.4 507.1L460.6 507.9L460.8 508.6L461.0 509.1L461.2 509.6L461.4 510.0L461.5 510.4L461.7 510.8L461.9 511.2L462.1 511.6L462.3 512.0L462.4 512.3L462.6 512.6" fill="none" stroke="#d8445c" stroke-width="0.9" opacity="0.85"/>
<path d="M448.5 511.6L448.7 510.3L448.9 509.6L449.0 508.2L449.2 508.5L449.4 505.6L449.6 502.9L449.8 506.7L449.9 501.7L450.1 502.6L450.3 499.1L450.5 500.7L450.7 494.4L450.9 496.1L451.0 497.3L451.2 495.7L451.4 492.9L451.6 488.2L451.8 487.8L451.9 482.6L452.1 487.5L452.3 485.0L452.5 480.7L452.7 470.2L452.8 479.0L453.0 472.9L453.2 470.0L453.4 481.8L453.6 475.0L453.7 470.9L453.9 472.0L454.1 468.0L454.3 468.8L454.5 478.0L454.7 478.3L454.8 478.6L455.0 491.8L455.2 487.1L455.4 479.9L455.6 483.1L455.7 489.2L455.9 486.3L456.1 485.9L456.3 487.9L456.5 481.7L456.6 487.1L456.8 496.5L457.0 484.8L457.2 483.6L457.4 482.4L457.6 486.5L457.7 488.4L457.9 483.7L458.1 486.9L458.3 489.7L458.5 486.7L458.6 491.7L458.8 486.9L459.0 493.3L459.2 487.0L459.4 478.5L459.5 489.7L459.7 488.8L459.9 488.3L460.1 486.2L460.3 494.0L460.4 493.3L460.6 492.6L460.8 494.0L461.0 497.7L461.2 490.1L461.4 490.7L461.5 488.5L461.7 492.8L461.9 497.2L462.1 497.8L462.3 496.3L462.4 499.5L462.6 496.2L462.8 492.6L463.0 494.9L463.2 496.4L463.3 498.2L463.5 492.4L463.7 497.0L463.9 495.9L464.1 489.0L464.2 500.8L464.4 496.1L464.6 497.6L464.8 501.7L465.0 500.2L465.2 502.1L465.3 502.8L465.5 498.3L465.7 502.6L465.9 507.1L466.1 498.7L466.2 501.5L466.4 504.7L466.6 504.1L466.8 502.1L467.0 504.6L467.1 503.4L467.3 501.5L467.5 504.4L467.7 503.7L467.9 504.5L468.0 505.2L468.2 507.6L468.4 503.9L468.6 507.9L468.8 506.8L469.0 510.1L469.1 507.8L469.3 507.5L469.5 509.7L469.7 509.7L469.9 506.3L470.0 507.9L470.2 510.6L470.4 508.7L470.6 510.1L470.8 509.4L470.9 511.3L471.1 510.4L471.3 510.4L471.5 511.3L471.7 511.8L471.8 509.8L472.0 511.9L472.2 510.8L472.4 512.1L472.6 512.5L472.8 511.9L472.9 512.9L473.1 512.7L473.3 512.3L473.5 512.9" fill="none" stroke="#40cce4" stroke-width="1.2" opacity="0.85" stroke-linejoin="round"/>
<text x="498.4" y="473.5" text-anchor="end" font-size="6.8">23.0&#177;1.7</text>
<line x1="5.4" y1="523" x2="520" y2="523" stroke="#d06068" stroke-width="2"/>
<text x="258.5" y="530.6" text-anchor="middle" fill="#c8323c" style="stroke:#c8323c" font-size="8.8">CD206</text>
<text x="2.3" y="558" font-weight="bold" fill="#000" style="stroke:#000" font-size="13">F</text>
<text x="406" y="559" font-weight="bold" fill="#000" style="stroke:#000" font-size="13.4">G</text>
<line x1="18.8" y1="631.2" x2="18.8" y2="575.4" stroke="#333333" stroke-width="1"/>
<line x1="16.8" y1="630.7" x2="18.8" y2="630.7" stroke="#333333" stroke-width="1"/>
<text x="16" y="633.87" text-anchor="end" font-size="8.8">0</text>
<line x1="16.8" y1="617" x2="18.8" y2="617" stroke="#333333" stroke-width="1"/>
<text x="16" y="620.17" text-anchor="end" font-size="8.8">1</text>
<line x1="16.8" y1="603.3" x2="18.8" y2="603.3" stroke="#333333" stroke-width="1"/>
<text x="16" y="606.47" text-anchor="end" font-size="8.8">2</text>
<line x1="16.8" y1="589.6" x2="18.8" y2="589.6" stroke="#333333" stroke-width="1"/>
<text x="16" y="592.77" text-anchor="end" font-size="8.8">3</text>
<line x1="16.8" y1="575.9" x2="18.8" y2="575.9" stroke="#333333" stroke-width="1"/>
<text x="16" y="579.07" text-anchor="end" font-size="8.8">4</text>
<rect x="20.8" y="628.65" width="6.8" height="2.05" fill="#b2aab6"/>
<line x1="24.2" y1="628.23" x2="24.2" y2="629.15" stroke="#222" stroke-width="1"/>
<line x1="22.3" y1="628.23" x2="26.1" y2="628.23" stroke="#222" stroke-width="1"/>
<rect x="29.95" y="615.22" width="6.8" height="15.48" fill="#18ee18"/>
<line x1="33.35" y1="612.48" x2="33.35" y2="615.72" stroke="#222" stroke-width="1"/>
<line x1="31.45" y1="612.48" x2="35.25" y2="612.48" stroke="#222" stroke-width="1"/>
<rect x="39.1" y="615.36" width="6.8" height="15.34" fill="#18ee18"/>
<line x1="42.5" y1="614.53" x2="42.5" y2="615.86" stroke="#222" stroke-width="1"/>
<line x1="40.6" y1="614.53" x2="44.4" y2="614.53" stroke="#222" stroke-width="1"/>
<rect x="48.25" y="623.85" width="6.8" height="6.85" fill="#18ee18"/>
<line x1="51.65" y1="622.62" x2="51.65" y2="624.35" stroke="#222" stroke-width="1"/>
<line x1="49.75" y1="622.62" x2="53.55" y2="622.62" stroke="#222" stroke-width="1"/>
<rect x="57.4" y="623.85" width="6.8" height="6.85" fill="#18ee18"/>
<line x1="60.8" y1="621.25" x2="60.8" y2="624.35" stroke="#222" stroke-width="1"/>
<line x1="58.9" y1="621.25" x2="62.7" y2="621.25" stroke="#222" stroke-width="1"/>
<rect x="66.55" y="595.35" width="6.8" height="35.35" fill="#0a0af0"/>
<line x1="69.95" y1="593.44" x2="69.95" y2="595.85" stroke="#222" stroke-width="1"/>
<line x1="68.05" y1="593.44" x2="71.85" y2="593.44" stroke="#222" stroke-width="1"/>
<rect x="75.7" y="594.39" width="6.8" height="36.31" fill="#0a0af0"/>
<line x1="79.1" y1="592.07" x2="79.1" y2="594.89" stroke="#222" stroke-width="1"/>
<line x1="77.2" y1="592.07" x2="81" y2="592.07" stroke="#222" stroke-width="1"/>
<rect x="84.85" y="619.06" width="6.8" height="11.64" fill="#0a0af0"/>
<line x1="88.25" y1="618.37" x2="88.25" y2="619.56" stroke="#222" stroke-width="1"/>
<line x1="86.35" y1="618.37" x2="90.15" y2="618.37" stroke="#222" stroke-width="1"/>
<rect x="94" y="621.11" width="6.8" height="9.59" fill="#0a0af0"/>
<line x1="97.4" y1="617.69" x2="97.4" y2="621.61" stroke="#222" stroke-width="1"/>
<line x1="95.5" y1="617.69" x2="99.3" y2="617.69" stroke="#222" stroke-width="1"/>
<line x1="18.8" y1="630.7" x2="101.6" y2="630.7" stroke="#333333" stroke-width="1.1"/>
<text x="60" y="560" text-anchor="middle">CCL17</text>
<line x1="32" y1="571.5" x2="59.9" y2="571.5" stroke="#2a2a2a" stroke-width="1.1"/>
<line x1="32" y1="578.9" x2="49.5" y2="578.9" stroke="#2a2a2a" stroke-width="1.1"/>
<line x1="51.6" y1="579.2" x2="60.3" y2="579.2" stroke="#555" stroke-width="0.9"/>
<text x="46.5" y="573.7" text-anchor="middle" font-size="8.5" letter-spacing="0.6" style="stroke-width:0.5px">**</text>
<text x="41.9" y="581.4" text-anchor="middle" font-size="8.5" letter-spacing="0.6" style="stroke-width:0.5px">**</text>
<text x="50.8" y="578.2" font-size="5.6" style="stroke-width:0.15px">N.S.</text>
<line x1="70.2" y1="571.5" x2="98.5" y2="571.5" stroke="#2a2a2a" stroke-width="1.1"/>
<line x1="70.2" y1="578.9" x2="88" y2="578.9" stroke="#2a2a2a" stroke-width="1.1"/>
<line x1="89.9" y1="579.2" x2="97.8" y2="579.2" stroke="#555" stroke-width="0.9"/>
<text x="84.9" y="573.7" text-anchor="middle" font-size="8.5" letter-spacing="0.6" style="stroke-width:0.5px">***</text>
<text x="80.6" y="581.4" text-anchor="middle" font-size="8.5" letter-spacing="0.6" style="stroke-width:0.5px">***</text>
<text x="89.1" y="578.2" font-size="5.6" style="stroke-width:0.15px">N.S.</text>
<text x="26.2" y="638.2" text-anchor="end" font-size="7" transform="rotate(-45 26.2 638.2)">Control</text>
<text x="35.35" y="638.2" text-anchor="end" font-size="7" transform="rotate(-45 35.35 638.2)">(-)</text>
<text x="44.5" y="638.2" text-anchor="end" font-size="7" transform="rotate(-45 44.5 638.2)">&#945;-VEGF</text>
<text x="53.65" y="638.2" text-anchor="end" font-size="7" transform="rotate(-45 53.65 638.2)">&#945;-GM-CSF</text>
<text x="62.8" y="638.2" text-anchor="end" font-size="7" transform="rotate(-45 62.8 638.2)">&#945;-VEGF+&#945;-GM-CSF</text>
<text x="71.95" y="638.2" text-anchor="end" font-size="7" transform="rotate(-45 71.95 638.2)">(-)</text>
<text x="81.1" y="638.2" text-anchor="end" font-size="7" transform="rotate(-45 81.1 638.2)">&#945;-VEGF</text>
<text x="90.25" y="638.2" text-anchor="end" font-size="7" transform="rotate(-45 90.25 638.2)">&#945;-GM-CSF</text>
<text x="99.4" y="638.2" text-anchor="end" font-size="7" transform="rotate(-45 99.4 638.2)">&#945;-VEGF+&#945;-GM-CSF</text>
<line x1="28.85" y1="683" x2="63.1" y2="683" stroke="#222" stroke-width="1.1"/>
<line x1="66.75" y1="683" x2="101.6" y2="683" stroke="#222" stroke-width="1.1"/>
<text x="47.08" y="691.9" text-anchor="middle" font-size="8.7">EBV<tspan dy="-3.5" font-size="6.5">+</tspan></text>
<text x="47.08" y="700.6" text-anchor="middle" font-size="8.7">CNE2</text>
<text x="84.88" y="691.9" text-anchor="middle" font-size="8.7">CSE-EBV<tspan dy="-3.5" font-size="6.5">+</tspan></text>
<text x="84.88" y="700.6" text-anchor="middle" font-size="8.7">CNE2</text>
<text x="7.4" y="604.5" text-anchor="middle" font-size="8.8" transform="rotate(-90 7.4 604.5)">(ng/mL)</text>
<line x1="112.5" y1="630.8" x2="112.5" y2="575" stroke="#333333" stroke-width="1"/>
<line x1="110.5" y1="630.3" x2="112.5" y2="630.3" stroke="#333333" stroke-width="1"/>
<text x="109.7" y="633.47" text-anchor="end" font-size="8.8">0</text>
<line x1="110.5" y1="612.03" x2="112.5" y2="612.03" stroke="#333333" stroke-width="1"/>
<text x="109.7" y="615.2" text-anchor="end" font-size="8.8">2</text>
<line x1="110.5" y1="593.77" x2="112.5" y2="593.77" stroke="#333333" stroke-width="1"/>
<text x="109.7" y="596.93" text-anchor="end" font-size="8.8">4</text>
<line x1="110.5" y1="575.5" x2="112.5" y2="575.5" stroke="#333333" stroke-width="1"/>
<text x="109.7" y="578.67" text-anchor="end" font-size="8.8">6</text>
<rect x="114.5" y="628.93" width="6.8" height="1.37" fill="#b2aab6"/>
<line x1="117.9" y1="628.47" x2="117.9" y2="629.43" stroke="#222" stroke-width="1"/>
<line x1="116" y1="628.47" x2="119.8" y2="628.47" stroke="#222" stroke-width="1"/>
<rect x="123.65" y="609.29" width="6.8" height="21.01" fill="#18ee18"/>
<line x1="127.05" y1="607.47" x2="127.05" y2="609.79" stroke="#222" stroke-width="1"/>
<line x1="125.15" y1="607.47" x2="128.95" y2="607.47" stroke="#222" stroke-width="1"/>
<rect x="132.8" y="611.12" width="6.8" height="19.18" fill="#18ee18"/>
<line x1="136.2" y1="609.29" x2="136.2" y2="611.62" stroke="#222" stroke-width="1"/>
<line x1="134.3" y1="609.29" x2="138.1" y2="609.29" stroke="#222" stroke-width="1"/>
<rect x="141.95" y="622.17" width="6.8" height="8.13" fill="#18ee18"/>
<line x1="145.35" y1="620.71" x2="145.35" y2="622.67" stroke="#222" stroke-width="1"/>
<line x1="143.45" y1="620.71" x2="147.25" y2="620.71" stroke="#222" stroke-width="1"/>
<rect x="151.1" y="622.54" width="6.8" height="7.76" fill="#18ee18"/>
<line x1="154.5" y1="621.17" x2="154.5" y2="623.04" stroke="#222" stroke-width="1"/>
<line x1="152.6" y1="621.17" x2="156.4" y2="621.17" stroke="#222" stroke-width="1"/>
<rect x="160.25" y="587.83" width="6.8" height="42.47" fill="#0a0af0"/>
<line x1="163.65" y1="579.15" x2="163.65" y2="588.33" stroke="#222" stroke-width="1"/>
<line x1="161.75" y1="579.15" x2="165.55" y2="579.15" stroke="#222" stroke-width="1"/>
<rect x="169.4" y="589.66" width="6.8" height="40.64" fill="#0a0af0"/>
<line x1="172.8" y1="583.72" x2="172.8" y2="590.16" stroke="#222" stroke-width="1"/>
<line x1="170.9" y1="583.72" x2="174.7" y2="583.72" stroke="#222" stroke-width="1"/>
<rect x="178.55" y="619.8" width="6.8" height="10.5" fill="#0a0af0"/>
<line x1="181.95" y1="617.51" x2="181.95" y2="620.3" stroke="#222" stroke-width="1"/>
<line x1="180.05" y1="617.51" x2="183.85" y2="617.51" stroke="#222" stroke-width="1"/>
<rect x="187.7" y="620.25" width="6.8" height="10.05" fill="#0a0af0"/>
<line x1="191.1" y1="618.43" x2="191.1" y2="620.75" stroke="#222" stroke-width="1"/>
<line x1="189.2" y1="618.43" x2="193" y2="618.43" stroke="#222" stroke-width="1"/>
<line x1="112.5" y1="630.3" x2="195.3" y2="630.3" stroke="#333333" stroke-width="1.1"/>
<text x="158" y="560" text-anchor="middle">CCL18</text>
<line x1="123.4" y1="571.5" x2="151.8" y2="571.5" stroke="#2a2a2a" stroke-width="1.1"/>
<line x1="123.4" y1="578.9" x2="142.6" y2="578.9" stroke="#2a2a2a" stroke-width="1.1"/>
<line x1="145.9" y1="579.2" x2="153.7" y2="579.2" stroke="#555" stroke-width="0.9"/>
<text x="139.1" y="573.7" text-anchor="middle" font-size="8.5" letter-spacing="0.6" style="stroke-width:0.5px">**</text>
<text x="133.7" y="581.4" text-anchor="middle" font-size="8.5" letter-spacing="0.6" style="stroke-width:0.5px">**</text>
<text x="145.1" y="578.2" font-size="5.6" style="stroke-width:0.15px">N.S.</text>
<line x1="164.2" y1="571.5" x2="193.1" y2="571.5" stroke="#2a2a2a" stroke-width="1.1"/>
<line x1="164.2" y1="578.9" x2="183.4" y2="578.9" stroke="#2a2a2a" stroke-width="1.1"/>
<line x1="185" y1="579.2" x2="192.2" y2="579.2" stroke="#555" stroke-width="0.9"/>
<text x="178.3" y="573.7" text-anchor="middle" font-size="8.5" letter-spacing="0.6" style="stroke-width:0.5px">***</text>
<text x="173.7" y="581.4" text-anchor="middle" font-size="8.5" letter-spacing="0.6" style="stroke-width:0.5px">***</text>
<text x="184.2" y="578.2" font-size="5.6" style="stroke-width:0.15px">N.S.</text>
<text x="119.9" y="637.8" text-anchor="end" font-size="7" transform="rotate(-45 119.9 637.8)">Control</text>
<text x="129.05" y="637.8" text-anchor="end" font-size="7" transform="rotate(-45 129.05 637.8)">(-)</text>
<text x="138.2" y="637.8" text-anchor="end" font-size="7" transform="rotate(-45 138.2 637.8)">&#945;-VEGF</text>
<text x="147.35" y="637.8" text-anchor="end" font-size="7" transform="rotate(-45 147.35 637.8)">&#945;-GM-CSF</text>
<text x="156.5" y="637.8" text-anchor="end" font-size="7" transform="rotate(-45 156.5 637.8)">&#945;-VEGF+&#945;-GM-CSF</text>
<text x="165.65" y="637.8" text-anchor="end" font-size="7" transform="rotate(-45 165.65 637.8)">(-)</text>
<text x="174.8" y="637.8" text-anchor="end" font-size="7" transform="rotate(-45 174.8 637.8)">&#945;-VEGF</text>
<text x="183.95" y="637.8" text-anchor="end" font-size="7" transform="rotate(-45 183.95 637.8)">&#945;-GM-CSF</text>
<text x="193.1" y="637.8" text-anchor="end" font-size="7" transform="rotate(-45 193.1 637.8)">&#945;-VEGF+&#945;-GM-CSF</text>
<line x1="122.55" y1="683" x2="156.8" y2="683" stroke="#222" stroke-width="1.1"/>
<line x1="160.45" y1="683" x2="195.3" y2="683" stroke="#222" stroke-width="1.1"/>
<text x="140.78" y="691.9" text-anchor="middle" font-size="8.7">EBV<tspan dy="-3.5" font-size="6.5">+</tspan></text>
<text x="140.78" y="700.6" text-anchor="middle" font-size="8.7">CNE2</text>
<text x="178.57" y="691.9" text-anchor="middle" font-size="8.7">CSE-EBV<tspan dy="-3.5" font-size="6.5">+</tspan></text>
<text x="178.57" y="700.6" text-anchor="middle" font-size="8.7">CNE2</text>
<line x1="214.9" y1="629.8" x2="214.9" y2="573.6" stroke="#333333" stroke-width="1"/>
<line x1="212.9" y1="629.3" x2="214.9" y2="629.3" stroke="#333333" stroke-width="1"/>
<text x="212.1" y="632.47" text-anchor="end" font-size="8.8">0.0</text>
<line x1="212.9" y1="615.5" x2="214.9" y2="615.5" stroke="#333333" stroke-width="1"/>
<text x="212.1" y="618.67" text-anchor="end" font-size="8.8">0.5</text>
<line x1="212.9" y1="601.7" x2="214.9" y2="601.7" stroke="#333333" stroke-width="1"/>
<text x="212.1" y="604.87" text-anchor="end" font-size="8.8">1.0</text>
<line x1="212.9" y1="587.9" x2="214.9" y2="587.9" stroke="#333333" stroke-width="1"/>
<text x="212.1" y="591.07" text-anchor="end" font-size="8.8">1.5</text>
<line x1="212.9" y1="574.1" x2="214.9" y2="574.1" stroke="#333333" stroke-width="1"/>
<text x="212.1" y="577.27" text-anchor="end" font-size="8.8">2.0</text>
<rect x="216.9" y="624.33" width="6.8" height="4.97" fill="#b2aab6"/>
<line x1="220.3" y1="621.3" x2="220.3" y2="624.83" stroke="#222" stroke-width="1"/>
<line x1="218.4" y1="621.3" x2="222.2" y2="621.3" stroke="#222" stroke-width="1"/>
<rect x="226.05" y="605.01" width="6.8" height="24.29" fill="#18ee18"/>
<line x1="229.45" y1="603.63" x2="229.45" y2="605.51" stroke="#222" stroke-width="1"/>
<line x1="227.55" y1="603.63" x2="231.35" y2="603.63" stroke="#222" stroke-width="1"/>
<rect x="235.2" y="604.46" width="6.8" height="24.84" fill="#18ee18"/>
<line x1="238.6" y1="600.87" x2="238.6" y2="604.96" stroke="#222" stroke-width="1"/>
<line x1="236.7" y1="600.87" x2="240.5" y2="600.87" stroke="#222" stroke-width="1"/>
<rect x="244.35" y="623.23" width="6.8" height="6.07" fill="#18ee18"/>
<line x1="247.75" y1="622.95" x2="247.75" y2="623.73" stroke="#222" stroke-width="1"/>
<line x1="245.85" y1="622.95" x2="249.65" y2="622.95" stroke="#222" stroke-width="1"/>
<rect x="253.5" y="621.85" width="6.8" height="7.45" fill="#18ee18"/>
<line x1="256.9" y1="621.3" x2="256.9" y2="622.35" stroke="#222" stroke-width="1"/>
<line x1="255" y1="621.3" x2="258.8" y2="621.3" stroke="#222" stroke-width="1"/>
<rect x="262.65" y="593.42" width="6.8" height="35.88" fill="#0a0af0"/>
<line x1="266.05" y1="589.83" x2="266.05" y2="593.92" stroke="#222" stroke-width="1"/>
<line x1="264.15" y1="589.83" x2="267.95" y2="589.83" stroke="#222" stroke-width="1"/>
<rect x="271.8" y="591.49" width="6.8" height="37.81" fill="#0a0af0"/>
<line x1="275.2" y1="587.07" x2="275.2" y2="591.99" stroke="#222" stroke-width="1"/>
<line x1="273.3" y1="587.07" x2="277.1" y2="587.07" stroke="#222" stroke-width="1"/>
<rect x="280.95" y="622.4" width="6.8" height="6.9" fill="#0a0af0"/>
<line x1="284.35" y1="621.02" x2="284.35" y2="622.9" stroke="#222" stroke-width="1"/>
<line x1="282.45" y1="621.02" x2="286.25" y2="621.02" stroke="#222" stroke-width="1"/>
<rect x="290.1" y="622.95" width="6.8" height="6.35" fill="#0a0af0"/>
<line x1="293.5" y1="621.02" x2="293.5" y2="623.45" stroke="#222" stroke-width="1"/>
<line x1="291.6" y1="621.02" x2="295.4" y2="621.02" stroke="#222" stroke-width="1"/>
<line x1="214.9" y1="629.3" x2="297.7" y2="629.3" stroke="#333333" stroke-width="1.1"/>
<text x="258.8" y="560" text-anchor="middle">CCL22</text>
<line x1="226.9" y1="571.5" x2="257.7" y2="571.5" stroke="#2a2a2a" stroke-width="1.1"/>
<line x1="226.9" y1="578.9" x2="246.5" y2="578.9" stroke="#2a2a2a" stroke-width="1.1"/>
<line x1="248.2" y1="579.2" x2="256" y2="579.2" stroke="#555" stroke-width="0.9"/>
<text x="241.1" y="573.7" text-anchor="middle" font-size="8.5" letter-spacing="0.6" style="stroke-width:0.5px">**</text>
<text x="239.5" y="581.4" text-anchor="middle" font-size="8.5" letter-spacing="0.6" style="stroke-width:0.5px">**</text>
<text x="247.4" y="578.2" font-size="5.6" style="stroke-width:0.15px">N.S.</text>
<line x1="266.2" y1="571.5" x2="295.4" y2="571.5" stroke="#2a2a2a" stroke-width="1.1"/>
<line x1="266.2" y1="578.9" x2="283.1" y2="578.9" stroke="#2a2a2a" stroke-width="1.1"/>
<line x1="286.7" y1="579.2" x2="294.5" y2="579.2" stroke="#555" stroke-width="0.9"/>
<text x="281.1" y="573.7" text-anchor="middle" font-size="8.5" letter-spacing="0.6" style="stroke-width:0.5px">***</text>
<text x="276.5" y="581.4" text-anchor="middle" font-size="8.5" letter-spacing="0.6" style="stroke-width:0.5px">***</text>
<text x="285.9" y="578.2" font-size="5.6" style="stroke-width:0.15px">N.S.</text>
<text x="222.3" y="636.8" text-anchor="end" font-size="7" transform="rotate(-45 222.3 636.8)">Control</text>
<text x="231.45" y="636.8" text-anchor="end" font-size="7" transform="rotate(-45 231.45 636.8)">(-)</text>
<text x="240.6" y="636.8" text-anchor="end" font-size="7" transform="rotate(-45 240.6 636.8)">&#945;-VEGF</text>
<text x="249.75" y="636.8" text-anchor="end" font-size="7" transform="rotate(-45 249.75 636.8)">&#945;-GM-CSF</text>
<text x="258.9" y="636.8" text-anchor="end" font-size="7" transform="rotate(-45 258.9 636.8)">&#945;-VEGF+&#945;-GM-CSF</text>
<text x="268.05" y="636.8" text-anchor="end" font-size="7" transform="rotate(-45 268.05 636.8)">(-)</text>
<text x="277.2" y="636.8" text-anchor="end" font-size="7" transform="rotate(-45 277.2 636.8)">&#945;-VEGF</text>
<text x="286.35" y="636.8" text-anchor="end" font-size="7" transform="rotate(-45 286.35 636.8)">&#945;-GM-CSF</text>
<text x="295.5" y="636.8" text-anchor="end" font-size="7" transform="rotate(-45 295.5 636.8)">&#945;-VEGF+&#945;-GM-CSF</text>
<line x1="224.95" y1="683" x2="259.2" y2="683" stroke="#222" stroke-width="1.1"/>
<line x1="262.85" y1="683" x2="297.7" y2="683" stroke="#222" stroke-width="1.1"/>
<text x="243.18" y="691.9" text-anchor="middle" font-size="8.7">EBV<tspan dy="-3.5" font-size="6.5">+</tspan></text>
<text x="243.18" y="700.6" text-anchor="middle" font-size="8.7">CNE2</text>
<text x="280.97" y="691.9" text-anchor="middle" font-size="8.7">CSE-EBV<tspan dy="-3.5" font-size="6.5">+</tspan></text>
<text x="280.97" y="700.6" text-anchor="middle" font-size="8.7">CNE2</text>
<line x1="313.1" y1="629.1" x2="313.1" y2="572.7" stroke="#333333" stroke-width="1"/>
<line x1="311.1" y1="628.6" x2="313.1" y2="628.6" stroke="#333333" stroke-width="1"/>
<text x="310.3" y="631.77" text-anchor="end" font-size="8.8">0</text>
<line x1="311.1" y1="614.75" x2="313.1" y2="614.75" stroke="#333333" stroke-width="1"/>
<text x="310.3" y="617.92" text-anchor="end" font-size="8.8">1</text>
<line x1="311.1" y1="600.9" x2="313.1" y2="600.9" stroke="#333333" stroke-width="1"/>
<text x="310.3" y="604.07" text-anchor="end" font-size="8.8">2</text>
<line x1="311.1" y1="587.05" x2="313.1" y2="587.05" stroke="#333333" stroke-width="1"/>
<text x="310.3" y="590.22" text-anchor="end" font-size="8.8">3</text>
<line x1="311.1" y1="573.2" x2="313.1" y2="573.2" stroke="#333333" stroke-width="1"/>
<text x="310.3" y="576.37" text-anchor="end" font-size="8.8">4</text>
<rect x="315.1" y="626.11" width="6.8" height="2.49" fill="#b2aab6"/>
<line x1="318.5" y1="625.83" x2="318.5" y2="626.61" stroke="#222" stroke-width="1"/>
<line x1="316.6" y1="625.83" x2="320.4" y2="625.83" stroke="#222" stroke-width="1"/>
<rect x="324.25" y="613.09" width="6.8" height="15.51" fill="#18ee18"/>
<line x1="327.65" y1="610.04" x2="327.65" y2="613.59" stroke="#222" stroke-width="1"/>
<line x1="325.75" y1="610.04" x2="329.55" y2="610.04" stroke="#222" stroke-width="1"/>
<rect x="333.4" y="614.47" width="6.8" height="14.13" fill="#18ee18"/>
<line x1="336.8" y1="611.43" x2="336.8" y2="614.97" stroke="#222" stroke-width="1"/>
<line x1="334.9" y1="611.43" x2="338.7" y2="611.43" stroke="#222" stroke-width="1"/>
<rect x="342.55" y="622.23" width="6.8" height="6.37" fill="#18ee18"/>
<line x1="345.95" y1="620.29" x2="345.95" y2="622.73" stroke="#222" stroke-width="1"/>
<line x1="344.05" y1="620.29" x2="347.85" y2="620.29" stroke="#222" stroke-width="1"/>
<rect x="351.7" y="623.34" width="6.8" height="5.26" fill="#18ee18"/>
<line x1="355.1" y1="622.23" x2="355.1" y2="623.84" stroke="#222" stroke-width="1"/>
<line x1="353.2" y1="622.23" x2="357" y2="622.23" stroke="#222" stroke-width="1"/>
<rect x="360.85" y="594.67" width="6.8" height="33.93" fill="#0a0af0"/>
<line x1="364.25" y1="587.05" x2="364.25" y2="595.17" stroke="#222" stroke-width="1"/>
<line x1="362.35" y1="587.05" x2="366.15" y2="587.05" stroke="#222" stroke-width="1"/>
<rect x="370" y="596.05" width="6.8" height="32.55" fill="#0a0af0"/>
<line x1="373.4" y1="589.82" x2="373.4" y2="596.55" stroke="#222" stroke-width="1"/>
<line x1="371.5" y1="589.82" x2="375.3" y2="589.82" stroke="#222" stroke-width="1"/>
<rect x="379.15" y="616.13" width="6.8" height="12.47" fill="#0a0af0"/>
<line x1="382.55" y1="611.98" x2="382.55" y2="616.63" stroke="#222" stroke-width="1"/>
<line x1="380.65" y1="611.98" x2="384.45" y2="611.98" stroke="#222" stroke-width="1"/>
<rect x="388.3" y="618.9" width="6.8" height="9.7" fill="#0a0af0"/>
<line x1="391.7" y1="615.86" x2="391.7" y2="619.4" stroke="#222" stroke-width="1"/>
<line x1="389.8" y1="615.86" x2="393.6" y2="615.86" stroke="#222" stroke-width="1"/>
<line x1="313.1" y1="628.6" x2="395.9" y2="628.6" stroke="#333333" stroke-width="1.1"/>
<text x="354.5" y="560" text-anchor="middle">IL10</text>
<line x1="324.9" y1="571.5" x2="354.9" y2="571.5" stroke="#2a2a2a" stroke-width="1.1"/>
<line x1="324.9" y1="578.9" x2="343.4" y2="578.9" stroke="#2a2a2a" stroke-width="1.1"/>
<line x1="345.9" y1="579.2" x2="353.7" y2="579.2" stroke="#555" stroke-width="0.9"/>
<text x="338.3" y="573.7" text-anchor="middle" font-size="8.5" letter-spacing="0.6" style="stroke-width:0.5px">**</text>
<text x="336.8" y="581.4" text-anchor="middle" font-size="8.5" letter-spacing="0.6" style="stroke-width:0.5px">**</text>
<text x="345.1" y="578.2" font-size="5.6" style="stroke-width:0.15px">N.S.</text>
<line x1="364.2" y1="571.5" x2="393.4" y2="571.5" stroke="#2a2a2a" stroke-width="1.1"/>
<line x1="364.2" y1="578.9" x2="381.8" y2="578.9" stroke="#2a2a2a" stroke-width="1.1"/>
<line x1="384.7" y1="579.2" x2="393" y2="579.2" stroke="#555" stroke-width="0.9"/>
<text x="379.1" y="573.7" text-anchor="middle" font-size="8.5" letter-spacing="0.6" style="stroke-width:0.5px">***</text>
<text x="374.5" y="581.4" text-anchor="middle" font-size="8.5" letter-spacing="0.6" style="stroke-width:0.5px">***</text>
<text x="383.9" y="578.2" font-size="5.6" style="stroke-width:0.15px">N.S.</text>
<text x="320.5" y="636.1" text-anchor="end" font-size="7" transform="rotate(-45 320.5 636.1)">Control</text>
<text x="329.65" y="636.1" text-anchor="end" font-size="7" transform="rotate(-45 329.65 636.1)">(-)</text>
<text x="338.8" y="636.1" text-anchor="end" font-size="7" transform="rotate(-45 338.8 636.1)">&#945;-VEGF</text>
<text x="347.95" y="636.1" text-anchor="end" font-size="7" transform="rotate(-45 347.95 636.1)">&#945;-GM-CSF</text>
<text x="357.1" y="636.1" text-anchor="end" font-size="7" transform="rotate(-45 357.1 636.1)">&#945;-VEGF+&#945;-GM-CSF</text>
<text x="366.25" y="636.1" text-anchor="end" font-size="7" transform="rotate(-45 366.25 636.1)">(-)</text>
<text x="375.4" y="636.1" text-anchor="end" font-size="7" transform="rotate(-45 375.4 636.1)">&#945;-VEGF</text>
<text x="384.55" y="636.1" text-anchor="end" font-size="7" transform="rotate(-45 384.55 636.1)">&#945;-GM-CSF</text>
<text x="393.7" y="636.1" text-anchor="end" font-size="7" transform="rotate(-45 393.7 636.1)">&#945;-VEGF+&#945;-GM-CSF</text>
<line x1="323.15" y1="683" x2="357.4" y2="683" stroke="#222" stroke-width="1.1"/>
<line x1="361.05" y1="683" x2="395.9" y2="683" stroke="#222" stroke-width="1.1"/>
<text x="341.38" y="691.9" text-anchor="middle" font-size="8.7">EBV<tspan dy="-3.5" font-size="6.5">+</tspan></text>
<text x="341.38" y="700.6" text-anchor="middle" font-size="8.7">CNE2</text>
<text x="379.18" y="691.9" text-anchor="middle" font-size="8.7">CSE-EBV<tspan dy="-3.5" font-size="6.5">+</tspan></text>
<text x="379.18" y="700.6" text-anchor="middle" font-size="8.7">CNE2</text>
<line x1="429.9" y1="628.9" x2="429.9" y2="570.5" stroke="#333333" stroke-width="1"/>
<line x1="427.9" y1="628.4" x2="429.9" y2="628.4" stroke="#333333" stroke-width="1"/>
<text x="427.1" y="631.57" text-anchor="end" font-size="8.8">0</text>
<line x1="427.9" y1="616.92" x2="429.9" y2="616.92" stroke="#333333" stroke-width="1"/>
<text x="427.1" y="620.09" text-anchor="end" font-size="8.8">20</text>
<line x1="427.9" y1="605.44" x2="429.9" y2="605.44" stroke="#333333" stroke-width="1"/>
<text x="427.1" y="608.61" text-anchor="end" font-size="8.8">40</text>
<line x1="427.9" y1="593.96" x2="429.9" y2="593.96" stroke="#333333" stroke-width="1"/>
<text x="427.1" y="597.13" text-anchor="end" font-size="8.8">60</text>
<line x1="427.9" y1="582.48" x2="429.9" y2="582.48" stroke="#333333" stroke-width="1"/>
<text x="427.1" y="585.65" text-anchor="end" font-size="8.8">80</text>
<line x1="427.9" y1="571" x2="429.9" y2="571" stroke="#333333" stroke-width="1"/>
<text x="427.1" y="574.17" text-anchor="end" font-size="8.8">100</text>
<rect x="431.7" y="620.59" width="7" height="7.81" fill="#b2aab6"/>
<line x1="435.2" y1="620.08" x2="435.2" y2="621.09" stroke="#222" stroke-width="1"/>
<line x1="433.24" y1="620.08" x2="437.16" y2="620.08" stroke="#222" stroke-width="1"/>
<rect x="441.55" y="605.78" width="7" height="22.62" fill="#18ee18"/>
<line x1="445.05" y1="604.87" x2="445.05" y2="606.28" stroke="#222" stroke-width="1"/>
<line x1="443.09" y1="604.87" x2="447.01" y2="604.87" stroke="#222" stroke-width="1"/>
<rect x="451.4" y="619.22" width="7" height="9.18" fill="#18ee18"/>
<line x1="454.9" y1="617.21" x2="454.9" y2="619.72" stroke="#222" stroke-width="1"/>
<line x1="452.94" y1="617.21" x2="456.86" y2="617.21" stroke="#222" stroke-width="1"/>
<rect x="461.25" y="606.01" width="7" height="22.39" fill="#18ee18"/>
<line x1="464.75" y1="605.44" x2="464.75" y2="606.51" stroke="#222" stroke-width="1"/>
<line x1="462.79" y1="605.44" x2="466.71" y2="605.44" stroke="#222" stroke-width="1"/>
<rect x="471.1" y="618.93" width="7" height="9.47" fill="#18ee18"/>
<line x1="474.6" y1="617.78" x2="474.6" y2="619.43" stroke="#222" stroke-width="1"/>
<line x1="472.64" y1="617.78" x2="476.56" y2="617.78" stroke="#222" stroke-width="1"/>
<rect x="480.95" y="585.92" width="7" height="42.48" fill="#0a0af0"/>
<line x1="484.45" y1="583.91" x2="484.45" y2="586.42" stroke="#222" stroke-width="1"/>
<line x1="482.49" y1="583.91" x2="486.41" y2="583.91" stroke="#222" stroke-width="1"/>
<rect x="490.8" y="615.77" width="7" height="12.63" fill="#0a0af0"/>
<line x1="494.3" y1="615.2" x2="494.3" y2="616.27" stroke="#222" stroke-width="1"/>
<line x1="492.34" y1="615.2" x2="496.26" y2="615.2" stroke="#222" stroke-width="1"/>
<rect x="500.65" y="587.65" width="7" height="40.75" fill="#0a0af0"/>
<line x1="504.15" y1="583.91" x2="504.15" y2="588.15" stroke="#222" stroke-width="1"/>
<line x1="502.19" y1="583.91" x2="506.11" y2="583.91" stroke="#222" stroke-width="1"/>
<rect x="510.5" y="614.62" width="7" height="13.78" fill="#0a0af0"/>
<line x1="514" y1="614.05" x2="514" y2="615.12" stroke="#222" stroke-width="1"/>
<line x1="512.04" y1="614.05" x2="515.96" y2="614.05" stroke="#222" stroke-width="1"/>
<line x1="429.9" y1="628.4" x2="518.3" y2="628.4" stroke="#333333" stroke-width="1.1"/>
<text x="0" y="560" text-anchor="middle"></text>
<line x1="443.8" y1="571.2" x2="474.2" y2="571.2" stroke="#2a2a2a" stroke-width="1.1"/>
<line x1="443.8" y1="578" x2="455.4" y2="578" stroke="#2a2a2a" stroke-width="1.1"/>
<line x1="459.7" y1="578.3" x2="468" y2="578.3" stroke="#555" stroke-width="0.9"/>
<text x="457.5" y="573.5" text-anchor="middle" font-size="8.5" letter-spacing="0.6" style="stroke-width:0.5px">**</text>
<text x="450.3" y="580.6" text-anchor="middle" font-size="8.5" letter-spacing="0.6" style="stroke-width:0.5px">**</text>
<text x="458.9" y="577.3" font-size="5.6" style="stroke-width:0.15px">N.S.</text>
<line x1="484.6" y1="571.2" x2="514.6" y2="571.2" stroke="#2a2a2a" stroke-width="1.1"/>
<line x1="484.6" y1="578" x2="494.6" y2="578" stroke="#2a2a2a" stroke-width="1.1"/>
<line x1="500.5" y1="578.3" x2="509.6" y2="578.3" stroke="#555" stroke-width="0.9"/>
<text x="499.5" y="573.5" text-anchor="middle" font-size="8.5" letter-spacing="0.6" style="stroke-width:0.5px">***</text>
<text x="489.5" y="580.6" text-anchor="middle" font-size="8.5" letter-spacing="0.6" style="stroke-width:0.5px">***</text>
<text x="499.7" y="577.3" font-size="5.6" style="stroke-width:0.15px">N.S.</text>
<text x="437.2" y="636.1" text-anchor="end" font-size="7" transform="rotate(-45 437.2 636.1)">Control</text>
<text x="447.05" y="636.1" text-anchor="end" font-size="7" transform="rotate(-45 447.05 636.1)">(-)</text>
<text x="456.9" y="636.1" text-anchor="end" font-size="7" transform="rotate(-45 456.9 636.1)">&#945;-VEGF</text>
<text x="466.75" y="636.1" text-anchor="end" font-size="7" transform="rotate(-45 466.75 636.1)">&#945;-GM-CSF</text>
<text x="476.6" y="636.1" text-anchor="end" font-size="7" transform="rotate(-45 476.6 636.1)">&#945;-VEGF+&#945;-GM-CSF</text>
<text x="486.45" y="636.1" text-anchor="end" font-size="7" transform="rotate(-45 486.45 636.1)">(-)</text>
<text x="496.3" y="636.1" text-anchor="end" font-size="7" transform="rotate(-45 496.3 636.1)">&#945;-VEGF</text>
<text x="506.15" y="636.1" text-anchor="end" font-size="7" transform="rotate(-45 506.15 636.1)">&#945;-GM-CSF</text>
<text x="516" y="636.1" text-anchor="end" font-size="7" transform="rotate(-45 516 636.1)">&#945;-VEGF+&#945;-GM-CSF</text>
<line x1="440.55" y1="683" x2="476.9" y2="683" stroke="#222" stroke-width="1.1"/>
<line x1="481.25" y1="683" x2="516.3" y2="683" stroke="#222" stroke-width="1.1"/>
<text x="461.32" y="691.9" text-anchor="middle" font-size="8.7">EBV<tspan dy="-3.5" font-size="6.5">+</tspan></text>
<text x="461.32" y="700.6" text-anchor="middle" font-size="8.7">CNE2</text>
<text x="500.43" y="691.9" text-anchor="middle" font-size="8.7">CSE-EBV<tspan dy="-3.5" font-size="6.5">+</tspan></text>
<text x="500.43" y="700.6" text-anchor="middle" font-size="8.7">CNE2</text>
<text x="410.7" y="600" text-anchor="middle" font-size="8.8" transform="rotate(-90 410.7 600)">Chemotaxis(%)</text></svg>
</body></html>
